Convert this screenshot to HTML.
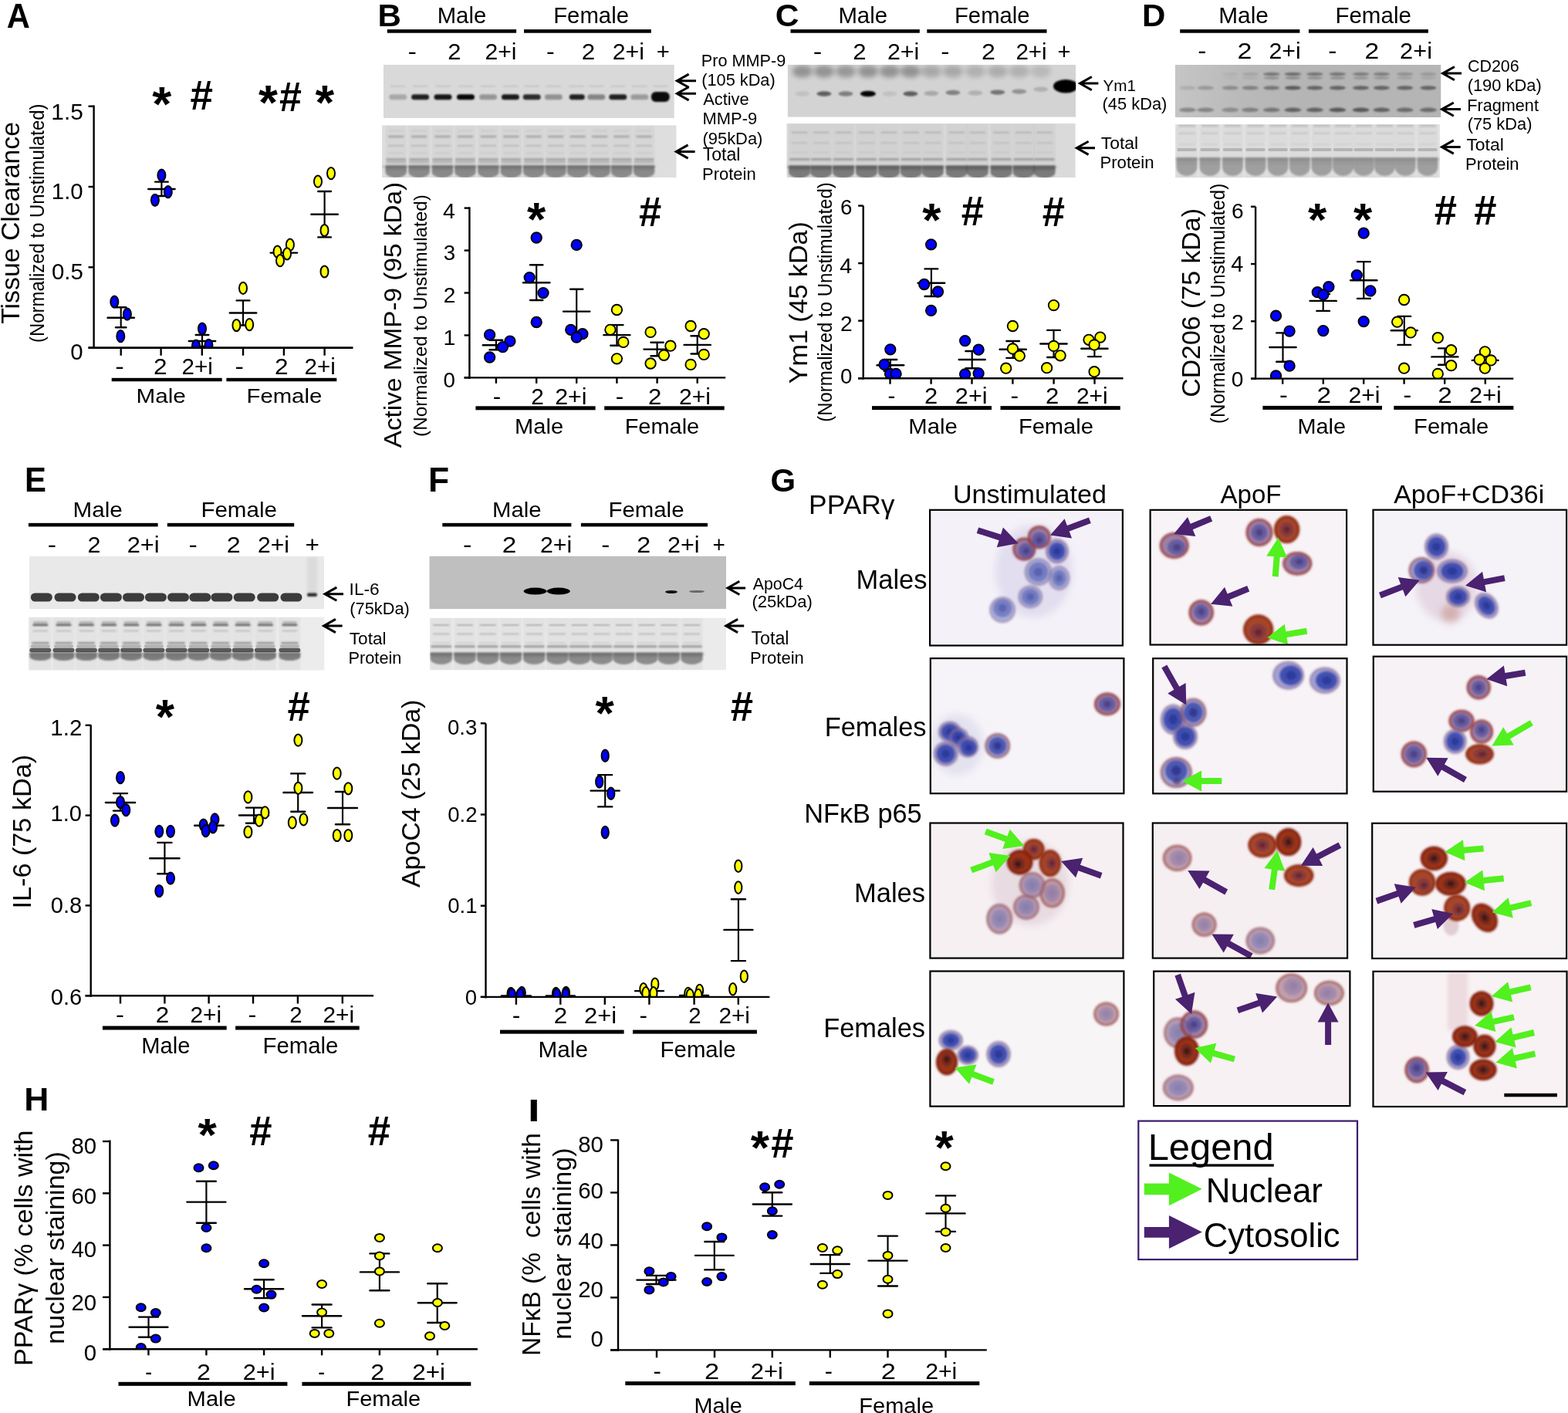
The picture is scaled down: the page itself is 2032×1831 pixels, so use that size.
<!DOCTYPE html>
<html><head><meta charset="utf-8"><title>Figure</title>
<style>html,body{margin:0;padding:0;background:#fff;} svg{display:block;}</style></head>
<body><svg xmlns="http://www.w3.org/2000/svg" width="2032" height="1831" viewBox="0 0 2032 1831" style="white-space:pre">
<defs>
<filter id="b05" x="-50%" y="-50%" width="200%" height="200%"><feGaussianBlur stdDeviation="0.6"/></filter>
<filter id="b1" x="-50%" y="-50%" width="200%" height="200%"><feGaussianBlur stdDeviation="1"/></filter>
<filter id="b15" x="-50%" y="-50%" width="200%" height="200%"><feGaussianBlur stdDeviation="1.5"/></filter>
<filter id="b2" x="-50%" y="-50%" width="200%" height="200%"><feGaussianBlur stdDeviation="2"/></filter>
<filter id="b3" x="-50%" y="-50%" width="200%" height="200%"><feGaussianBlur stdDeviation="3"/></filter>
<linearGradient id="gD" x1="0" y1="0" x2="1" y2="0"><stop offset="0" stop-color="#fff" stop-opacity="0.22"/><stop offset="0.25" stop-color="#fff" stop-opacity="0.06"/><stop offset="0.5" stop-color="#fff" stop-opacity="0"/><stop offset="1" stop-color="#fff" stop-opacity="0"/></linearGradient>
<filter id="b4" x="-50%" y="-50%" width="200%" height="200%"><feGaussianBlur stdDeviation="4"/></filter>

<filter id="cb1" x="-50%" y="-50%" width="200%" height="200%"><feGaussianBlur stdDeviation="1.8"/></filter>
<filter id="cb2" x="-50%" y="-50%" width="200%" height="200%"><feGaussianBlur stdDeviation="2.6"/></filter>
<filter id="cb3" x="-50%" y="-50%" width="200%" height="200%"><feGaussianBlur stdDeviation="5"/></filter>
</defs>
<rect width="2032" height="1831" fill="#fff"/>
<line x1="139.5" y1="411.7" x2="173.9" y2="411.7" stroke="#000" stroke-width="2.4" stroke-linecap="round"/>
<line x1="156.7" y1="398.3" x2="156.7" y2="424.2" stroke="#000" stroke-width="2.16" stroke-linecap="butt"/>
<line x1="150.1" y1="398.3" x2="163.3" y2="398.3" stroke="#000" stroke-width="2.4" stroke-linecap="round"/>
<line x1="150.1" y1="424.2" x2="163.3" y2="424.2" stroke="#000" stroke-width="2.4" stroke-linecap="round"/>
<line x1="192.2" y1="245" x2="226.6" y2="245" stroke="#000" stroke-width="2.4" stroke-linecap="round"/>
<line x1="209.4" y1="235.6" x2="209.4" y2="254" stroke="#000" stroke-width="2.16" stroke-linecap="butt"/>
<line x1="201.1" y1="235.6" x2="217.7" y2="235.6" stroke="#000" stroke-width="2.4" stroke-linecap="round"/>
<line x1="201.1" y1="254" x2="217.7" y2="254" stroke="#000" stroke-width="2.4" stroke-linecap="round"/>
<line x1="244.8" y1="442" x2="279.2" y2="442" stroke="#000" stroke-width="2.4" stroke-linecap="round"/>
<line x1="262" y1="434" x2="262" y2="449" stroke="#000" stroke-width="2.16" stroke-linecap="butt"/>
<line x1="253.7" y1="434" x2="270.3" y2="434" stroke="#000" stroke-width="2.4" stroke-linecap="round"/>
<line x1="253.7" y1="449" x2="270.3" y2="449" stroke="#000" stroke-width="2.4" stroke-linecap="round"/>
<line x1="297.8" y1="405.5" x2="332.2" y2="405.5" stroke="#000" stroke-width="2.4" stroke-linecap="round"/>
<line x1="315" y1="389.4" x2="315" y2="421.5" stroke="#000" stroke-width="2.16" stroke-linecap="butt"/>
<line x1="306.7" y1="389.4" x2="323.3" y2="389.4" stroke="#000" stroke-width="2.4" stroke-linecap="round"/>
<line x1="306.7" y1="421.5" x2="323.3" y2="421.5" stroke="#000" stroke-width="2.4" stroke-linecap="round"/>
<line x1="350.7" y1="327.6" x2="385.1" y2="327.6" stroke="#000" stroke-width="2.4" stroke-linecap="round"/>
<line x1="403.4" y1="277.7" x2="437.8" y2="277.7" stroke="#000" stroke-width="2.4" stroke-linecap="round"/>
<line x1="420.6" y1="248" x2="420.6" y2="307.4" stroke="#000" stroke-width="2.16" stroke-linecap="butt"/>
<line x1="412.3" y1="248" x2="428.9" y2="248" stroke="#000" stroke-width="2.4" stroke-linecap="round"/>
<line x1="412.3" y1="307.4" x2="428.9" y2="307.4" stroke="#000" stroke-width="2.4" stroke-linecap="round"/>
<clipPath id="pc1"><rect x="121.6" y="96.4" width="335.9" height="354.2"/></clipPath>
<g clip-path="url(#pc1)">
<ellipse cx="148.3" cy="391.2" rx="5" ry="7.6" fill="#0000ff" stroke="#000" stroke-width="2"/>
<ellipse cx="164.9" cy="407.2" rx="5" ry="7.6" fill="#0000ff" stroke="#000" stroke-width="2"/>
<ellipse cx="156.3" cy="435.7" rx="5" ry="7.6" fill="#0000ff" stroke="#000" stroke-width="2"/>
<ellipse cx="209.4" cy="227.2" rx="5" ry="7.6" fill="#0000ff" stroke="#000" stroke-width="2"/>
<ellipse cx="217.8" cy="248.6" rx="5" ry="7.6" fill="#0000ff" stroke="#000" stroke-width="2"/>
<ellipse cx="200.9" cy="259.3" rx="5" ry="7.6" fill="#0000ff" stroke="#000" stroke-width="2"/>
<ellipse cx="262" cy="426" rx="5" ry="7.6" fill="#0000ff" stroke="#000" stroke-width="2"/>
<ellipse cx="254" cy="448.2" rx="5" ry="7.6" fill="#0000ff" stroke="#000" stroke-width="2"/>
<ellipse cx="270.4" cy="447.3" rx="5" ry="7.6" fill="#0000ff" stroke="#000" stroke-width="2"/>
<ellipse cx="315" cy="373.4" rx="5" ry="7.6" fill="#ffff00" stroke="#000" stroke-width="2"/>
<ellipse cx="306.4" cy="421.5" rx="5" ry="7.6" fill="#ffff00" stroke="#000" stroke-width="2"/>
<ellipse cx="323.2" cy="420.6" rx="5" ry="7.6" fill="#ffff00" stroke="#000" stroke-width="2"/>
<ellipse cx="359.5" cy="326.1" rx="5" ry="7.6" fill="#ffff00" stroke="#000" stroke-width="2"/>
<ellipse cx="375.9" cy="317.2" rx="5" ry="7.6" fill="#ffff00" stroke="#000" stroke-width="2"/>
<ellipse cx="372" cy="328.8" rx="5" ry="7.6" fill="#ffff00" stroke="#000" stroke-width="2"/>
<ellipse cx="363" cy="337.7" rx="5" ry="7.6" fill="#ffff00" stroke="#000" stroke-width="2"/>
<ellipse cx="412" cy="235.2" rx="5" ry="7.6" fill="#ffff00" stroke="#000" stroke-width="2"/>
<ellipse cx="429" cy="224.6" rx="5" ry="7.6" fill="#ffff00" stroke="#000" stroke-width="2"/>
<ellipse cx="420.5" cy="298.5" rx="5" ry="7.6" fill="#ffff00" stroke="#000" stroke-width="2"/>
<ellipse cx="420.5" cy="352" rx="5" ry="7.6" fill="#ffff00" stroke="#000" stroke-width="2"/>
</g>
<line x1="121.6" y1="136.4" x2="121.6" y2="452.1" stroke="#000" stroke-width="2.4" stroke-linecap="butt"/>
<line x1="114.5" y1="450.6" x2="457.5" y2="450.6" stroke="#000" stroke-width="2.6" stroke-linecap="butt"/>
<line x1="114.5" y1="137.7" x2="121.6" y2="137.7" stroke="#000" stroke-width="2.4" stroke-linecap="butt"/>
<line x1="114.5" y1="242" x2="121.6" y2="242" stroke="#000" stroke-width="2.4" stroke-linecap="butt"/>
<line x1="114.5" y1="346.3" x2="121.6" y2="346.3" stroke="#000" stroke-width="2.4" stroke-linecap="butt"/>
<line x1="114.5" y1="450.6" x2="121.6" y2="450.6" stroke="#000" stroke-width="2.4" stroke-linecap="butt"/>
<line x1="156.7" y1="450.6" x2="156.7" y2="460.7" stroke="#000" stroke-width="2.4" stroke-linecap="butt"/>
<line x1="208.6" y1="450.6" x2="208.6" y2="460.7" stroke="#000" stroke-width="2.4" stroke-linecap="butt"/>
<line x1="261.8" y1="450.6" x2="261.8" y2="460.7" stroke="#000" stroke-width="2.4" stroke-linecap="butt"/>
<line x1="315" y1="450.6" x2="315" y2="460.7" stroke="#000" stroke-width="2.4" stroke-linecap="butt"/>
<line x1="367.9" y1="450.6" x2="367.9" y2="460.7" stroke="#000" stroke-width="2.4" stroke-linecap="butt"/>
<line x1="420.6" y1="450.6" x2="420.6" y2="460.7" stroke="#000" stroke-width="2.4" stroke-linecap="butt"/>
<text transform="translate(66.33 154.5)" font-size="29.799" font-family="Liberation Sans, Arial, sans-serif" fill="#000">1.5</text>
<text transform="translate(66.81 258.01)" font-size="29.379" font-family="Liberation Sans, Arial, sans-serif" fill="#000">1.0</text>
<text transform="translate(66.9 361.61)" font-size="29.379" font-family="Liberation Sans, Arial, sans-serif" fill="#000">0.5</text>
<text transform="translate(91.31 465.51)" font-size="29.379" font-family="Liberation Sans, Arial, sans-serif" fill="#000">0</text>
<text transform="translate(197.21 155.68) scale(1.0000 0.9805)" font-size="64.156" font-family="Liberation Sans, Arial, sans-serif" font-weight="bold" fill="#000">*</text>
<text transform="translate(246.6 142) scale(1.0000 1.0258)" font-size="52.964" font-family="Liberation Sans, Arial, sans-serif" font-weight="bold" fill="#000">#</text>
<text transform="translate(334.91 154.08) scale(1.0000 0.9805)" font-size="64.156" font-family="Liberation Sans, Arial, sans-serif" font-weight="bold" fill="#000">*</text>
<text transform="translate(362.02 143.8) scale(1.0000 1.0390)" font-size="52.008" font-family="Liberation Sans, Arial, sans-serif" font-weight="bold" fill="#000">#</text>
<text transform="translate(408.41 154.42) scale(1.0000 0.9798)" font-size="63.377" font-family="Liberation Sans, Arial, sans-serif" font-weight="bold" fill="#000">*</text>
<text transform="translate(149.37 485.4) scale(1.0000 0.8507)" font-size="34.694" font-family="Liberation Sans, Arial, sans-serif" fill="#000">-</text>
<text transform="translate(199.02 485.4) scale(1.0000 0.9346)" font-size="31.579" font-family="Liberation Sans, Arial, sans-serif" fill="#000">2</text>
<text transform="translate(235.52 485.4)" font-size="29.558" font-family="Liberation Sans, Arial, sans-serif" fill="#000">2+i</text>
<text transform="translate(304.49 485.4) scale(1.0000 0.8608)" font-size="34.286" font-family="Liberation Sans, Arial, sans-serif" fill="#000">-</text>
<text transform="translate(356.02 485.4) scale(1.0000 0.9346)" font-size="31.579" font-family="Liberation Sans, Arial, sans-serif" fill="#000">2</text>
<text transform="translate(394.52 485.4)" font-size="29.558" font-family="Liberation Sans, Arial, sans-serif" fill="#000">2+i</text>
<rect x="144.7" y="489.8" width="143" height="4.4" fill="#000" />
<rect x="293.4" y="489.8" width="142.9" height="4.4" fill="#000" />
<text transform="translate(176.57 522.23) scale(1.0000 0.8996)" font-size="29.642" font-family="Liberation Sans, Arial, sans-serif" fill="#000">Male</text>
<text transform="translate(319.6 522.23) scale(1.0000 0.9110)" font-size="29.271" font-family="Liberation Sans, Arial, sans-serif" fill="#000">Female</text>
<text transform="translate(24.87 419.84) rotate(-90) scale(1 0.9771)" font-size="33.837" font-family="Liberation Sans, Arial, sans-serif" fill="#000">Tissue Clearance</text>
<text transform="translate(57.2 443.88) rotate(-90) scale(1 1.0910)" font-size="23.899" font-family="Liberation Sans, Arial, sans-serif" fill="#000">(Normalized to Unstimulated)</text>
<line x1="625.8" y1="447.3" x2="660" y2="447.3" stroke="#000" stroke-width="2.4" stroke-linecap="round"/>
<line x1="642.9" y1="440.7" x2="642.9" y2="453.2" stroke="#000" stroke-width="2.16" stroke-linecap="butt"/>
<line x1="634.6" y1="440.7" x2="651.2" y2="440.7" stroke="#000" stroke-width="2.4" stroke-linecap="round"/>
<line x1="634.6" y1="453.2" x2="651.2" y2="453.2" stroke="#000" stroke-width="2.4" stroke-linecap="round"/>
<line x1="678.1" y1="366.2" x2="712.3" y2="366.2" stroke="#000" stroke-width="2.4" stroke-linecap="round"/>
<line x1="695.2" y1="343.2" x2="695.2" y2="389" stroke="#000" stroke-width="2.16" stroke-linecap="butt"/>
<line x1="687.1" y1="343.2" x2="703.3" y2="343.2" stroke="#000" stroke-width="2.4" stroke-linecap="round"/>
<line x1="687.1" y1="389" x2="703.3" y2="389" stroke="#000" stroke-width="2.4" stroke-linecap="round"/>
<line x1="730.1" y1="403.6" x2="764.3" y2="403.6" stroke="#000" stroke-width="2.4" stroke-linecap="round"/>
<line x1="747.2" y1="374.8" x2="747.2" y2="432.7" stroke="#000" stroke-width="2.16" stroke-linecap="butt"/>
<line x1="739.1" y1="374.8" x2="755.3" y2="374.8" stroke="#000" stroke-width="2.4" stroke-linecap="round"/>
<line x1="739.1" y1="432.7" x2="755.3" y2="432.7" stroke="#000" stroke-width="2.4" stroke-linecap="round"/>
<line x1="782.3" y1="434.1" x2="816.5" y2="434.1" stroke="#000" stroke-width="2.4" stroke-linecap="round"/>
<line x1="799.4" y1="421.1" x2="799.4" y2="447.8" stroke="#000" stroke-width="2.16" stroke-linecap="butt"/>
<line x1="791.3" y1="421.1" x2="807.5" y2="421.1" stroke="#000" stroke-width="2.4" stroke-linecap="round"/>
<line x1="791.3" y1="447.8" x2="807.5" y2="447.8" stroke="#000" stroke-width="2.4" stroke-linecap="round"/>
<line x1="834.5" y1="452.6" x2="868.7" y2="452.6" stroke="#000" stroke-width="2.4" stroke-linecap="round"/>
<line x1="851.6" y1="443.7" x2="851.6" y2="461.2" stroke="#000" stroke-width="2.16" stroke-linecap="butt"/>
<line x1="843.5" y1="443.7" x2="859.7" y2="443.7" stroke="#000" stroke-width="2.4" stroke-linecap="round"/>
<line x1="843.5" y1="461.2" x2="859.7" y2="461.2" stroke="#000" stroke-width="2.4" stroke-linecap="round"/>
<line x1="886.6" y1="446.9" x2="920.8" y2="446.9" stroke="#000" stroke-width="2.4" stroke-linecap="round"/>
<line x1="903.7" y1="435.3" x2="903.7" y2="458.5" stroke="#000" stroke-width="2.16" stroke-linecap="butt"/>
<line x1="895.6" y1="435.3" x2="911.8" y2="435.3" stroke="#000" stroke-width="2.4" stroke-linecap="round"/>
<line x1="895.6" y1="458.5" x2="911.8" y2="458.5" stroke="#000" stroke-width="2.4" stroke-linecap="round"/>
<clipPath id="pc2"><rect x="608.4" y="228.4" width="331.8" height="261"/></clipPath>
<g clip-path="url(#pc2)">
<ellipse cx="634.6" cy="433.9" rx="6.7" ry="6.7" fill="#0000ff" stroke="#000" stroke-width="1.9"/>
<ellipse cx="660.9" cy="442.1" rx="6.7" ry="6.7" fill="#0000ff" stroke="#000" stroke-width="1.9"/>
<ellipse cx="651.5" cy="449.6" rx="6.7" ry="6.7" fill="#0000ff" stroke="#000" stroke-width="1.9"/>
<ellipse cx="634.6" cy="463" rx="6.7" ry="6.7" fill="#0000ff" stroke="#000" stroke-width="1.9"/>
<ellipse cx="695.2" cy="308" rx="6.7" ry="6.7" fill="#0000ff" stroke="#000" stroke-width="1.9"/>
<ellipse cx="686.2" cy="359.6" rx="6.7" ry="6.7" fill="#0000ff" stroke="#000" stroke-width="1.9"/>
<ellipse cx="704" cy="379.6" rx="6.7" ry="6.7" fill="#0000ff" stroke="#000" stroke-width="1.9"/>
<ellipse cx="695.2" cy="417.5" rx="6.7" ry="6.7" fill="#0000ff" stroke="#000" stroke-width="1.9"/>
<ellipse cx="747.2" cy="317.4" rx="6.7" ry="6.7" fill="#0000ff" stroke="#000" stroke-width="1.9"/>
<ellipse cx="739.7" cy="427.3" rx="6.7" ry="6.7" fill="#0000ff" stroke="#000" stroke-width="1.9"/>
<ellipse cx="754.9" cy="432.7" rx="6.7" ry="6.7" fill="#0000ff" stroke="#000" stroke-width="1.9"/>
<ellipse cx="747.2" cy="437.1" rx="6.7" ry="6.7" fill="#0000ff" stroke="#000" stroke-width="1.9"/>
<ellipse cx="799.4" cy="401.5" rx="6.7" ry="6.7" fill="#ffff00" stroke="#000" stroke-width="1.9"/>
<ellipse cx="790.9" cy="427.3" rx="6.7" ry="6.7" fill="#ffff00" stroke="#000" stroke-width="1.9"/>
<ellipse cx="807.8" cy="443.4" rx="6.7" ry="6.7" fill="#ffff00" stroke="#000" stroke-width="1.9"/>
<ellipse cx="799.4" cy="464.8" rx="6.7" ry="6.7" fill="#ffff00" stroke="#000" stroke-width="1.9"/>
<ellipse cx="843.1" cy="430.4" rx="6.7" ry="6.7" fill="#ffff00" stroke="#000" stroke-width="1.9"/>
<ellipse cx="868.9" cy="448.2" rx="6.7" ry="6.7" fill="#ffff00" stroke="#000" stroke-width="1.9"/>
<ellipse cx="860.4" cy="460.3" rx="6.7" ry="6.7" fill="#ffff00" stroke="#000" stroke-width="1.9"/>
<ellipse cx="843.1" cy="471" rx="6.7" ry="6.7" fill="#ffff00" stroke="#000" stroke-width="1.9"/>
<ellipse cx="895.1" cy="422.5" rx="6.7" ry="6.7" fill="#ffff00" stroke="#000" stroke-width="1.9"/>
<ellipse cx="912.2" cy="432.7" rx="6.7" ry="6.7" fill="#ffff00" stroke="#000" stroke-width="1.9"/>
<ellipse cx="912.2" cy="459.4" rx="6.7" ry="6.7" fill="#ffff00" stroke="#000" stroke-width="1.9"/>
<ellipse cx="895.1" cy="472.4" rx="6.7" ry="6.7" fill="#ffff00" stroke="#000" stroke-width="1.9"/>
</g>
<line x1="608.4" y1="268.4" x2="608.4" y2="490.9" stroke="#000" stroke-width="2.4" stroke-linecap="butt"/>
<line x1="601.6" y1="489.4" x2="940.2" y2="489.4" stroke="#000" stroke-width="2.4" stroke-linecap="butt"/>
<line x1="601.6" y1="269.6" x2="608.4" y2="269.6" stroke="#000" stroke-width="2.4" stroke-linecap="butt"/>
<line x1="601.6" y1="324.55" x2="608.4" y2="324.55" stroke="#000" stroke-width="2.4" stroke-linecap="butt"/>
<line x1="601.6" y1="379.5" x2="608.4" y2="379.5" stroke="#000" stroke-width="2.4" stroke-linecap="butt"/>
<line x1="601.6" y1="434.45" x2="608.4" y2="434.45" stroke="#000" stroke-width="2.4" stroke-linecap="butt"/>
<line x1="601.6" y1="489.4" x2="608.4" y2="489.4" stroke="#000" stroke-width="2.4" stroke-linecap="butt"/>
<line x1="642.9" y1="489.4" x2="642.9" y2="496.8" stroke="#000" stroke-width="2.4" stroke-linecap="butt"/>
<line x1="695.2" y1="489.4" x2="695.2" y2="496.8" stroke="#000" stroke-width="2.4" stroke-linecap="butt"/>
<line x1="747.2" y1="489.4" x2="747.2" y2="496.8" stroke="#000" stroke-width="2.4" stroke-linecap="butt"/>
<line x1="799.4" y1="489.4" x2="799.4" y2="496.8" stroke="#000" stroke-width="2.4" stroke-linecap="butt"/>
<line x1="851.6" y1="489.4" x2="851.6" y2="496.8" stroke="#000" stroke-width="2.4" stroke-linecap="butt"/>
<line x1="903.7" y1="489.4" x2="903.7" y2="496.8" stroke="#000" stroke-width="2.4" stroke-linecap="butt"/>
<text transform="translate(573.89 282.7)" font-size="28.488" font-family="Liberation Sans, Arial, sans-serif" fill="#000">4</text>
<text transform="translate(574.73 337.02)" font-size="27.684" font-family="Liberation Sans, Arial, sans-serif" fill="#000">3</text>
<text transform="translate(574.69 391.9)" font-size="28.080" font-family="Liberation Sans, Arial, sans-serif" fill="#000">2</text>
<text transform="translate(574.46 446.8)" font-size="28.488" font-family="Liberation Sans, Arial, sans-serif" fill="#000">1</text>
<text transform="translate(574.59 501.52)" font-size="27.684" font-family="Liberation Sans, Arial, sans-serif" fill="#000">0</text>
<text transform="translate(683.01 304.8) scale(1.0000 0.9746)" font-size="62.338" font-family="Liberation Sans, Arial, sans-serif" font-weight="bold" fill="#000">*</text>
<text transform="translate(828.06 292.8) scale(1.0000 1.0277)" font-size="52.581" font-family="Liberation Sans, Arial, sans-serif" font-weight="bold" fill="#000">#</text>
<text transform="translate(638.72 523.8) scale(1.0000 0.9390)" font-size="31.429" font-family="Liberation Sans, Arial, sans-serif" fill="#000">-</text>
<text transform="translate(688.31 523.8) scale(1.0000 0.9895)" font-size="29.825" font-family="Liberation Sans, Arial, sans-serif" fill="#000">2</text>
<text transform="translate(719.18 523.8) scale(1.0000 0.9721)" font-size="30.361" font-family="Liberation Sans, Arial, sans-serif" fill="#000">2+i</text>
<text transform="translate(797.82 523.8) scale(1.0000 0.9390)" font-size="31.429" font-family="Liberation Sans, Arial, sans-serif" fill="#000">-</text>
<text transform="translate(840.04 523.8) scale(1.0000 0.9477)" font-size="31.140" font-family="Liberation Sans, Arial, sans-serif" fill="#000">2</text>
<text transform="translate(880 523.8) scale(1.0000 0.9824)" font-size="30.040" font-family="Liberation Sans, Arial, sans-serif" fill="#000">2+i</text>
<rect x="616.4" y="526.3" width="155.2" height="5" fill="#000" />
<rect x="783.2" y="526.3" width="155.5" height="5" fill="#000" />
<text transform="translate(667.12 561.93) scale(1.0000 0.9412)" font-size="29.054" font-family="Liberation Sans, Arial, sans-serif" fill="#000">Male</text>
<text transform="translate(809.63 561.93) scale(1.0000 0.9443)" font-size="28.959" font-family="Liberation Sans, Arial, sans-serif" fill="#000">Female</text>
<text transform="translate(520.23 580.27) rotate(-90) scale(1 0.9241)" font-size="33.324" font-family="Liberation Sans, Arial, sans-serif" fill="#000">Active MMP-9 (95 kDa)</text>
<text transform="translate(553.32 565.9) rotate(-90) scale(1 0.9921)" font-size="24.226" font-family="Liberation Sans, Arial, sans-serif" fill="#000">(Normalized to Unstimulated)</text>
<line x1="1136.6" y1="473.3" x2="1171.2" y2="473.3" stroke="#000" stroke-width="2.4" stroke-linecap="round"/>
<line x1="1153.9" y1="466" x2="1153.9" y2="480.8" stroke="#000" stroke-width="2.16" stroke-linecap="butt"/>
<line x1="1145.6" y1="466" x2="1162.2" y2="466" stroke="#000" stroke-width="2.4" stroke-linecap="round"/>
<line x1="1145.6" y1="480.8" x2="1162.2" y2="480.8" stroke="#000" stroke-width="2.4" stroke-linecap="round"/>
<line x1="1189.6" y1="366.7" x2="1224.2" y2="366.7" stroke="#000" stroke-width="2.4" stroke-linecap="round"/>
<line x1="1206.9" y1="348.4" x2="1206.9" y2="384" stroke="#000" stroke-width="2.16" stroke-linecap="butt"/>
<line x1="1198.6" y1="348.4" x2="1215.2" y2="348.4" stroke="#000" stroke-width="2.4" stroke-linecap="round"/>
<line x1="1198.6" y1="384" x2="1215.2" y2="384" stroke="#000" stroke-width="2.4" stroke-linecap="round"/>
<line x1="1242.7" y1="466" x2="1276.7" y2="466" stroke="#000" stroke-width="2.4" stroke-linecap="round"/>
<line x1="1259.7" y1="455" x2="1259.7" y2="477.2" stroke="#000" stroke-width="2.16" stroke-linecap="butt"/>
<line x1="1251.4" y1="455" x2="1268" y2="455" stroke="#000" stroke-width="2.4" stroke-linecap="round"/>
<line x1="1251.4" y1="477.2" x2="1268" y2="477.2" stroke="#000" stroke-width="2.4" stroke-linecap="round"/>
<line x1="1295.6" y1="452.8" x2="1329.8" y2="452.8" stroke="#000" stroke-width="2.4" stroke-linecap="round"/>
<line x1="1312.7" y1="442" x2="1312.7" y2="463.9" stroke="#000" stroke-width="2.16" stroke-linecap="butt"/>
<line x1="1304.4" y1="442" x2="1321" y2="442" stroke="#000" stroke-width="2.4" stroke-linecap="round"/>
<line x1="1304.4" y1="463.9" x2="1321" y2="463.9" stroke="#000" stroke-width="2.4" stroke-linecap="round"/>
<line x1="1348.4" y1="445.5" x2="1382.6" y2="445.5" stroke="#000" stroke-width="2.4" stroke-linecap="round"/>
<line x1="1365.5" y1="427.9" x2="1365.5" y2="463" stroke="#000" stroke-width="2.16" stroke-linecap="butt"/>
<line x1="1357.2" y1="427.9" x2="1373.8" y2="427.9" stroke="#000" stroke-width="2.4" stroke-linecap="round"/>
<line x1="1357.2" y1="463" x2="1373.8" y2="463" stroke="#000" stroke-width="2.4" stroke-linecap="round"/>
<line x1="1401.3" y1="451.7" x2="1435.5" y2="451.7" stroke="#000" stroke-width="2.4" stroke-linecap="round"/>
<line x1="1418.4" y1="441" x2="1418.4" y2="462.1" stroke="#000" stroke-width="2.16" stroke-linecap="butt"/>
<line x1="1410.1" y1="441" x2="1426.7" y2="441" stroke="#000" stroke-width="2.4" stroke-linecap="round"/>
<line x1="1410.1" y1="462.1" x2="1426.7" y2="462.1" stroke="#000" stroke-width="2.4" stroke-linecap="round"/>
<clipPath id="pc3"><rect x="1118.7" y="226.6" width="336.8" height="263.6"/></clipPath>
<g clip-path="url(#pc3)">
<ellipse cx="1153.8" cy="452.8" rx="6.7" ry="6.7" fill="#0000ff" stroke="#000" stroke-width="1.9"/>
<ellipse cx="1146" cy="472.4" rx="6.7" ry="6.7" fill="#0000ff" stroke="#000" stroke-width="1.9"/>
<ellipse cx="1153.5" cy="484.4" rx="6.7" ry="6.7" fill="#0000ff" stroke="#000" stroke-width="1.9"/>
<ellipse cx="1161.1" cy="484.4" rx="6.7" ry="6.7" fill="#0000ff" stroke="#000" stroke-width="1.9"/>
<ellipse cx="1206.6" cy="316.8" rx="6.7" ry="6.7" fill="#0000ff" stroke="#000" stroke-width="1.9"/>
<ellipse cx="1197.7" cy="368.5" rx="6.7" ry="6.7" fill="#0000ff" stroke="#000" stroke-width="1.9"/>
<ellipse cx="1215.5" cy="378" rx="6.7" ry="6.7" fill="#0000ff" stroke="#000" stroke-width="1.9"/>
<ellipse cx="1206.6" cy="402.4" rx="6.7" ry="6.7" fill="#0000ff" stroke="#000" stroke-width="1.9"/>
<ellipse cx="1250.6" cy="441.6" rx="6.7" ry="6.7" fill="#0000ff" stroke="#000" stroke-width="1.9"/>
<ellipse cx="1268.1" cy="453.2" rx="6.7" ry="6.7" fill="#0000ff" stroke="#000" stroke-width="1.9"/>
<ellipse cx="1250.6" cy="484.9" rx="6.7" ry="6.7" fill="#0000ff" stroke="#000" stroke-width="1.9"/>
<ellipse cx="1268.1" cy="483.8" rx="6.7" ry="6.7" fill="#0000ff" stroke="#000" stroke-width="1.9"/>
<ellipse cx="1312.4" cy="422.5" rx="6.7" ry="6.7" fill="#ffff00" stroke="#000" stroke-width="1.9"/>
<ellipse cx="1312.4" cy="451.9" rx="6.7" ry="6.7" fill="#ffff00" stroke="#000" stroke-width="1.9"/>
<ellipse cx="1321.3" cy="461.2" rx="6.7" ry="6.7" fill="#ffff00" stroke="#000" stroke-width="1.9"/>
<ellipse cx="1303.7" cy="477.2" rx="6.7" ry="6.7" fill="#ffff00" stroke="#000" stroke-width="1.9"/>
<ellipse cx="1365.5" cy="395.6" rx="6.7" ry="6.7" fill="#ffff00" stroke="#000" stroke-width="1.9"/>
<ellipse cx="1365.5" cy="448.4" rx="6.7" ry="6.7" fill="#ffff00" stroke="#000" stroke-width="1.9"/>
<ellipse cx="1374.1" cy="460.8" rx="6.7" ry="6.7" fill="#ffff00" stroke="#000" stroke-width="1.9"/>
<ellipse cx="1356.6" cy="476.7" rx="6.7" ry="6.7" fill="#ffff00" stroke="#000" stroke-width="1.9"/>
<ellipse cx="1411" cy="440.3" rx="6.7" ry="6.7" fill="#ffff00" stroke="#000" stroke-width="1.9"/>
<ellipse cx="1425.8" cy="437.1" rx="6.7" ry="6.7" fill="#ffff00" stroke="#000" stroke-width="1.9"/>
<ellipse cx="1418.1" cy="446.9" rx="6.7" ry="6.7" fill="#ffff00" stroke="#000" stroke-width="1.9"/>
<ellipse cx="1418.1" cy="481.7" rx="6.7" ry="6.7" fill="#ffff00" stroke="#000" stroke-width="1.9"/>
</g>
<line x1="1118.7" y1="266.6" x2="1118.7" y2="491.7" stroke="#000" stroke-width="2.4" stroke-linecap="butt"/>
<line x1="1112.1" y1="490.2" x2="1455.5" y2="490.2" stroke="#000" stroke-width="2.4" stroke-linecap="butt"/>
<line x1="1112.1" y1="266.58" x2="1118.7" y2="266.58" stroke="#000" stroke-width="2.4" stroke-linecap="butt"/>
<line x1="1112.1" y1="341.12" x2="1118.7" y2="341.12" stroke="#000" stroke-width="2.4" stroke-linecap="butt"/>
<line x1="1112.1" y1="415.66" x2="1118.7" y2="415.66" stroke="#000" stroke-width="2.4" stroke-linecap="butt"/>
<line x1="1112.1" y1="490.2" x2="1118.7" y2="490.2" stroke="#000" stroke-width="2.4" stroke-linecap="butt"/>
<line x1="1153.5" y1="490.2" x2="1153.5" y2="497.7" stroke="#000" stroke-width="2.4" stroke-linecap="butt"/>
<line x1="1206.6" y1="490.2" x2="1206.6" y2="497.7" stroke="#000" stroke-width="2.4" stroke-linecap="butt"/>
<line x1="1259.5" y1="490.2" x2="1259.5" y2="497.7" stroke="#000" stroke-width="2.4" stroke-linecap="butt"/>
<line x1="1312.4" y1="490.2" x2="1312.4" y2="497.7" stroke="#000" stroke-width="2.4" stroke-linecap="butt"/>
<line x1="1365.6" y1="490.2" x2="1365.6" y2="497.7" stroke="#000" stroke-width="2.4" stroke-linecap="butt"/>
<line x1="1418.5" y1="490.2" x2="1418.5" y2="497.7" stroke="#000" stroke-width="2.4" stroke-linecap="butt"/>
<text transform="translate(1089.03 278.22)" font-size="27.684" font-family="Liberation Sans, Arial, sans-serif" fill="#000">6</text>
<text transform="translate(1088.19 353.8)" font-size="28.488" font-family="Liberation Sans, Arial, sans-serif" fill="#000">4</text>
<text transform="translate(1088.99 428.6)" font-size="28.080" font-family="Liberation Sans, Arial, sans-serif" fill="#000">2</text>
<text transform="translate(1088.89 497.32)" font-size="27.684" font-family="Liberation Sans, Arial, sans-serif" fill="#000">0</text>
<text transform="translate(1195.31 306.43) scale(1.0000 0.9659)" font-size="62.338" font-family="Liberation Sans, Arial, sans-serif" font-weight="bold" fill="#000">*</text>
<text transform="translate(1245.76 291.9) scale(1.0000 1.0221)" font-size="52.581" font-family="Liberation Sans, Arial, sans-serif" font-weight="bold" fill="#000">#</text>
<text transform="translate(1350.86 293) scale(1.0000 1.0054)" font-size="52.581" font-family="Liberation Sans, Arial, sans-serif" font-weight="bold" fill="#000">#</text>
<text transform="translate(1150.61 523.4) scale(1.0000 1.0043)" font-size="29.388" font-family="Liberation Sans, Arial, sans-serif" fill="#000">-</text>
<text transform="translate(1197.95 523.4) scale(1.0000 0.9545)" font-size="30.921" font-family="Liberation Sans, Arial, sans-serif" fill="#000">2</text>
<text transform="translate(1237.87 523.4) scale(1.0000 0.9644)" font-size="30.602" font-family="Liberation Sans, Arial, sans-serif" fill="#000">2+i</text>
<text transform="translate(1309.5 523.4) scale(1.0000 0.9270)" font-size="31.837" font-family="Liberation Sans, Arial, sans-serif" fill="#000">-</text>
<text transform="translate(1354.94 523.4) scale(1.0000 0.9477)" font-size="31.140" font-family="Liberation Sans, Arial, sans-serif" fill="#000">2</text>
<text transform="translate(1394.9 523.4) scale(1.0000 0.9851)" font-size="29.960" font-family="Liberation Sans, Arial, sans-serif" fill="#000">2+i</text>
<rect x="1130" y="526.1" width="155" height="5" fill="#000" />
<rect x="1296.5" y="526.1" width="155.2" height="5" fill="#000" />
<text transform="translate(1177.3 561.93) scale(1.0000 0.9349)" font-size="29.250" font-family="Liberation Sans, Arial, sans-serif" fill="#000">Male</text>
<text transform="translate(1319.91 561.93) scale(1.0000 0.9393)" font-size="29.115" font-family="Liberation Sans, Arial, sans-serif" fill="#000">Female</text>
<text transform="translate(1045.94 497.15) rotate(-90) scale(1 0.9735)" font-size="34.057" font-family="Liberation Sans, Arial, sans-serif" fill="#000">Ym1 (45 kDa)</text>
<text transform="translate(1077.75 546.79) rotate(-90) scale(1 1.0379)" font-size="23.984" font-family="Liberation Sans, Arial, sans-serif" fill="#000">(Normalized to Unstimulated)</text>
<line x1="1645.4" y1="450" x2="1679.6" y2="450" stroke="#000" stroke-width="2.4" stroke-linecap="round"/>
<line x1="1662.5" y1="431.4" x2="1662.5" y2="468.7" stroke="#000" stroke-width="2.16" stroke-linecap="butt"/>
<line x1="1654.2" y1="431.4" x2="1670.8" y2="431.4" stroke="#000" stroke-width="2.4" stroke-linecap="round"/>
<line x1="1654.2" y1="468.7" x2="1670.8" y2="468.7" stroke="#000" stroke-width="2.4" stroke-linecap="round"/>
<line x1="1697.6" y1="389.9" x2="1731.8" y2="389.9" stroke="#000" stroke-width="2.4" stroke-linecap="round"/>
<line x1="1714.7" y1="381" x2="1714.7" y2="402.9" stroke="#000" stroke-width="2.16" stroke-linecap="butt"/>
<line x1="1706.4" y1="381" x2="1723" y2="381" stroke="#000" stroke-width="2.4" stroke-linecap="round"/>
<line x1="1706.4" y1="402.9" x2="1723" y2="402.9" stroke="#000" stroke-width="2.4" stroke-linecap="round"/>
<line x1="1750.2" y1="363.2" x2="1784.4" y2="363.2" stroke="#000" stroke-width="2.4" stroke-linecap="round"/>
<line x1="1767.3" y1="339.1" x2="1767.3" y2="386.9" stroke="#000" stroke-width="2.16" stroke-linecap="butt"/>
<line x1="1759" y1="339.1" x2="1775.6" y2="339.1" stroke="#000" stroke-width="2.4" stroke-linecap="round"/>
<line x1="1759" y1="386.9" x2="1775.6" y2="386.9" stroke="#000" stroke-width="2.4" stroke-linecap="round"/>
<line x1="1802.8" y1="428.2" x2="1836.8" y2="428.2" stroke="#000" stroke-width="2.4" stroke-linecap="round"/>
<line x1="1819.8" y1="409.9" x2="1819.8" y2="446.9" stroke="#000" stroke-width="2.16" stroke-linecap="butt"/>
<line x1="1811.5" y1="409.9" x2="1828.1" y2="409.9" stroke="#000" stroke-width="2.4" stroke-linecap="round"/>
<line x1="1811.5" y1="446.9" x2="1828.1" y2="446.9" stroke="#000" stroke-width="2.4" stroke-linecap="round"/>
<line x1="1855.4" y1="462.4" x2="1889.4" y2="462.4" stroke="#000" stroke-width="2.4" stroke-linecap="round"/>
<line x1="1872.4" y1="451.4" x2="1872.4" y2="472.8" stroke="#000" stroke-width="2.16" stroke-linecap="butt"/>
<line x1="1864.1" y1="451.4" x2="1880.7" y2="451.4" stroke="#000" stroke-width="2.4" stroke-linecap="round"/>
<line x1="1864.1" y1="472.8" x2="1880.7" y2="472.8" stroke="#000" stroke-width="2.4" stroke-linecap="round"/>
<line x1="1907.8" y1="466.9" x2="1941.6" y2="466.9" stroke="#000" stroke-width="2.4" stroke-linecap="round"/>
<clipPath id="pc4"><rect x="1627.1" y="227.8" width="334.2" height="262.8"/></clipPath>
<g clip-path="url(#pc4)">
<ellipse cx="1653.5" cy="409.2" rx="6.7" ry="6.7" fill="#0000ff" stroke="#000" stroke-width="1.9"/>
<ellipse cx="1671.1" cy="429.1" rx="6.7" ry="6.7" fill="#0000ff" stroke="#000" stroke-width="1.9"/>
<ellipse cx="1671.1" cy="474.2" rx="6.7" ry="6.7" fill="#0000ff" stroke="#000" stroke-width="1.9"/>
<ellipse cx="1653.5" cy="487" rx="6.7" ry="6.7" fill="#0000ff" stroke="#000" stroke-width="1.9"/>
<ellipse cx="1707.3" cy="378.7" rx="6.7" ry="6.7" fill="#0000ff" stroke="#000" stroke-width="1.9"/>
<ellipse cx="1721.9" cy="371.7" rx="6.7" ry="6.7" fill="#0000ff" stroke="#000" stroke-width="1.9"/>
<ellipse cx="1714.8" cy="381.9" rx="6.7" ry="6.7" fill="#0000ff" stroke="#000" stroke-width="1.9"/>
<ellipse cx="1714.8" cy="428.6" rx="6.7" ry="6.7" fill="#0000ff" stroke="#000" stroke-width="1.9"/>
<ellipse cx="1767.2" cy="302.2" rx="6.7" ry="6.7" fill="#0000ff" stroke="#000" stroke-width="1.9"/>
<ellipse cx="1758.3" cy="356.6" rx="6.7" ry="6.7" fill="#0000ff" stroke="#000" stroke-width="1.9"/>
<ellipse cx="1775.9" cy="376.9" rx="6.7" ry="6.7" fill="#0000ff" stroke="#000" stroke-width="1.9"/>
<ellipse cx="1767.2" cy="416.6" rx="6.7" ry="6.7" fill="#0000ff" stroke="#000" stroke-width="1.9"/>
<ellipse cx="1819.6" cy="388.5" rx="6.7" ry="6.7" fill="#ffff00" stroke="#000" stroke-width="1.9"/>
<ellipse cx="1810.7" cy="417.2" rx="6.7" ry="6.7" fill="#ffff00" stroke="#000" stroke-width="1.9"/>
<ellipse cx="1828.2" cy="430.9" rx="6.7" ry="6.7" fill="#ffff00" stroke="#000" stroke-width="1.9"/>
<ellipse cx="1819.6" cy="477.2" rx="6.7" ry="6.7" fill="#ffff00" stroke="#000" stroke-width="1.9"/>
<ellipse cx="1863.3" cy="437.7" rx="6.7" ry="6.7" fill="#ffff00" stroke="#000" stroke-width="1.9"/>
<ellipse cx="1880.6" cy="453.7" rx="6.7" ry="6.7" fill="#ffff00" stroke="#000" stroke-width="1.9"/>
<ellipse cx="1880.6" cy="473.7" rx="6.7" ry="6.7" fill="#ffff00" stroke="#000" stroke-width="1.9"/>
<ellipse cx="1863.3" cy="484.4" rx="6.7" ry="6.7" fill="#ffff00" stroke="#000" stroke-width="1.9"/>
<ellipse cx="1924.4" cy="455.8" rx="6.7" ry="6.7" fill="#ffff00" stroke="#000" stroke-width="1.9"/>
<ellipse cx="1917.3" cy="466" rx="6.7" ry="6.7" fill="#ffff00" stroke="#000" stroke-width="1.9"/>
<ellipse cx="1932.2" cy="466.9" rx="6.7" ry="6.7" fill="#ffff00" stroke="#000" stroke-width="1.9"/>
<ellipse cx="1924.4" cy="477.2" rx="6.7" ry="6.7" fill="#ffff00" stroke="#000" stroke-width="1.9"/>
</g>
<line x1="1627.1" y1="267.8" x2="1627.1" y2="492.1" stroke="#000" stroke-width="2.4" stroke-linecap="butt"/>
<line x1="1621" y1="490.6" x2="1961.3" y2="490.6" stroke="#000" stroke-width="2.4" stroke-linecap="butt"/>
<line x1="1621" y1="267.76" x2="1627.1" y2="267.76" stroke="#000" stroke-width="2.4" stroke-linecap="butt"/>
<line x1="1621" y1="342.04" x2="1627.1" y2="342.04" stroke="#000" stroke-width="2.4" stroke-linecap="butt"/>
<line x1="1621" y1="416.32" x2="1627.1" y2="416.32" stroke="#000" stroke-width="2.4" stroke-linecap="butt"/>
<line x1="1621" y1="490.6" x2="1627.1" y2="490.6" stroke="#000" stroke-width="2.4" stroke-linecap="butt"/>
<line x1="1662.2" y1="490.6" x2="1662.2" y2="497.7" stroke="#000" stroke-width="2.4" stroke-linecap="butt"/>
<line x1="1714.8" y1="490.6" x2="1714.8" y2="497.7" stroke="#000" stroke-width="2.4" stroke-linecap="butt"/>
<line x1="1767.2" y1="490.6" x2="1767.2" y2="497.7" stroke="#000" stroke-width="2.4" stroke-linecap="butt"/>
<line x1="1819.6" y1="490.6" x2="1819.6" y2="497.7" stroke="#000" stroke-width="2.4" stroke-linecap="butt"/>
<line x1="1872.2" y1="490.6" x2="1872.2" y2="497.7" stroke="#000" stroke-width="2.4" stroke-linecap="butt"/>
<line x1="1924.8" y1="490.6" x2="1924.8" y2="497.7" stroke="#000" stroke-width="2.4" stroke-linecap="butt"/>
<text transform="translate(1596.01 282.87)" font-size="28.107" font-family="Liberation Sans, Arial, sans-serif" fill="#000">6</text>
<text transform="translate(1595.16 351.85)" font-size="28.924" font-family="Liberation Sans, Arial, sans-serif" fill="#000">4</text>
<text transform="translate(1595.97 427.05)" font-size="28.510" font-family="Liberation Sans, Arial, sans-serif" fill="#000">2</text>
<text transform="translate(1595.87 500.87)" font-size="28.107" font-family="Liberation Sans, Arial, sans-serif" fill="#000">0</text>
<text transform="translate(1695.11 305.36) scale(1.0000 0.9573)" font-size="62.338" font-family="Liberation Sans, Arial, sans-serif" font-weight="bold" fill="#000">*</text>
<text transform="translate(1753.91 305.36) scale(1.0000 0.9573)" font-size="62.338" font-family="Liberation Sans, Arial, sans-serif" font-weight="bold" fill="#000">*</text>
<text transform="translate(1858.76 290.6) scale(1.0000 1.0221)" font-size="52.581" font-family="Liberation Sans, Arial, sans-serif" font-weight="bold" fill="#000">#</text>
<text transform="translate(1910.16 290.6) scale(1.0000 1.0221)" font-size="52.581" font-family="Liberation Sans, Arial, sans-serif" font-weight="bold" fill="#000">#</text>
<text transform="translate(1657.88 522.3) scale(1.0000 0.9153)" font-size="32.245" font-family="Liberation Sans, Arial, sans-serif" fill="#000">-</text>
<text transform="translate(1706.43 522.3) scale(1.0000 0.8854)" font-size="33.333" font-family="Liberation Sans, Arial, sans-serif" fill="#000">2</text>
<text transform="translate(1747.39 522.3) scale(1.0000 0.9772)" font-size="30.201" font-family="Liberation Sans, Arial, sans-serif" fill="#000">2+i</text>
<text transform="translate(1818.58 522.3) scale(1.0000 0.9153)" font-size="32.245" font-family="Liberation Sans, Arial, sans-serif" fill="#000">-</text>
<text transform="translate(1863.13 522.3) scale(1.0000 0.8854)" font-size="33.333" font-family="Liberation Sans, Arial, sans-serif" fill="#000">2</text>
<text transform="translate(1904.07 522.3) scale(1.0000 0.9619)" font-size="30.683" font-family="Liberation Sans, Arial, sans-serif" fill="#000">2+i</text>
<rect x="1636.4" y="525.9" width="154.6" height="5" fill="#000" />
<rect x="1806.3" y="525.9" width="155.1" height="5" fill="#000" />
<text transform="translate(1681.43 562.13) scale(1.0000 0.9460)" font-size="28.907" font-family="Liberation Sans, Arial, sans-serif" fill="#000">Male</text>
<text transform="translate(1832.11 562.13) scale(1.0000 0.9383)" font-size="29.146" font-family="Liberation Sans, Arial, sans-serif" fill="#000">Female</text>
<text transform="translate(1554.88 514.83) rotate(-90)" font-size="33.886" font-family="Liberation Sans, Arial, sans-serif" fill="#000">CD206 (75 kDa)</text>
<text transform="translate(1587.05 548.89) rotate(-90) scale(1 1.0358)" font-size="24.031" font-family="Liberation Sans, Arial, sans-serif" fill="#000">(Normalized to Unstimulated)</text>
<line x1="136.9" y1="1040" x2="175.1" y2="1040" stroke="#000" stroke-width="2.4" stroke-linecap="round"/>
<line x1="156" y1="1028.1" x2="156" y2="1050.6" stroke="#000" stroke-width="2.16" stroke-linecap="butt"/>
<line x1="147" y1="1028.1" x2="165" y2="1028.1" stroke="#000" stroke-width="2.4" stroke-linecap="round"/>
<line x1="147" y1="1050.6" x2="165" y2="1050.6" stroke="#000" stroke-width="2.4" stroke-linecap="round"/>
<line x1="194.3" y1="1112.3" x2="232.5" y2="1112.3" stroke="#000" stroke-width="2.4" stroke-linecap="round"/>
<line x1="213.4" y1="1091.9" x2="213.4" y2="1132.3" stroke="#000" stroke-width="2.16" stroke-linecap="butt"/>
<line x1="204.4" y1="1091.9" x2="222.4" y2="1091.9" stroke="#000" stroke-width="2.4" stroke-linecap="round"/>
<line x1="204.4" y1="1132.3" x2="222.4" y2="1132.3" stroke="#000" stroke-width="2.4" stroke-linecap="round"/>
<line x1="252.1" y1="1069.7" x2="289.7" y2="1069.7" stroke="#000" stroke-width="2.4" stroke-linecap="round"/>
<line x1="310" y1="1056.5" x2="348" y2="1056.5" stroke="#000" stroke-width="2.4" stroke-linecap="round"/>
<line x1="329" y1="1046.6" x2="329" y2="1066.7" stroke="#000" stroke-width="2.16" stroke-linecap="butt"/>
<line x1="319" y1="1046.6" x2="339" y2="1046.6" stroke="#000" stroke-width="2.4" stroke-linecap="round"/>
<line x1="319" y1="1066.7" x2="339" y2="1066.7" stroke="#000" stroke-width="2.4" stroke-linecap="round"/>
<line x1="367.4" y1="1027" x2="405" y2="1027" stroke="#000" stroke-width="2.4" stroke-linecap="round"/>
<line x1="386.2" y1="1002.4" x2="386.2" y2="1051.8" stroke="#000" stroke-width="2.16" stroke-linecap="butt"/>
<line x1="377.2" y1="1002.4" x2="395.2" y2="1002.4" stroke="#000" stroke-width="2.4" stroke-linecap="round"/>
<line x1="377.2" y1="1051.8" x2="395.2" y2="1051.8" stroke="#000" stroke-width="2.4" stroke-linecap="round"/>
<line x1="425.1" y1="1047" x2="462.9" y2="1047" stroke="#000" stroke-width="2.4" stroke-linecap="round"/>
<line x1="444" y1="1026" x2="444" y2="1068.3" stroke="#000" stroke-width="2.16" stroke-linecap="butt"/>
<line x1="435" y1="1026" x2="453" y2="1026" stroke="#000" stroke-width="2.4" stroke-linecap="round"/>
<line x1="435" y1="1068.3" x2="453" y2="1068.3" stroke="#000" stroke-width="2.4" stroke-linecap="round"/>
<clipPath id="pc5"><rect x="117.7" y="899.2" width="366.3" height="391"/></clipPath>
<g clip-path="url(#pc5)">
<ellipse cx="156" cy="1007.6" rx="5" ry="7.6" fill="#0000ff" stroke="#000" stroke-width="2"/>
<ellipse cx="156" cy="1039.5" rx="5" ry="7.6" fill="#0000ff" stroke="#000" stroke-width="2"/>
<ellipse cx="163.3" cy="1049.6" rx="5" ry="7.6" fill="#0000ff" stroke="#000" stroke-width="2"/>
<ellipse cx="148.9" cy="1063.1" rx="5" ry="7.6" fill="#0000ff" stroke="#000" stroke-width="2"/>
<ellipse cx="206.3" cy="1077.3" rx="5" ry="7.6" fill="#0000ff" stroke="#000" stroke-width="2"/>
<ellipse cx="221" cy="1077.3" rx="5" ry="7.6" fill="#0000ff" stroke="#000" stroke-width="2"/>
<ellipse cx="221" cy="1138.2" rx="5" ry="7.6" fill="#0000ff" stroke="#000" stroke-width="2"/>
<ellipse cx="206.3" cy="1154.5" rx="5" ry="7.6" fill="#0000ff" stroke="#000" stroke-width="2"/>
<ellipse cx="263.7" cy="1069" rx="5" ry="7.6" fill="#0000ff" stroke="#000" stroke-width="2"/>
<ellipse cx="266.6" cy="1076.6" rx="5" ry="7.6" fill="#0000ff" stroke="#000" stroke-width="2"/>
<ellipse cx="278.4" cy="1061.9" rx="5" ry="7.6" fill="#0000ff" stroke="#000" stroke-width="2"/>
<ellipse cx="276" cy="1071.8" rx="5" ry="7.6" fill="#0000ff" stroke="#000" stroke-width="2"/>
<ellipse cx="321.4" cy="1032.9" rx="5" ry="7.6" fill="#ffff00" stroke="#000" stroke-width="2"/>
<ellipse cx="343.4" cy="1052.9" rx="5" ry="7.6" fill="#ffff00" stroke="#000" stroke-width="2"/>
<ellipse cx="335.8" cy="1063.1" rx="5" ry="7.6" fill="#ffff00" stroke="#000" stroke-width="2"/>
<ellipse cx="321.4" cy="1078" rx="5" ry="7.6" fill="#ffff00" stroke="#000" stroke-width="2"/>
<ellipse cx="386.4" cy="959.2" rx="5" ry="7.6" fill="#ffff00" stroke="#000" stroke-width="2"/>
<ellipse cx="386.4" cy="1021.3" rx="5" ry="7.6" fill="#ffff00" stroke="#000" stroke-width="2"/>
<ellipse cx="393.4" cy="1061.9" rx="5" ry="7.6" fill="#ffff00" stroke="#000" stroke-width="2"/>
<ellipse cx="378.8" cy="1065.9" rx="5" ry="7.6" fill="#ffff00" stroke="#000" stroke-width="2"/>
<ellipse cx="436.7" cy="1002.1" rx="5" ry="7.6" fill="#ffff00" stroke="#000" stroke-width="2"/>
<ellipse cx="451.3" cy="1021.8" rx="5" ry="7.6" fill="#ffff00" stroke="#000" stroke-width="2"/>
<ellipse cx="436.7" cy="1082.5" rx="5" ry="7.6" fill="#ffff00" stroke="#000" stroke-width="2"/>
<ellipse cx="451.3" cy="1082.5" rx="5" ry="7.6" fill="#ffff00" stroke="#000" stroke-width="2"/>
</g>
<line x1="117.7" y1="939.2" x2="117.7" y2="1291.7" stroke="#000" stroke-width="2.4" stroke-linecap="butt"/>
<line x1="110.6" y1="1290.2" x2="484" y2="1290.2" stroke="#000" stroke-width="2.4" stroke-linecap="butt"/>
<line x1="110.6" y1="939.8" x2="117.7" y2="939.8" stroke="#000" stroke-width="2.4" stroke-linecap="butt"/>
<line x1="110.6" y1="1056.6" x2="117.7" y2="1056.6" stroke="#000" stroke-width="2.4" stroke-linecap="butt"/>
<line x1="110.6" y1="1173.4" x2="117.7" y2="1173.4" stroke="#000" stroke-width="2.4" stroke-linecap="butt"/>
<line x1="110.6" y1="1290.2" x2="117.7" y2="1290.2" stroke="#000" stroke-width="2.4" stroke-linecap="butt"/>
<line x1="156" y1="1290.2" x2="156" y2="1300.5" stroke="#000" stroke-width="2.4" stroke-linecap="butt"/>
<line x1="213.4" y1="1290.2" x2="213.4" y2="1300.5" stroke="#000" stroke-width="2.4" stroke-linecap="butt"/>
<line x1="270.6" y1="1290.2" x2="270.6" y2="1300.5" stroke="#000" stroke-width="2.4" stroke-linecap="butt"/>
<line x1="328" y1="1290.2" x2="328" y2="1300.5" stroke="#000" stroke-width="2.4" stroke-linecap="butt"/>
<line x1="385.9" y1="1290.2" x2="385.9" y2="1300.5" stroke="#000" stroke-width="2.4" stroke-linecap="butt"/>
<line x1="443.8" y1="1290.2" x2="443.8" y2="1300.5" stroke="#000" stroke-width="2.4" stroke-linecap="butt"/>
<text transform="translate(65.35 952.5)" font-size="29.513" font-family="Liberation Sans, Arial, sans-serif" fill="#000">1.2</text>
<text transform="translate(65.59 1064.21)" font-size="29.096" font-family="Liberation Sans, Arial, sans-serif" fill="#000">1.0</text>
<text transform="translate(65.71 1183.31)" font-size="29.096" font-family="Liberation Sans, Arial, sans-serif" fill="#000">0.8</text>
<text transform="translate(65.74 1302.31)" font-size="29.096" font-family="Liberation Sans, Arial, sans-serif" fill="#000">0.6</text>
<text transform="translate(201.71 949.65) scale(1.0000 1.0177)" font-size="62.338" font-family="Liberation Sans, Arial, sans-serif" font-weight="bold" fill="#000">*</text>
<text transform="translate(372.46 934.3) scale(1.0000 1.0221)" font-size="52.581" font-family="Liberation Sans, Arial, sans-serif" font-weight="bold" fill="#000">#</text>
<text transform="translate(149.96 1324.9) scale(1.0000 0.9038)" font-size="32.653" font-family="Liberation Sans, Arial, sans-serif" fill="#000">-</text>
<text transform="translate(201.83 1324.9) scale(1.0000 0.9411)" font-size="31.360" font-family="Liberation Sans, Arial, sans-serif" fill="#000">2</text>
<text transform="translate(246.51 1324.9) scale(1.0000 0.9904)" font-size="29.799" font-family="Liberation Sans, Arial, sans-serif" fill="#000">2+i</text>
<text transform="translate(321.46 1324.9) scale(1.0000 0.9038)" font-size="32.653" font-family="Liberation Sans, Arial, sans-serif" fill="#000">-</text>
<text transform="translate(375.13 1324.9) scale(1.0000 1.0043)" font-size="29.386" font-family="Liberation Sans, Arial, sans-serif" fill="#000">2</text>
<text transform="translate(418.51 1324.9) scale(1.0000 0.9904)" font-size="29.799" font-family="Liberation Sans, Arial, sans-serif" fill="#000">2+i</text>
<rect x="132.9" y="1329.5" width="160.8" height="5" fill="#000" />
<rect x="305.1" y="1329.5" width="160.6" height="5" fill="#000" />
<text transform="translate(183.31 1364.61) scale(1.0000 0.9864)" font-size="29.103" font-family="Liberation Sans, Arial, sans-serif" fill="#000">Male</text>
<text transform="translate(340.49 1364.61) scale(1.0000 0.9776)" font-size="29.364" font-family="Liberation Sans, Arial, sans-serif" fill="#000">Female</text>
<text transform="translate(39.5 1177.45) rotate(-90) scale(1 0.9600)" font-size="34.202" font-family="Liberation Sans, Arial, sans-serif" fill="#000">IL-6 (75 kDa)</text>
<line x1="649.9" y1="1290.5" x2="687.9" y2="1290.5" stroke="#000" stroke-width="2.4" stroke-linecap="round"/>
<line x1="707.8" y1="1290.5" x2="744.8" y2="1290.5" stroke="#000" stroke-width="2.4" stroke-linecap="round"/>
<line x1="765.6" y1="1024.6" x2="802.8" y2="1024.6" stroke="#000" stroke-width="2.4" stroke-linecap="round"/>
<line x1="784.2" y1="1004.1" x2="784.2" y2="1045.4" stroke="#000" stroke-width="2.16" stroke-linecap="butt"/>
<line x1="775.2" y1="1004.1" x2="793.2" y2="1004.1" stroke="#000" stroke-width="2.4" stroke-linecap="round"/>
<line x1="775.2" y1="1045.4" x2="793.2" y2="1045.4" stroke="#000" stroke-width="2.4" stroke-linecap="round"/>
<line x1="823" y1="1284.1" x2="860" y2="1284.1" stroke="#000" stroke-width="2.4" stroke-linecap="round"/>
<line x1="881.1" y1="1290" x2="918.1" y2="1290" stroke="#000" stroke-width="2.4" stroke-linecap="round"/>
<line x1="938.4" y1="1204.9" x2="975.4" y2="1204.9" stroke="#000" stroke-width="2.4" stroke-linecap="round"/>
<line x1="956.9" y1="1165.2" x2="956.9" y2="1245.1" stroke="#000" stroke-width="2.16" stroke-linecap="butt"/>
<line x1="947.9" y1="1165.2" x2="965.9" y2="1165.2" stroke="#000" stroke-width="2.4" stroke-linecap="round"/>
<line x1="947.9" y1="1245.1" x2="965.9" y2="1245.1" stroke="#000" stroke-width="2.4" stroke-linecap="round"/>
<clipPath id="pc6"><rect x="629.5" y="897.4" width="367.9" height="394.5"/></clipPath>
<g clip-path="url(#pc6)">
<ellipse cx="662.1" cy="1287.5" rx="4.6" ry="7.8" fill="#0000ff" stroke="#000" stroke-width="2"/>
<ellipse cx="676.2" cy="1286.5" rx="4.6" ry="7.8" fill="#0000ff" stroke="#000" stroke-width="2"/>
<ellipse cx="663.5" cy="1289" rx="4.6" ry="7.8" fill="#0000ff" stroke="#000" stroke-width="2"/>
<ellipse cx="674" cy="1289" rx="4.6" ry="7.8" fill="#0000ff" stroke="#000" stroke-width="2"/>
<ellipse cx="720.5" cy="1287.5" rx="4.6" ry="7.8" fill="#0000ff" stroke="#000" stroke-width="2"/>
<ellipse cx="733.5" cy="1286.5" rx="4.6" ry="7.8" fill="#0000ff" stroke="#000" stroke-width="2"/>
<ellipse cx="721.7" cy="1289" rx="4.6" ry="7.8" fill="#0000ff" stroke="#000" stroke-width="2"/>
<ellipse cx="732.9" cy="1289" rx="4.6" ry="7.8" fill="#0000ff" stroke="#000" stroke-width="2"/>
<ellipse cx="784.2" cy="979.3" rx="4.6" ry="7.8" fill="#0000ff" stroke="#000" stroke-width="2"/>
<ellipse cx="776.7" cy="1013" rx="4.6" ry="7.8" fill="#0000ff" stroke="#000" stroke-width="2"/>
<ellipse cx="791.8" cy="1028.2" rx="4.6" ry="7.8" fill="#0000ff" stroke="#000" stroke-width="2"/>
<ellipse cx="784.2" cy="1078.5" rx="4.6" ry="7.8" fill="#0000ff" stroke="#000" stroke-width="2"/>
<ellipse cx="833.9" cy="1281.7" rx="4.6" ry="7.8" fill="#ffff00" stroke="#000" stroke-width="2"/>
<ellipse cx="848.8" cy="1275.3" rx="4.6" ry="7.8" fill="#ffff00" stroke="#000" stroke-width="2"/>
<ellipse cx="836.9" cy="1286.9" rx="4.6" ry="7.8" fill="#ffff00" stroke="#000" stroke-width="2"/>
<ellipse cx="846.9" cy="1286.9" rx="4.6" ry="7.8" fill="#ffff00" stroke="#000" stroke-width="2"/>
<ellipse cx="891.8" cy="1287.5" rx="4.6" ry="7.8" fill="#ffff00" stroke="#000" stroke-width="2"/>
<ellipse cx="906.6" cy="1283.5" rx="4.6" ry="7.8" fill="#ffff00" stroke="#000" stroke-width="2"/>
<ellipse cx="894.2" cy="1289.5" rx="4.6" ry="7.8" fill="#ffff00" stroke="#000" stroke-width="2"/>
<ellipse cx="904.8" cy="1289.5" rx="4.6" ry="7.8" fill="#ffff00" stroke="#000" stroke-width="2"/>
<ellipse cx="956.8" cy="1122.2" rx="4.6" ry="7.8" fill="#ffff00" stroke="#000" stroke-width="2"/>
<ellipse cx="956.8" cy="1150.1" rx="4.6" ry="7.8" fill="#ffff00" stroke="#000" stroke-width="2"/>
<ellipse cx="964.3" cy="1265.2" rx="4.6" ry="7.8" fill="#ffff00" stroke="#000" stroke-width="2"/>
<ellipse cx="949.7" cy="1281.7" rx="4.6" ry="7.8" fill="#ffff00" stroke="#000" stroke-width="2"/>
</g>
<line x1="629.5" y1="937.4" x2="629.5" y2="1293.4" stroke="#000" stroke-width="2.4" stroke-linecap="butt"/>
<line x1="622.8" y1="1291.9" x2="997.4" y2="1291.9" stroke="#000" stroke-width="2.4" stroke-linecap="butt"/>
<line x1="622.8" y1="937.3" x2="629.5" y2="937.3" stroke="#000" stroke-width="2.4" stroke-linecap="butt"/>
<line x1="622.8" y1="1055.5" x2="629.5" y2="1055.5" stroke="#000" stroke-width="2.4" stroke-linecap="butt"/>
<line x1="622.8" y1="1173.7" x2="629.5" y2="1173.7" stroke="#000" stroke-width="2.4" stroke-linecap="butt"/>
<line x1="622.8" y1="1291.9" x2="629.5" y2="1291.9" stroke="#000" stroke-width="2.4" stroke-linecap="butt"/>
<line x1="668.9" y1="1291.9" x2="668.9" y2="1301.8" stroke="#000" stroke-width="2.4" stroke-linecap="butt"/>
<line x1="726.3" y1="1291.9" x2="726.3" y2="1301.8" stroke="#000" stroke-width="2.4" stroke-linecap="butt"/>
<line x1="783.8" y1="1291.9" x2="783.8" y2="1301.8" stroke="#000" stroke-width="2.4" stroke-linecap="butt"/>
<line x1="841.4" y1="1291.9" x2="841.4" y2="1301.8" stroke="#000" stroke-width="2.4" stroke-linecap="butt"/>
<line x1="899.6" y1="1291.9" x2="899.6" y2="1301.8" stroke="#000" stroke-width="2.4" stroke-linecap="butt"/>
<line x1="956.8" y1="1291.9" x2="956.8" y2="1301.8" stroke="#000" stroke-width="2.4" stroke-linecap="butt"/>
<text transform="translate(580.03 951.97)" font-size="27.542" font-family="Liberation Sans, Arial, sans-serif" fill="#000">0.3</text>
<text transform="translate(580.19 1065.47)" font-size="27.542" font-family="Liberation Sans, Arial, sans-serif" fill="#000">0.2</text>
<text transform="translate(580.17 1183.47)" font-size="27.542" font-family="Liberation Sans, Arial, sans-serif" fill="#000">0.1</text>
<text transform="translate(602.86 1302.27)" font-size="27.542" font-family="Liberation Sans, Arial, sans-serif" fill="#000">0</text>
<text transform="translate(771.61 945.4) scale(1.0000 0.9746)" font-size="62.338" font-family="Liberation Sans, Arial, sans-serif" font-weight="bold" fill="#000">*</text>
<text transform="translate(946.86 934.3) scale(1.0000 1.0221)" font-size="52.581" font-family="Liberation Sans, Arial, sans-serif" font-weight="bold" fill="#000">#</text>
<text transform="translate(663.7 1326) scale(1.0000 0.9270)" font-size="31.837" font-family="Liberation Sans, Arial, sans-serif" fill="#000">-</text>
<text transform="translate(717.83 1326) scale(1.0000 0.9411)" font-size="31.360" font-family="Liberation Sans, Arial, sans-serif" fill="#000">2</text>
<text transform="translate(757.05 1326) scale(1.0000 0.9544)" font-size="30.924" font-family="Liberation Sans, Arial, sans-serif" fill="#000">2+i</text>
<text transform="translate(828.62 1326) scale(1.0000 0.9390)" font-size="31.429" font-family="Liberation Sans, Arial, sans-serif" fill="#000">-</text>
<text transform="translate(892.23 1326) scale(1.0000 1.0043)" font-size="29.386" font-family="Liberation Sans, Arial, sans-serif" fill="#000">2</text>
<text transform="translate(931.41 1326) scale(1.0000 0.9904)" font-size="29.799" font-family="Liberation Sans, Arial, sans-serif" fill="#000">2+i</text>
<rect x="648" y="1334.6" width="160.6" height="5" fill="#000" />
<rect x="820" y="1334.6" width="160.9" height="5" fill="#000" />
<text transform="translate(697.57 1369.71) scale(1.0000 0.9806)" font-size="29.691" font-family="Liberation Sans, Arial, sans-serif" fill="#000">Male</text>
<text transform="translate(855.59 1369.71) scale(1.0000 0.9905)" font-size="29.395" font-family="Liberation Sans, Arial, sans-serif" fill="#000">Female</text>
<text transform="translate(544.01 1150.07) rotate(-90) scale(1 0.9749)" font-size="33.971" font-family="Liberation Sans, Arial, sans-serif" fill="#000">ApoC4 (25 kDa)</text>
<line x1="167.6" y1="1719.7" x2="217.4" y2="1719.7" stroke="#000" stroke-width="2.4" stroke-linecap="round"/>
<line x1="192.5" y1="1706.6" x2="192.5" y2="1732.8" stroke="#000" stroke-width="2.16" stroke-linecap="butt"/>
<line x1="180.1" y1="1706.6" x2="204.9" y2="1706.6" stroke="#000" stroke-width="2.4" stroke-linecap="round"/>
<line x1="180.1" y1="1732.8" x2="204.9" y2="1732.8" stroke="#000" stroke-width="2.4" stroke-linecap="round"/>
<line x1="242.4" y1="1557.6" x2="292.4" y2="1557.6" stroke="#000" stroke-width="2.4" stroke-linecap="round"/>
<line x1="267.4" y1="1530.8" x2="267.4" y2="1584.8" stroke="#000" stroke-width="2.16" stroke-linecap="butt"/>
<line x1="255" y1="1530.8" x2="279.8" y2="1530.8" stroke="#000" stroke-width="2.4" stroke-linecap="round"/>
<line x1="255" y1="1584.8" x2="279.8" y2="1584.8" stroke="#000" stroke-width="2.4" stroke-linecap="round"/>
<line x1="317.1" y1="1670.2" x2="367.1" y2="1670.2" stroke="#000" stroke-width="2.4" stroke-linecap="round"/>
<line x1="342.1" y1="1658.3" x2="342.1" y2="1682.1" stroke="#000" stroke-width="2.16" stroke-linecap="butt"/>
<line x1="329.7" y1="1658.3" x2="354.5" y2="1658.3" stroke="#000" stroke-width="2.4" stroke-linecap="round"/>
<line x1="329.7" y1="1682.1" x2="354.5" y2="1682.1" stroke="#000" stroke-width="2.4" stroke-linecap="round"/>
<line x1="392.1" y1="1705.3" x2="442.1" y2="1705.3" stroke="#000" stroke-width="2.4" stroke-linecap="round"/>
<line x1="417.1" y1="1690.5" x2="417.1" y2="1720.4" stroke="#000" stroke-width="2.16" stroke-linecap="butt"/>
<line x1="404.7" y1="1690.5" x2="429.5" y2="1690.5" stroke="#000" stroke-width="2.4" stroke-linecap="round"/>
<line x1="404.7" y1="1720.4" x2="429.5" y2="1720.4" stroke="#000" stroke-width="2.4" stroke-linecap="round"/>
<line x1="466.9" y1="1648.4" x2="516.9" y2="1648.4" stroke="#000" stroke-width="2.4" stroke-linecap="round"/>
<line x1="491.9" y1="1624.4" x2="491.9" y2="1672.2" stroke="#000" stroke-width="2.16" stroke-linecap="butt"/>
<line x1="479.5" y1="1624.4" x2="504.3" y2="1624.4" stroke="#000" stroke-width="2.4" stroke-linecap="round"/>
<line x1="479.5" y1="1672.2" x2="504.3" y2="1672.2" stroke="#000" stroke-width="2.4" stroke-linecap="round"/>
<line x1="541.9" y1="1688.3" x2="591.5" y2="1688.3" stroke="#000" stroke-width="2.4" stroke-linecap="round"/>
<line x1="566.7" y1="1663.3" x2="566.7" y2="1714" stroke="#000" stroke-width="2.16" stroke-linecap="butt"/>
<line x1="554.3" y1="1663.3" x2="579.1" y2="1663.3" stroke="#000" stroke-width="2.4" stroke-linecap="round"/>
<line x1="554.3" y1="1714" x2="579.1" y2="1714" stroke="#000" stroke-width="2.4" stroke-linecap="round"/>
<clipPath id="pc7"><rect x="142.4" y="1437.5" width="476.5" height="310.7"/></clipPath>
<g clip-path="url(#pc7)">
<ellipse cx="182.7" cy="1694.2" rx="6" ry="5" fill="#0000ff" stroke="#000" stroke-width="2"/>
<ellipse cx="201.8" cy="1701.1" rx="6" ry="5" fill="#0000ff" stroke="#000" stroke-width="2"/>
<ellipse cx="201.8" cy="1734.6" rx="6" ry="5" fill="#0000ff" stroke="#000" stroke-width="2"/>
<ellipse cx="182.7" cy="1746" rx="6" ry="5" fill="#0000ff" stroke="#000" stroke-width="2"/>
<ellipse cx="257.5" cy="1513.3" rx="6" ry="5" fill="#0000ff" stroke="#000" stroke-width="2"/>
<ellipse cx="276.8" cy="1510.3" rx="6" ry="5" fill="#0000ff" stroke="#000" stroke-width="2"/>
<ellipse cx="267.4" cy="1591" rx="6" ry="5" fill="#0000ff" stroke="#000" stroke-width="2"/>
<ellipse cx="267.4" cy="1617.2" rx="6" ry="5" fill="#0000ff" stroke="#000" stroke-width="2"/>
<ellipse cx="342.1" cy="1637.3" rx="6" ry="5" fill="#0000ff" stroke="#000" stroke-width="2"/>
<ellipse cx="332.5" cy="1670.7" rx="6" ry="5" fill="#0000ff" stroke="#000" stroke-width="2"/>
<ellipse cx="351.5" cy="1677.6" rx="6" ry="5" fill="#0000ff" stroke="#000" stroke-width="2"/>
<ellipse cx="342.1" cy="1694.5" rx="6" ry="5" fill="#0000ff" stroke="#000" stroke-width="2"/>
<ellipse cx="417.1" cy="1664" rx="6" ry="5" fill="#ffff00" stroke="#000" stroke-width="2"/>
<ellipse cx="417.1" cy="1700.6" rx="6" ry="5" fill="#ffff00" stroke="#000" stroke-width="2"/>
<ellipse cx="407.7" cy="1727.9" rx="6" ry="5" fill="#ffff00" stroke="#000" stroke-width="2"/>
<ellipse cx="426.3" cy="1727.9" rx="6" ry="5" fill="#ffff00" stroke="#000" stroke-width="2"/>
<ellipse cx="491.9" cy="1603.9" rx="6" ry="5" fill="#ffff00" stroke="#000" stroke-width="2"/>
<ellipse cx="491.9" cy="1627.4" rx="6" ry="5" fill="#ffff00" stroke="#000" stroke-width="2"/>
<ellipse cx="491.9" cy="1647.4" rx="6" ry="5" fill="#ffff00" stroke="#000" stroke-width="2"/>
<ellipse cx="491.9" cy="1714.8" rx="6" ry="5" fill="#ffff00" stroke="#000" stroke-width="2"/>
<ellipse cx="566.9" cy="1617.2" rx="6" ry="5" fill="#ffff00" stroke="#000" stroke-width="2"/>
<ellipse cx="566.9" cy="1688" rx="6" ry="5" fill="#ffff00" stroke="#000" stroke-width="2"/>
<ellipse cx="576.3" cy="1718" rx="6" ry="5" fill="#ffff00" stroke="#000" stroke-width="2"/>
<ellipse cx="557" cy="1731.3" rx="6" ry="5" fill="#ffff00" stroke="#000" stroke-width="2"/>
</g>
<line x1="142.4" y1="1477.5" x2="142.4" y2="1749.7" stroke="#000" stroke-width="2.4" stroke-linecap="butt"/>
<line x1="133" y1="1748.2" x2="618.9" y2="1748.2" stroke="#000" stroke-width="2.4" stroke-linecap="butt"/>
<line x1="133" y1="1479" x2="142.4" y2="1479" stroke="#000" stroke-width="2.4" stroke-linecap="butt"/>
<line x1="133" y1="1546.3" x2="142.4" y2="1546.3" stroke="#000" stroke-width="2.4" stroke-linecap="butt"/>
<line x1="133" y1="1613.6" x2="142.4" y2="1613.6" stroke="#000" stroke-width="2.4" stroke-linecap="butt"/>
<line x1="133" y1="1680.9" x2="142.4" y2="1680.9" stroke="#000" stroke-width="2.4" stroke-linecap="butt"/>
<line x1="133" y1="1748.2" x2="142.4" y2="1748.2" stroke="#000" stroke-width="2.4" stroke-linecap="butt"/>
<line x1="192.4" y1="1748.2" x2="192.4" y2="1756.3" stroke="#000" stroke-width="2.4" stroke-linecap="butt"/>
<line x1="267.4" y1="1748.2" x2="267.4" y2="1756.3" stroke="#000" stroke-width="2.4" stroke-linecap="butt"/>
<line x1="342.1" y1="1748.2" x2="342.1" y2="1756.3" stroke="#000" stroke-width="2.4" stroke-linecap="butt"/>
<line x1="417.1" y1="1748.2" x2="417.1" y2="1756.3" stroke="#000" stroke-width="2.4" stroke-linecap="butt"/>
<line x1="491.9" y1="1748.2" x2="491.9" y2="1756.3" stroke="#000" stroke-width="2.4" stroke-linecap="butt"/>
<line x1="566.9" y1="1748.2" x2="566.9" y2="1756.3" stroke="#000" stroke-width="2.4" stroke-linecap="butt"/>
<text transform="translate(92.38 1494.81)" font-size="29.379" font-family="Liberation Sans, Arial, sans-serif" fill="#000">80</text>
<text transform="translate(92.38 1560.11)" font-size="29.379" font-family="Liberation Sans, Arial, sans-serif" fill="#000">60</text>
<text transform="translate(92.38 1629.01)" font-size="29.379" font-family="Liberation Sans, Arial, sans-serif" fill="#000">40</text>
<text transform="translate(92.38 1697.91)" font-size="29.379" font-family="Liberation Sans, Arial, sans-serif" fill="#000">20</text>
<text transform="translate(108.71 1762.81)" font-size="29.379" font-family="Liberation Sans, Arial, sans-serif" fill="#000">0</text>
<text transform="translate(256.41 1491.14) scale(1.0000 0.9616)" font-size="62.338" font-family="Liberation Sans, Arial, sans-serif" font-weight="bold" fill="#000">*</text>
<text transform="translate(323.26 1484) scale(1.0000 1.0221)" font-size="52.581" font-family="Liberation Sans, Arial, sans-serif" font-weight="bold" fill="#000">#</text>
<text transform="translate(476.76 1484) scale(1.0000 1.0221)" font-size="52.581" font-family="Liberation Sans, Arial, sans-serif" font-weight="bold" fill="#000">#</text>
<text transform="translate(188.33 1787.7) scale(1.0000 1.1124)" font-size="26.531" font-family="Liberation Sans, Arial, sans-serif" fill="#000">-</text>
<text transform="translate(254.89 1787.7) scale(1.0000 0.9155)" font-size="32.237" font-family="Liberation Sans, Arial, sans-serif" fill="#000">2</text>
<text transform="translate(314.66 1787.7) scale(1.0000 0.9594)" font-size="30.763" font-family="Liberation Sans, Arial, sans-serif" fill="#000">2+i</text>
<text transform="translate(412.13 1787.7) scale(1.0000 1.1124)" font-size="26.531" font-family="Liberation Sans, Arial, sans-serif" fill="#000">-</text>
<text transform="translate(480.29 1787.7) scale(1.0000 0.9155)" font-size="32.237" font-family="Liberation Sans, Arial, sans-serif" fill="#000">2</text>
<text transform="translate(534.23 1787.7) scale(1.0000 0.9373)" font-size="31.486" font-family="Liberation Sans, Arial, sans-serif" fill="#000">2+i</text>
<rect x="153.5" y="1790.8" width="218.9" height="5" fill="#000" />
<rect x="391.4" y="1790.8" width="218.9" height="5" fill="#000" />
<text transform="translate(242.61 1822.43) scale(1.0000 0.9194)" font-size="29.152" font-family="Liberation Sans, Arial, sans-serif" fill="#000">Male</text>
<text transform="translate(448.42 1822.43) scale(1.0000 0.9236)" font-size="29.021" font-family="Liberation Sans, Arial, sans-serif" fill="#000">Female</text>
<text transform="translate(42.11 1769.89) rotate(-90) scale(1 0.9780)" font-size="34.009" font-family="Liberation Sans, Arial, sans-serif" fill="#000">PPARγ (% cells with</text>
<text transform="translate(82.89 1741.64) rotate(-90) scale(1 0.9773)" font-size="33.999" font-family="Liberation Sans, Arial, sans-serif" fill="#000">nuclear staining)</text>
<line x1="825.5" y1="1658.6" x2="875.5" y2="1658.6" stroke="#000" stroke-width="2.4" stroke-linecap="round"/>
<line x1="850.5" y1="1652.9" x2="850.5" y2="1664" stroke="#000" stroke-width="2.16" stroke-linecap="butt"/>
<line x1="838.1" y1="1652.9" x2="862.9" y2="1652.9" stroke="#000" stroke-width="2.4" stroke-linecap="round"/>
<line x1="838.1" y1="1664" x2="862.9" y2="1664" stroke="#000" stroke-width="2.4" stroke-linecap="round"/>
<line x1="901" y1="1626.9" x2="950.6" y2="1626.9" stroke="#000" stroke-width="2.4" stroke-linecap="round"/>
<line x1="925.8" y1="1609" x2="925.8" y2="1645.4" stroke="#000" stroke-width="2.16" stroke-linecap="butt"/>
<line x1="913.4" y1="1609" x2="938.2" y2="1609" stroke="#000" stroke-width="2.4" stroke-linecap="round"/>
<line x1="913.4" y1="1645.4" x2="938.2" y2="1645.4" stroke="#000" stroke-width="2.4" stroke-linecap="round"/>
<line x1="975.8" y1="1560.5" x2="1025.8" y2="1560.5" stroke="#000" stroke-width="2.4" stroke-linecap="round"/>
<line x1="1000.8" y1="1545.2" x2="1000.8" y2="1575.6" stroke="#000" stroke-width="2.16" stroke-linecap="butt"/>
<line x1="988.4" y1="1545.2" x2="1013.2" y2="1545.2" stroke="#000" stroke-width="2.4" stroke-linecap="round"/>
<line x1="988.4" y1="1575.6" x2="1013.2" y2="1575.6" stroke="#000" stroke-width="2.4" stroke-linecap="round"/>
<line x1="1050.8" y1="1638" x2="1100.8" y2="1638" stroke="#000" stroke-width="2.4" stroke-linecap="round"/>
<line x1="1075.8" y1="1626.1" x2="1075.8" y2="1649.9" stroke="#000" stroke-width="2.16" stroke-linecap="butt"/>
<line x1="1063.4" y1="1626.1" x2="1088.2" y2="1626.1" stroke="#000" stroke-width="2.4" stroke-linecap="round"/>
<line x1="1063.4" y1="1649.9" x2="1088.2" y2="1649.9" stroke="#000" stroke-width="2.4" stroke-linecap="round"/>
<line x1="1125.5" y1="1633.6" x2="1175.5" y2="1633.6" stroke="#000" stroke-width="2.4" stroke-linecap="round"/>
<line x1="1150.5" y1="1601.6" x2="1150.5" y2="1666.5" stroke="#000" stroke-width="2.16" stroke-linecap="butt"/>
<line x1="1138.1" y1="1601.6" x2="1162.9" y2="1601.6" stroke="#000" stroke-width="2.4" stroke-linecap="round"/>
<line x1="1138.1" y1="1666.5" x2="1162.9" y2="1666.5" stroke="#000" stroke-width="2.4" stroke-linecap="round"/>
<line x1="1200.5" y1="1572.4" x2="1250.5" y2="1572.4" stroke="#000" stroke-width="2.4" stroke-linecap="round"/>
<line x1="1225.5" y1="1549.4" x2="1225.5" y2="1595.9" stroke="#000" stroke-width="2.16" stroke-linecap="butt"/>
<line x1="1213.1" y1="1549.4" x2="1237.9" y2="1549.4" stroke="#000" stroke-width="2.4" stroke-linecap="round"/>
<line x1="1213.1" y1="1595.9" x2="1237.9" y2="1595.9" stroke="#000" stroke-width="2.4" stroke-linecap="round"/>
<clipPath id="pc8"><rect x="801" y="1436.5" width="477.8" height="312.9"/></clipPath>
<g clip-path="url(#pc8)">
<ellipse cx="841.4" cy="1647.2" rx="6" ry="5" fill="#0000ff" stroke="#000" stroke-width="2"/>
<ellipse cx="869.6" cy="1654.1" rx="6" ry="5" fill="#0000ff" stroke="#000" stroke-width="2"/>
<ellipse cx="859.7" cy="1661.5" rx="6" ry="5" fill="#0000ff" stroke="#000" stroke-width="2"/>
<ellipse cx="841.4" cy="1671.4" rx="6" ry="5" fill="#0000ff" stroke="#000" stroke-width="2"/>
<ellipse cx="916.1" cy="1589.3" rx="6" ry="5" fill="#0000ff" stroke="#000" stroke-width="2"/>
<ellipse cx="935.4" cy="1603.4" rx="6" ry="5" fill="#0000ff" stroke="#000" stroke-width="2"/>
<ellipse cx="935.4" cy="1654.1" rx="6" ry="5" fill="#0000ff" stroke="#000" stroke-width="2"/>
<ellipse cx="916.1" cy="1661" rx="6" ry="5" fill="#0000ff" stroke="#000" stroke-width="2"/>
<ellipse cx="991.1" cy="1538.3" rx="6" ry="5" fill="#0000ff" stroke="#000" stroke-width="2"/>
<ellipse cx="1010.2" cy="1534.8" rx="6" ry="5" fill="#0000ff" stroke="#000" stroke-width="2"/>
<ellipse cx="1000.8" cy="1569.2" rx="6" ry="5" fill="#0000ff" stroke="#000" stroke-width="2"/>
<ellipse cx="1000.8" cy="1600.1" rx="6" ry="5" fill="#0000ff" stroke="#000" stroke-width="2"/>
<ellipse cx="1065.9" cy="1617" rx="6" ry="5" fill="#ffff00" stroke="#000" stroke-width="2"/>
<ellipse cx="1085.2" cy="1620.2" rx="6" ry="5" fill="#ffff00" stroke="#000" stroke-width="2"/>
<ellipse cx="1085.2" cy="1651.1" rx="6" ry="5" fill="#ffff00" stroke="#000" stroke-width="2"/>
<ellipse cx="1065.9" cy="1664.8" rx="6" ry="5" fill="#ffff00" stroke="#000" stroke-width="2"/>
<ellipse cx="1150.5" cy="1548.9" rx="6" ry="5" fill="#ffff00" stroke="#000" stroke-width="2"/>
<ellipse cx="1150.5" cy="1626.9" rx="6" ry="5" fill="#ffff00" stroke="#000" stroke-width="2"/>
<ellipse cx="1150.5" cy="1657.8" rx="6" ry="5" fill="#ffff00" stroke="#000" stroke-width="2"/>
<ellipse cx="1150.5" cy="1702.4" rx="6" ry="5" fill="#ffff00" stroke="#000" stroke-width="2"/>
<ellipse cx="1225.5" cy="1511.3" rx="6" ry="5" fill="#ffff00" stroke="#000" stroke-width="2"/>
<ellipse cx="1225.5" cy="1565.7" rx="6" ry="5" fill="#ffff00" stroke="#000" stroke-width="2"/>
<ellipse cx="1225.5" cy="1596.4" rx="6" ry="5" fill="#ffff00" stroke="#000" stroke-width="2"/>
<ellipse cx="1225.5" cy="1617" rx="6" ry="5" fill="#ffff00" stroke="#000" stroke-width="2"/>
</g>
<line x1="801" y1="1476.5" x2="801" y2="1750.9" stroke="#000" stroke-width="2.4" stroke-linecap="butt"/>
<line x1="791.1" y1="1749.4" x2="1278.8" y2="1749.4" stroke="#000" stroke-width="2.4" stroke-linecap="butt"/>
<line x1="791.1" y1="1477.4" x2="801" y2="1477.4" stroke="#000" stroke-width="2.4" stroke-linecap="butt"/>
<line x1="791.1" y1="1545.4" x2="801" y2="1545.4" stroke="#000" stroke-width="2.4" stroke-linecap="butt"/>
<line x1="791.1" y1="1613.4" x2="801" y2="1613.4" stroke="#000" stroke-width="2.4" stroke-linecap="butt"/>
<line x1="791.1" y1="1681.4" x2="801" y2="1681.4" stroke="#000" stroke-width="2.4" stroke-linecap="butt"/>
<line x1="791.1" y1="1749.4" x2="801" y2="1749.4" stroke="#000" stroke-width="2.4" stroke-linecap="butt"/>
<line x1="851" y1="1749.4" x2="851" y2="1759.3" stroke="#000" stroke-width="2.4" stroke-linecap="butt"/>
<line x1="926" y1="1749.4" x2="926" y2="1759.3" stroke="#000" stroke-width="2.4" stroke-linecap="butt"/>
<line x1="1000.8" y1="1749.4" x2="1000.8" y2="1759.3" stroke="#000" stroke-width="2.4" stroke-linecap="butt"/>
<line x1="1075.8" y1="1749.4" x2="1075.8" y2="1759.3" stroke="#000" stroke-width="2.4" stroke-linecap="butt"/>
<line x1="1150.5" y1="1749.4" x2="1150.5" y2="1759.3" stroke="#000" stroke-width="2.4" stroke-linecap="butt"/>
<line x1="1225.5" y1="1749.4" x2="1225.5" y2="1759.3" stroke="#000" stroke-width="2.4" stroke-linecap="butt"/>
<text transform="translate(749.18 1493.01)" font-size="29.379" font-family="Liberation Sans, Arial, sans-serif" fill="#000">80</text>
<text transform="translate(749.18 1553.41)" font-size="29.379" font-family="Liberation Sans, Arial, sans-serif" fill="#000">60</text>
<text transform="translate(749.18 1618.41)" font-size="29.379" font-family="Liberation Sans, Arial, sans-serif" fill="#000">40</text>
<text transform="translate(749.18 1681.31)" font-size="29.379" font-family="Liberation Sans, Arial, sans-serif" fill="#000">20</text>
<text transform="translate(765.51 1744.91)" font-size="29.379" font-family="Liberation Sans, Arial, sans-serif" fill="#000">0</text>
<text transform="translate(972.81 1507.8) scale(1.0000 0.9746)" font-size="62.338" font-family="Liberation Sans, Arial, sans-serif" font-weight="bold" fill="#000">*</text>
<text transform="translate(999.26 1500.1) scale(1.0000 1.0221)" font-size="52.581" font-family="Liberation Sans, Arial, sans-serif" font-weight="bold" fill="#000">#</text>
<text transform="translate(1211.61 1507.8) scale(1.0000 0.9746)" font-size="62.338" font-family="Liberation Sans, Arial, sans-serif" font-weight="bold" fill="#000">*</text>
<text transform="translate(846.44 1787) scale(1.0000 0.9514)" font-size="31.020" font-family="Liberation Sans, Arial, sans-serif" fill="#000">-</text>
<text transform="translate(913.08 1787) scale(1.0000 0.8572)" font-size="34.430" font-family="Liberation Sans, Arial, sans-serif" fill="#000">2</text>
<text transform="translate(972.75 1787) scale(1.0000 0.9544)" font-size="30.924" font-family="Liberation Sans, Arial, sans-serif" fill="#000">2+i</text>
<text transform="translate(1068.65 1787) scale(1.0000 0.9641)" font-size="30.612" font-family="Liberation Sans, Arial, sans-serif" fill="#000">-</text>
<text transform="translate(1141.78 1787) scale(1.0000 0.8572)" font-size="34.430" font-family="Liberation Sans, Arial, sans-serif" fill="#000">2</text>
<text transform="translate(1199.19 1787) scale(1.0000 0.9772)" font-size="30.201" font-family="Liberation Sans, Arial, sans-serif" fill="#000">2+i</text>
<rect x="810.3" y="1790.1" width="220.5" height="5" fill="#000" />
<rect x="1048.8" y="1790.1" width="220.5" height="5" fill="#000" />
<text transform="translate(899.44 1830.53) scale(1.0000 0.9540)" font-size="28.809" font-family="Liberation Sans, Arial, sans-serif" fill="#000">Male</text>
<text transform="translate(1113.32 1830.53) scale(1.0000 0.9470)" font-size="29.021" font-family="Liberation Sans, Arial, sans-serif" fill="#000">Female</text>
<text transform="translate(699.57 1757.05) rotate(-90) scale(1 0.9978)" font-size="33.550" font-family="Liberation Sans, Arial, sans-serif" fill="#000" xml:space="preserve">NFκB (%  cells with</text>
<text transform="translate(739.96 1735.73) rotate(-90)" font-size="33.833" font-family="Liberation Sans, Arial, sans-serif" fill="#000">nuclear staining)</text>
<clipPath id="bc1"><rect x="496.8" y="83.8" width="377" height="69.2"/></clipPath>
<g clip-path="url(#bc1)">
<rect x="496.8" y="83.8" width="377" height="69.2" fill="#d9d9d9" />
<rect x="505.7" y="110.5" width="20" height="2.5" rx="1" fill="#000" opacity="0.070" filter="url(#b1)"/>
<rect x="504.2" y="122.3" width="23" height="7" rx="3.5" fill="#000" opacity="0.220" filter="url(#b1)"/>
<rect x="534.6" y="110.5" width="20" height="2.5" rx="1" fill="#000" opacity="0.070" filter="url(#b1)"/>
<rect x="533.1" y="122.3" width="23" height="7" rx="3.5" fill="#000" opacity="0.850" filter="url(#b1)"/>
<rect x="564" y="110.5" width="20" height="2.5" rx="1" fill="#000" opacity="0.070" filter="url(#b1)"/>
<rect x="562.5" y="122.3" width="23" height="7" rx="3.5" fill="#000" opacity="0.900" filter="url(#b1)"/>
<rect x="593.5" y="110.5" width="20" height="2.5" rx="1" fill="#000" opacity="0.070" filter="url(#b1)"/>
<rect x="592" y="122.3" width="23" height="7" rx="3.5" fill="#000" opacity="0.970" filter="url(#b1)"/>
<rect x="622.5" y="110.5" width="20" height="2.5" rx="1" fill="#000" opacity="0.070" filter="url(#b1)"/>
<rect x="621" y="122.3" width="23" height="7" rx="3.5" fill="#000" opacity="0.300" filter="url(#b1)"/>
<rect x="651.4" y="110.5" width="20" height="2.5" rx="1" fill="#000" opacity="0.070" filter="url(#b1)"/>
<rect x="649.9" y="122.3" width="23" height="7" rx="3.5" fill="#000" opacity="0.880" filter="url(#b1)"/>
<rect x="679.2" y="110.5" width="20" height="2.5" rx="1" fill="#000" opacity="0.070" filter="url(#b1)"/>
<rect x="677.7" y="122.3" width="23" height="7" rx="3.5" fill="#000" opacity="0.800" filter="url(#b1)"/>
<rect x="707.4" y="110.5" width="20" height="2.5" rx="1" fill="#000" opacity="0.070" filter="url(#b1)"/>
<rect x="705.9" y="122.3" width="23" height="7" rx="3.5" fill="#000" opacity="0.320" filter="url(#b1)"/>
<rect x="736.8" y="110.5" width="20" height="2.5" rx="1" fill="#000" opacity="0.070" filter="url(#b1)"/>
<rect x="737.8" y="122.3" width="20" height="7" rx="3.5" fill="#000" opacity="0.850" filter="url(#b1)"/>
<rect x="762.8" y="110.5" width="20" height="2.5" rx="1" fill="#000" opacity="0.070" filter="url(#b1)"/>
<rect x="761.3" y="122.3" width="23" height="7" rx="3.5" fill="#000" opacity="0.380" filter="url(#b1)"/>
<rect x="790.8" y="110.5" width="20" height="2.5" rx="1" fill="#000" opacity="0.070" filter="url(#b1)"/>
<rect x="789.3" y="122.3" width="23" height="7" rx="3.5" fill="#000" opacity="0.850" filter="url(#b1)"/>
<rect x="818.8" y="110.5" width="20" height="2.5" rx="1" fill="#000" opacity="0.070" filter="url(#b1)"/>
<rect x="817.3" y="122.3" width="23" height="7" rx="3.5" fill="#000" opacity="0.280" filter="url(#b1)"/>
<rect x="845.8" y="110.5" width="20" height="2.5" rx="1" fill="#000" opacity="0.070" filter="url(#b1)"/>
<rect x="843.8" y="119" width="24" height="13" rx="6" fill="#000" opacity="0.950" filter="url(#b1)"/>
</g>
<clipPath id="bc2"><rect x="495" y="162.2" width="381.7" height="67.9"/></clipPath>
<g clip-path="url(#bc2)">
<rect x="495" y="162.2" width="381.7" height="67.9" fill="#dedede" />
<rect x="493" y="214.2" width="357" height="3.5" rx="0" fill="#000" opacity="0.100" filter="url(#b1)"/>
<rect x="499.45" y="162.2" width="27.5" height="67.9" rx="0" fill="#000" opacity="0.035" filter="url(#b1)"/>
<rect x="503.58" y="168.6" width="19.25" height="2" rx="1" fill="#000" opacity="0.050" filter="url(#b1)"/>
<rect x="502.89" y="175.6" width="20.62" height="2.8" rx="1.4" fill="#000" opacity="0.200" filter="url(#b1)"/>
<rect x="502.89" y="187.7" width="20.62" height="2.4" rx="1.2" fill="#000" opacity="0.120" filter="url(#b1)"/>
<rect x="502.89" y="197.5" width="20.62" height="2" rx="1" fill="#000" opacity="0.050" filter="url(#b1)"/>
<rect x="500.14" y="205.1" width="26.12" height="3" rx="1.5" fill="#000" opacity="0.220" filter="url(#b1)"/>
<rect x="500.14" y="208.4" width="26.12" height="3" rx="1.5" fill="#000" opacity="0.160" filter="url(#b1)"/>
<path d="M499.45 214.2 L526.95 214.2 L526.95 222.35 A13.75 8.15 0 0 1 499.45 222.35 Z" fill="#000" opacity="0.360" filter="url(#b1)"/>
<rect x="500.45" y="214.2" width="25.5" height="6.52" rx="1" fill="#000" opacity="0.060" filter="url(#b1)"/>
<rect x="529.35" y="162.2" width="27.5" height="67.9" rx="0" fill="#000" opacity="0.035" filter="url(#b1)"/>
<rect x="533.48" y="168.6" width="19.25" height="2" rx="1" fill="#000" opacity="0.050" filter="url(#b1)"/>
<rect x="532.79" y="175.6" width="20.62" height="2.8" rx="1.4" fill="#000" opacity="0.200" filter="url(#b1)"/>
<rect x="532.79" y="187.7" width="20.62" height="2.4" rx="1.2" fill="#000" opacity="0.120" filter="url(#b1)"/>
<rect x="532.79" y="197.5" width="20.62" height="2" rx="1" fill="#000" opacity="0.050" filter="url(#b1)"/>
<rect x="530.04" y="205.1" width="26.12" height="3" rx="1.5" fill="#000" opacity="0.220" filter="url(#b1)"/>
<rect x="530.04" y="208.4" width="26.12" height="3" rx="1.5" fill="#000" opacity="0.160" filter="url(#b1)"/>
<path d="M529.35 214.2 L556.85 214.2 L556.85 222.35 A13.75 8.15 0 0 1 529.35 222.35 Z" fill="#000" opacity="0.360" filter="url(#b1)"/>
<rect x="530.35" y="214.2" width="25.5" height="6.52" rx="1" fill="#000" opacity="0.060" filter="url(#b1)"/>
<rect x="559.65" y="162.2" width="27.5" height="67.9" rx="0" fill="#000" opacity="0.035" filter="url(#b1)"/>
<rect x="563.77" y="168.6" width="19.25" height="2" rx="1" fill="#000" opacity="0.050" filter="url(#b1)"/>
<rect x="563.09" y="175.6" width="20.62" height="2.8" rx="1.4" fill="#000" opacity="0.200" filter="url(#b1)"/>
<rect x="563.09" y="187.7" width="20.62" height="2.4" rx="1.2" fill="#000" opacity="0.120" filter="url(#b1)"/>
<rect x="563.09" y="197.5" width="20.62" height="2" rx="1" fill="#000" opacity="0.050" filter="url(#b1)"/>
<rect x="560.34" y="205.1" width="26.12" height="3" rx="1.5" fill="#000" opacity="0.220" filter="url(#b1)"/>
<rect x="560.34" y="208.4" width="26.12" height="3" rx="1.5" fill="#000" opacity="0.160" filter="url(#b1)"/>
<path d="M559.65 214.2 L587.15 214.2 L587.15 222.35 A13.75 8.15 0 0 1 559.65 222.35 Z" fill="#000" opacity="0.360" filter="url(#b1)"/>
<rect x="560.65" y="214.2" width="25.5" height="6.52" rx="1" fill="#000" opacity="0.060" filter="url(#b1)"/>
<rect x="589.15" y="162.2" width="27.5" height="67.9" rx="0" fill="#000" opacity="0.035" filter="url(#b1)"/>
<rect x="593.27" y="168.6" width="19.25" height="2" rx="1" fill="#000" opacity="0.050" filter="url(#b1)"/>
<rect x="592.59" y="175.6" width="20.62" height="2.8" rx="1.4" fill="#000" opacity="0.200" filter="url(#b1)"/>
<rect x="592.59" y="187.7" width="20.62" height="2.4" rx="1.2" fill="#000" opacity="0.120" filter="url(#b1)"/>
<rect x="592.59" y="197.5" width="20.62" height="2" rx="1" fill="#000" opacity="0.050" filter="url(#b1)"/>
<rect x="589.84" y="205.1" width="26.12" height="3" rx="1.5" fill="#000" opacity="0.220" filter="url(#b1)"/>
<rect x="589.84" y="208.4" width="26.12" height="3" rx="1.5" fill="#000" opacity="0.160" filter="url(#b1)"/>
<path d="M589.15 214.2 L616.65 214.2 L616.65 222.35 A13.75 8.15 0 0 1 589.15 222.35 Z" fill="#000" opacity="0.360" filter="url(#b1)"/>
<rect x="590.15" y="214.2" width="25.5" height="6.52" rx="1" fill="#000" opacity="0.060" filter="url(#b1)"/>
<rect x="619.15" y="162.2" width="27.5" height="67.9" rx="0" fill="#000" opacity="0.035" filter="url(#b1)"/>
<rect x="623.27" y="168.6" width="19.25" height="2" rx="1" fill="#000" opacity="0.050" filter="url(#b1)"/>
<rect x="622.59" y="175.6" width="20.62" height="2.8" rx="1.4" fill="#000" opacity="0.200" filter="url(#b1)"/>
<rect x="622.59" y="187.7" width="20.62" height="2.4" rx="1.2" fill="#000" opacity="0.120" filter="url(#b1)"/>
<rect x="622.59" y="197.5" width="20.62" height="2" rx="1" fill="#000" opacity="0.050" filter="url(#b1)"/>
<rect x="619.84" y="205.1" width="26.12" height="3" rx="1.5" fill="#000" opacity="0.220" filter="url(#b1)"/>
<rect x="619.84" y="208.4" width="26.12" height="3" rx="1.5" fill="#000" opacity="0.160" filter="url(#b1)"/>
<path d="M619.15 214.2 L646.65 214.2 L646.65 222.35 A13.75 8.15 0 0 1 619.15 222.35 Z" fill="#000" opacity="0.360" filter="url(#b1)"/>
<rect x="620.15" y="214.2" width="25.5" height="6.52" rx="1" fill="#000" opacity="0.060" filter="url(#b1)"/>
<rect x="648.65" y="162.2" width="27.5" height="67.9" rx="0" fill="#000" opacity="0.035" filter="url(#b1)"/>
<rect x="652.77" y="168.6" width="19.25" height="2" rx="1" fill="#000" opacity="0.050" filter="url(#b1)"/>
<rect x="652.09" y="175.6" width="20.62" height="2.8" rx="1.4" fill="#000" opacity="0.200" filter="url(#b1)"/>
<rect x="652.09" y="187.7" width="20.62" height="2.4" rx="1.2" fill="#000" opacity="0.120" filter="url(#b1)"/>
<rect x="652.09" y="197.5" width="20.62" height="2" rx="1" fill="#000" opacity="0.050" filter="url(#b1)"/>
<rect x="649.34" y="205.1" width="26.12" height="3" rx="1.5" fill="#000" opacity="0.220" filter="url(#b1)"/>
<rect x="649.34" y="208.4" width="26.12" height="3" rx="1.5" fill="#000" opacity="0.160" filter="url(#b1)"/>
<path d="M648.65 214.2 L676.15 214.2 L676.15 222.35 A13.75 8.15 0 0 1 648.65 222.35 Z" fill="#000" opacity="0.360" filter="url(#b1)"/>
<rect x="649.65" y="214.2" width="25.5" height="6.52" rx="1" fill="#000" opacity="0.060" filter="url(#b1)"/>
<rect x="677.95" y="162.2" width="27.5" height="67.9" rx="0" fill="#000" opacity="0.035" filter="url(#b1)"/>
<rect x="682.08" y="168.6" width="19.25" height="2" rx="1" fill="#000" opacity="0.050" filter="url(#b1)"/>
<rect x="681.39" y="175.6" width="20.62" height="2.8" rx="1.4" fill="#000" opacity="0.200" filter="url(#b1)"/>
<rect x="681.39" y="187.7" width="20.62" height="2.4" rx="1.2" fill="#000" opacity="0.120" filter="url(#b1)"/>
<rect x="681.39" y="197.5" width="20.62" height="2" rx="1" fill="#000" opacity="0.050" filter="url(#b1)"/>
<rect x="678.64" y="205.1" width="26.12" height="3" rx="1.5" fill="#000" opacity="0.220" filter="url(#b1)"/>
<rect x="678.64" y="208.4" width="26.12" height="3" rx="1.5" fill="#000" opacity="0.160" filter="url(#b1)"/>
<path d="M677.95 214.2 L705.45 214.2 L705.45 222.35 A13.75 8.15 0 0 1 677.95 222.35 Z" fill="#000" opacity="0.360" filter="url(#b1)"/>
<rect x="678.95" y="214.2" width="25.5" height="6.52" rx="1" fill="#000" opacity="0.060" filter="url(#b1)"/>
<rect x="706.35" y="162.2" width="27.5" height="67.9" rx="0" fill="#000" opacity="0.035" filter="url(#b1)"/>
<rect x="710.48" y="168.6" width="19.25" height="2" rx="1" fill="#000" opacity="0.050" filter="url(#b1)"/>
<rect x="709.79" y="175.6" width="20.62" height="2.8" rx="1.4" fill="#000" opacity="0.200" filter="url(#b1)"/>
<rect x="709.79" y="187.7" width="20.62" height="2.4" rx="1.2" fill="#000" opacity="0.120" filter="url(#b1)"/>
<rect x="709.79" y="197.5" width="20.62" height="2" rx="1" fill="#000" opacity="0.050" filter="url(#b1)"/>
<rect x="707.04" y="205.1" width="26.12" height="3" rx="1.5" fill="#000" opacity="0.220" filter="url(#b1)"/>
<rect x="707.04" y="208.4" width="26.12" height="3" rx="1.5" fill="#000" opacity="0.160" filter="url(#b1)"/>
<path d="M706.35 214.2 L733.85 214.2 L733.85 222.35 A13.75 8.15 0 0 1 706.35 222.35 Z" fill="#000" opacity="0.360" filter="url(#b1)"/>
<rect x="707.35" y="214.2" width="25.5" height="6.52" rx="1" fill="#000" opacity="0.060" filter="url(#b1)"/>
<rect x="734.95" y="162.2" width="27.5" height="67.9" rx="0" fill="#000" opacity="0.035" filter="url(#b1)"/>
<rect x="739.08" y="168.6" width="19.25" height="2" rx="1" fill="#000" opacity="0.050" filter="url(#b1)"/>
<rect x="738.39" y="175.6" width="20.62" height="2.8" rx="1.4" fill="#000" opacity="0.200" filter="url(#b1)"/>
<rect x="738.39" y="187.7" width="20.62" height="2.4" rx="1.2" fill="#000" opacity="0.120" filter="url(#b1)"/>
<rect x="738.39" y="197.5" width="20.62" height="2" rx="1" fill="#000" opacity="0.050" filter="url(#b1)"/>
<rect x="735.64" y="205.1" width="26.12" height="3" rx="1.5" fill="#000" opacity="0.220" filter="url(#b1)"/>
<rect x="735.64" y="208.4" width="26.12" height="3" rx="1.5" fill="#000" opacity="0.160" filter="url(#b1)"/>
<path d="M734.95 214.2 L762.45 214.2 L762.45 222.35 A13.75 8.15 0 0 1 734.95 222.35 Z" fill="#000" opacity="0.360" filter="url(#b1)"/>
<rect x="735.95" y="214.2" width="25.5" height="6.52" rx="1" fill="#000" opacity="0.060" filter="url(#b1)"/>
<rect x="763.35" y="162.2" width="27.5" height="67.9" rx="0" fill="#000" opacity="0.035" filter="url(#b1)"/>
<rect x="767.48" y="168.6" width="19.25" height="2" rx="1" fill="#000" opacity="0.050" filter="url(#b1)"/>
<rect x="766.79" y="175.6" width="20.62" height="2.8" rx="1.4" fill="#000" opacity="0.200" filter="url(#b1)"/>
<rect x="766.79" y="187.7" width="20.62" height="2.4" rx="1.2" fill="#000" opacity="0.120" filter="url(#b1)"/>
<rect x="766.79" y="197.5" width="20.62" height="2" rx="1" fill="#000" opacity="0.050" filter="url(#b1)"/>
<rect x="764.04" y="205.1" width="26.12" height="3" rx="1.5" fill="#000" opacity="0.220" filter="url(#b1)"/>
<rect x="764.04" y="208.4" width="26.12" height="3" rx="1.5" fill="#000" opacity="0.160" filter="url(#b1)"/>
<path d="M763.35 214.2 L790.85 214.2 L790.85 222.35 A13.75 8.15 0 0 1 763.35 222.35 Z" fill="#000" opacity="0.360" filter="url(#b1)"/>
<rect x="764.35" y="214.2" width="25.5" height="6.52" rx="1" fill="#000" opacity="0.060" filter="url(#b1)"/>
<rect x="791.85" y="162.2" width="27.5" height="67.9" rx="0" fill="#000" opacity="0.035" filter="url(#b1)"/>
<rect x="795.98" y="168.6" width="19.25" height="2" rx="1" fill="#000" opacity="0.050" filter="url(#b1)"/>
<rect x="795.29" y="175.6" width="20.62" height="2.8" rx="1.4" fill="#000" opacity="0.200" filter="url(#b1)"/>
<rect x="795.29" y="187.7" width="20.62" height="2.4" rx="1.2" fill="#000" opacity="0.120" filter="url(#b1)"/>
<rect x="795.29" y="197.5" width="20.62" height="2" rx="1" fill="#000" opacity="0.050" filter="url(#b1)"/>
<rect x="792.54" y="205.1" width="26.12" height="3" rx="1.5" fill="#000" opacity="0.220" filter="url(#b1)"/>
<rect x="792.54" y="208.4" width="26.12" height="3" rx="1.5" fill="#000" opacity="0.160" filter="url(#b1)"/>
<path d="M791.85 214.2 L819.35 214.2 L819.35 222.35 A13.75 8.15 0 0 1 791.85 222.35 Z" fill="#000" opacity="0.360" filter="url(#b1)"/>
<rect x="792.85" y="214.2" width="25.5" height="6.52" rx="1" fill="#000" opacity="0.060" filter="url(#b1)"/>
<rect x="820.85" y="162.2" width="27.5" height="67.9" rx="0" fill="#000" opacity="0.035" filter="url(#b1)"/>
<rect x="824.98" y="168.6" width="19.25" height="2" rx="1" fill="#000" opacity="0.050" filter="url(#b1)"/>
<rect x="824.29" y="175.6" width="20.62" height="2.8" rx="1.4" fill="#000" opacity="0.200" filter="url(#b1)"/>
<rect x="824.29" y="187.7" width="20.62" height="2.4" rx="1.2" fill="#000" opacity="0.120" filter="url(#b1)"/>
<rect x="824.29" y="197.5" width="20.62" height="2" rx="1" fill="#000" opacity="0.050" filter="url(#b1)"/>
<rect x="821.54" y="205.1" width="26.12" height="3" rx="1.5" fill="#000" opacity="0.220" filter="url(#b1)"/>
<rect x="821.54" y="208.4" width="26.12" height="3" rx="1.5" fill="#000" opacity="0.160" filter="url(#b1)"/>
<path d="M820.85 214.2 L848.35 214.2 L848.35 222.35 A13.75 8.15 0 0 1 820.85 222.35 Z" fill="#000" opacity="0.360" filter="url(#b1)"/>
<rect x="821.85" y="214.2" width="25.5" height="6.52" rx="1" fill="#000" opacity="0.060" filter="url(#b1)"/>
</g>
<clipPath id="bc3"><rect x="1020.6" y="83.8" width="373.6" height="68"/></clipPath>
<g clip-path="url(#bc3)">
<rect x="1020.6" y="83.8" width="373.6" height="68" fill="#d3d3d3" />
<ellipse cx="1039.9" cy="92.5" rx="13" ry="8" fill="#000" opacity="0.300" filter="url(#b3)"/>
<ellipse cx="1039.9" cy="121.5" rx="9.5" ry="3.2" fill="#000" opacity="0.080" filter="url(#b1)"/>
<ellipse cx="1067.9" cy="92.5" rx="13" ry="8" fill="#000" opacity="0.300" filter="url(#b3)"/>
<ellipse cx="1067.9" cy="121.5" rx="9.5" ry="3.2" fill="#000" opacity="0.550" filter="url(#b1)"/>
<ellipse cx="1095.9" cy="92.5" rx="13" ry="8" fill="#000" opacity="0.280" filter="url(#b3)"/>
<ellipse cx="1095.9" cy="121.5" rx="9.5" ry="3.2" fill="#000" opacity="0.400" filter="url(#b1)"/>
<ellipse cx="1124.9" cy="92.5" rx="13" ry="8" fill="#000" opacity="0.300" filter="url(#b3)"/>
<ellipse cx="1124.9" cy="121.5" rx="10" ry="3.8" fill="#000" opacity="0.980" filter="url(#b1)"/>
<ellipse cx="1152.9" cy="92.5" rx="13" ry="8" fill="#000" opacity="0.300" filter="url(#b3)"/>
<ellipse cx="1152.9" cy="121.5" rx="9.5" ry="3.2" fill="#000" opacity="0.080" filter="url(#b1)"/>
<ellipse cx="1179.9" cy="92.5" rx="13" ry="8" fill="#000" opacity="0.300" filter="url(#b3)"/>
<ellipse cx="1179.9" cy="121.5" rx="9.5" ry="3.2" fill="#000" opacity="0.550" filter="url(#b1)"/>
<ellipse cx="1206.9" cy="92.5" rx="13" ry="8" fill="#000" opacity="0.200" filter="url(#b3)"/>
<ellipse cx="1206.9" cy="121" rx="9.5" ry="3.2" fill="#000" opacity="0.200" filter="url(#b1)"/>
<ellipse cx="1234.9" cy="92.5" rx="13" ry="8" fill="#000" opacity="0.200" filter="url(#b3)"/>
<ellipse cx="1234.9" cy="120" rx="9.5" ry="3.2" fill="#000" opacity="0.380" filter="url(#b1)"/>
<ellipse cx="1263.9" cy="92.5" rx="13" ry="8" fill="#000" opacity="0.160" filter="url(#b3)"/>
<ellipse cx="1263.9" cy="120.5" rx="9.5" ry="3.2" fill="#000" opacity="0.160" filter="url(#b1)"/>
<ellipse cx="1292.8" cy="92.5" rx="13" ry="8" fill="#000" opacity="0.180" filter="url(#b3)"/>
<ellipse cx="1292.8" cy="119.6" rx="9.5" ry="3.2" fill="#000" opacity="0.450" filter="url(#b1)"/>
<ellipse cx="1320.8" cy="92.5" rx="13" ry="8" fill="#000" opacity="0.160" filter="url(#b3)"/>
<ellipse cx="1320.8" cy="118.6" rx="9.5" ry="3.2" fill="#000" opacity="0.300" filter="url(#b1)"/>
<ellipse cx="1348.8" cy="92.5" rx="13" ry="8" fill="#000" opacity="0.120" filter="url(#b3)"/>
<ellipse cx="1348.8" cy="115.7" rx="9.5" ry="3.2" fill="#000" opacity="0.160" filter="url(#b1)"/>
<ellipse cx="1381" cy="111.8" rx="16" ry="8.8" fill="#000" opacity="1.000" filter="url(#b1)"/>
</g>
<clipPath id="bc4"><rect x="1019.3" y="160.1" width="374.5" height="70.1"/></clipPath>
<g clip-path="url(#bc4)">
<rect x="1019.3" y="160.1" width="374.5" height="70.1" fill="#dadada" />
<rect x="1017.3" y="214.5" width="352.7" height="4" rx="0" fill="#000" opacity="0.120" filter="url(#b1)"/>
<rect x="1022.1" y="160.1" width="28" height="70.1" rx="0" fill="#000" opacity="0.035" filter="url(#b1)"/>
<rect x="1025.6" y="170.45" width="21" height="2.5" rx="1.25" fill="#000" opacity="0.120" filter="url(#b1)"/>
<rect x="1025.6" y="183.95" width="21" height="2.5" rx="1.25" fill="#000" opacity="0.080" filter="url(#b1)"/>
<rect x="1025.6" y="196.4" width="21" height="2" rx="1" fill="#000" opacity="0.050" filter="url(#b1)"/>
<rect x="1022.8" y="204.9" width="26.6" height="3" rx="1.5" fill="#000" opacity="0.240" filter="url(#b1)"/>
<path d="M1022.1 214.5 L1050.1 214.5 L1050.1 222.75 A14 8.25 0 0 1 1022.1 222.75 Z" fill="#000" opacity="0.420" filter="url(#b1)"/>
<rect x="1023.1" y="214.5" width="26" height="6.6" rx="1" fill="#000" opacity="0.080" filter="url(#b1)"/>
<rect x="1050.1" y="160.1" width="28" height="70.1" rx="0" fill="#000" opacity="0.035" filter="url(#b1)"/>
<rect x="1053.6" y="170.45" width="21" height="2.5" rx="1.25" fill="#000" opacity="0.120" filter="url(#b1)"/>
<rect x="1053.6" y="183.95" width="21" height="2.5" rx="1.25" fill="#000" opacity="0.080" filter="url(#b1)"/>
<rect x="1053.6" y="196.4" width="21" height="2" rx="1" fill="#000" opacity="0.050" filter="url(#b1)"/>
<rect x="1050.8" y="204.9" width="26.6" height="3" rx="1.5" fill="#000" opacity="0.240" filter="url(#b1)"/>
<path d="M1050.1 214.5 L1078.1 214.5 L1078.1 222.75 A14 8.25 0 0 1 1050.1 222.75 Z" fill="#000" opacity="0.420" filter="url(#b1)"/>
<rect x="1051.1" y="214.5" width="26" height="6.6" rx="1" fill="#000" opacity="0.080" filter="url(#b1)"/>
<rect x="1079" y="160.1" width="28" height="70.1" rx="0" fill="#000" opacity="0.035" filter="url(#b1)"/>
<rect x="1082.5" y="170.45" width="21" height="2.5" rx="1.25" fill="#000" opacity="0.120" filter="url(#b1)"/>
<rect x="1082.5" y="183.95" width="21" height="2.5" rx="1.25" fill="#000" opacity="0.080" filter="url(#b1)"/>
<rect x="1082.5" y="196.4" width="21" height="2" rx="1" fill="#000" opacity="0.050" filter="url(#b1)"/>
<rect x="1079.7" y="204.9" width="26.6" height="3" rx="1.5" fill="#000" opacity="0.240" filter="url(#b1)"/>
<path d="M1079 214.5 L1107 214.5 L1107 222.75 A14 8.25 0 0 1 1079 222.75 Z" fill="#000" opacity="0.420" filter="url(#b1)"/>
<rect x="1080" y="214.5" width="26" height="6.6" rx="1" fill="#000" opacity="0.080" filter="url(#b1)"/>
<rect x="1108.9" y="160.1" width="28" height="70.1" rx="0" fill="#000" opacity="0.035" filter="url(#b1)"/>
<rect x="1112.4" y="170.45" width="21" height="2.5" rx="1.25" fill="#000" opacity="0.120" filter="url(#b1)"/>
<rect x="1112.4" y="183.95" width="21" height="2.5" rx="1.25" fill="#000" opacity="0.080" filter="url(#b1)"/>
<rect x="1112.4" y="196.4" width="21" height="2" rx="1" fill="#000" opacity="0.050" filter="url(#b1)"/>
<rect x="1109.6" y="204.9" width="26.6" height="3" rx="1.5" fill="#000" opacity="0.240" filter="url(#b1)"/>
<path d="M1108.9 214.5 L1136.9 214.5 L1136.9 222.75 A14 8.25 0 0 1 1108.9 222.75 Z" fill="#000" opacity="0.420" filter="url(#b1)"/>
<rect x="1109.9" y="214.5" width="26" height="6.6" rx="1" fill="#000" opacity="0.080" filter="url(#b1)"/>
<rect x="1137.9" y="160.1" width="28" height="70.1" rx="0" fill="#000" opacity="0.035" filter="url(#b1)"/>
<rect x="1141.4" y="170.45" width="21" height="2.5" rx="1.25" fill="#000" opacity="0.120" filter="url(#b1)"/>
<rect x="1141.4" y="183.95" width="21" height="2.5" rx="1.25" fill="#000" opacity="0.080" filter="url(#b1)"/>
<rect x="1141.4" y="196.4" width="21" height="2" rx="1" fill="#000" opacity="0.050" filter="url(#b1)"/>
<rect x="1138.6" y="204.9" width="26.6" height="3" rx="1.5" fill="#000" opacity="0.240" filter="url(#b1)"/>
<path d="M1137.9 214.5 L1165.9 214.5 L1165.9 222.75 A14 8.25 0 0 1 1137.9 222.75 Z" fill="#000" opacity="0.420" filter="url(#b1)"/>
<rect x="1138.9" y="214.5" width="26" height="6.6" rx="1" fill="#000" opacity="0.080" filter="url(#b1)"/>
<rect x="1166.8" y="160.1" width="28" height="70.1" rx="0" fill="#000" opacity="0.035" filter="url(#b1)"/>
<rect x="1170.3" y="170.45" width="21" height="2.5" rx="1.25" fill="#000" opacity="0.120" filter="url(#b1)"/>
<rect x="1170.3" y="183.95" width="21" height="2.5" rx="1.25" fill="#000" opacity="0.080" filter="url(#b1)"/>
<rect x="1170.3" y="196.4" width="21" height="2" rx="1" fill="#000" opacity="0.050" filter="url(#b1)"/>
<rect x="1167.5" y="204.9" width="26.6" height="3" rx="1.5" fill="#000" opacity="0.240" filter="url(#b1)"/>
<path d="M1166.8 214.5 L1194.8 214.5 L1194.8 222.75 A14 8.25 0 0 1 1166.8 222.75 Z" fill="#000" opacity="0.420" filter="url(#b1)"/>
<rect x="1167.8" y="214.5" width="26" height="6.6" rx="1" fill="#000" opacity="0.080" filter="url(#b1)"/>
<rect x="1194.8" y="160.1" width="28" height="70.1" rx="0" fill="#000" opacity="0.035" filter="url(#b1)"/>
<rect x="1198.3" y="170.45" width="21" height="2.5" rx="1.25" fill="#000" opacity="0.120" filter="url(#b1)"/>
<rect x="1198.3" y="183.95" width="21" height="2.5" rx="1.25" fill="#000" opacity="0.080" filter="url(#b1)"/>
<rect x="1198.3" y="196.4" width="21" height="2" rx="1" fill="#000" opacity="0.050" filter="url(#b1)"/>
<rect x="1195.5" y="204.9" width="26.6" height="3" rx="1.5" fill="#000" opacity="0.240" filter="url(#b1)"/>
<path d="M1194.8 214.5 L1222.8 214.5 L1222.8 222.75 A14 8.25 0 0 1 1194.8 222.75 Z" fill="#000" opacity="0.420" filter="url(#b1)"/>
<rect x="1195.8" y="214.5" width="26" height="6.6" rx="1" fill="#000" opacity="0.080" filter="url(#b1)"/>
<rect x="1225.7" y="160.1" width="28" height="70.1" rx="0" fill="#000" opacity="0.035" filter="url(#b1)"/>
<rect x="1229.2" y="170.45" width="21" height="2.5" rx="1.25" fill="#000" opacity="0.120" filter="url(#b1)"/>
<rect x="1229.2" y="183.95" width="21" height="2.5" rx="1.25" fill="#000" opacity="0.080" filter="url(#b1)"/>
<rect x="1229.2" y="196.4" width="21" height="2" rx="1" fill="#000" opacity="0.050" filter="url(#b1)"/>
<rect x="1226.4" y="204.9" width="26.6" height="3" rx="1.5" fill="#000" opacity="0.240" filter="url(#b1)"/>
<path d="M1225.7 214.5 L1253.7 214.5 L1253.7 222.75 A14 8.25 0 0 1 1225.7 222.75 Z" fill="#000" opacity="0.420" filter="url(#b1)"/>
<rect x="1226.7" y="214.5" width="26" height="6.6" rx="1" fill="#000" opacity="0.080" filter="url(#b1)"/>
<rect x="1252.8" y="160.1" width="28" height="70.1" rx="0" fill="#000" opacity="0.035" filter="url(#b1)"/>
<rect x="1256.3" y="170.45" width="21" height="2.5" rx="1.25" fill="#000" opacity="0.120" filter="url(#b1)"/>
<rect x="1256.3" y="183.95" width="21" height="2.5" rx="1.25" fill="#000" opacity="0.080" filter="url(#b1)"/>
<rect x="1256.3" y="196.4" width="21" height="2" rx="1" fill="#000" opacity="0.050" filter="url(#b1)"/>
<rect x="1253.5" y="204.9" width="26.6" height="3" rx="1.5" fill="#000" opacity="0.240" filter="url(#b1)"/>
<path d="M1252.8 214.5 L1280.8 214.5 L1280.8 222.75 A14 8.25 0 0 1 1252.8 222.75 Z" fill="#000" opacity="0.420" filter="url(#b1)"/>
<rect x="1253.8" y="214.5" width="26" height="6.6" rx="1" fill="#000" opacity="0.080" filter="url(#b1)"/>
<rect x="1283.6" y="160.1" width="28" height="70.1" rx="0" fill="#000" opacity="0.035" filter="url(#b1)"/>
<rect x="1287.1" y="170.45" width="21" height="2.5" rx="1.25" fill="#000" opacity="0.120" filter="url(#b1)"/>
<rect x="1287.1" y="183.95" width="21" height="2.5" rx="1.25" fill="#000" opacity="0.080" filter="url(#b1)"/>
<rect x="1287.1" y="196.4" width="21" height="2" rx="1" fill="#000" opacity="0.050" filter="url(#b1)"/>
<rect x="1284.3" y="204.9" width="26.6" height="3" rx="1.5" fill="#000" opacity="0.240" filter="url(#b1)"/>
<path d="M1283.6 214.5 L1311.6 214.5 L1311.6 222.75 A14 8.25 0 0 1 1283.6 222.75 Z" fill="#000" opacity="0.420" filter="url(#b1)"/>
<rect x="1284.6" y="214.5" width="26" height="6.6" rx="1" fill="#000" opacity="0.080" filter="url(#b1)"/>
<rect x="1312.6" y="160.1" width="28" height="70.1" rx="0" fill="#000" opacity="0.035" filter="url(#b1)"/>
<rect x="1316.1" y="170.45" width="21" height="2.5" rx="1.25" fill="#000" opacity="0.120" filter="url(#b1)"/>
<rect x="1316.1" y="183.95" width="21" height="2.5" rx="1.25" fill="#000" opacity="0.080" filter="url(#b1)"/>
<rect x="1316.1" y="196.4" width="21" height="2" rx="1" fill="#000" opacity="0.050" filter="url(#b1)"/>
<rect x="1313.3" y="204.9" width="26.6" height="3" rx="1.5" fill="#000" opacity="0.240" filter="url(#b1)"/>
<path d="M1312.6 214.5 L1340.6 214.5 L1340.6 222.75 A14 8.25 0 0 1 1312.6 222.75 Z" fill="#000" opacity="0.420" filter="url(#b1)"/>
<rect x="1313.6" y="214.5" width="26" height="6.6" rx="1" fill="#000" opacity="0.080" filter="url(#b1)"/>
<rect x="1339.6" y="160.1" width="28" height="70.1" rx="0" fill="#000" opacity="0.035" filter="url(#b1)"/>
<rect x="1343.1" y="170.45" width="21" height="2.5" rx="1.25" fill="#000" opacity="0.120" filter="url(#b1)"/>
<rect x="1343.1" y="183.95" width="21" height="2.5" rx="1.25" fill="#000" opacity="0.080" filter="url(#b1)"/>
<rect x="1343.1" y="196.4" width="21" height="2" rx="1" fill="#000" opacity="0.050" filter="url(#b1)"/>
<rect x="1340.3" y="204.9" width="26.6" height="3" rx="1.5" fill="#000" opacity="0.240" filter="url(#b1)"/>
<path d="M1339.6 214.5 L1367.6 214.5 L1367.6 222.75 A14 8.25 0 0 1 1339.6 222.75 Z" fill="#000" opacity="0.420" filter="url(#b1)"/>
<rect x="1340.6" y="214.5" width="26" height="6.6" rx="1" fill="#000" opacity="0.080" filter="url(#b1)"/>
</g>
<clipPath id="bc5"><rect x="1523" y="83.9" width="344.5" height="68.1"/></clipPath>
<g clip-path="url(#bc5)">
<rect x="1523" y="83.9" width="344.5" height="68.1" fill="#b5b5b5" />
<rect x="1523" y="83.9" width="344.5" height="68.1" fill="url(#gD)" />
<ellipse cx="1539" cy="113.9" rx="10.5" ry="2.6" fill="#000" opacity="0.100" filter="url(#b1)"/>
<ellipse cx="1539" cy="142.4" rx="11" ry="2.8" fill="#000" opacity="0.300" filter="url(#b1)"/>
<ellipse cx="1562.2" cy="113.9" rx="10.5" ry="2.6" fill="#000" opacity="0.200" filter="url(#b1)"/>
<ellipse cx="1562.2" cy="142.4" rx="11" ry="2.8" fill="#000" opacity="0.300" filter="url(#b1)"/>
<ellipse cx="1594.3" cy="96" rx="11" ry="2.2" fill="#000" opacity="0.050" filter="url(#b1)"/>
<ellipse cx="1594.3" cy="101" rx="10" ry="1.8" fill="#000" opacity="0.030" filter="url(#b1)"/>
<ellipse cx="1594.3" cy="113.9" rx="10.5" ry="2.6" fill="#000" opacity="0.250" filter="url(#b1)"/>
<ellipse cx="1594.3" cy="142.4" rx="11" ry="2.8" fill="#000" opacity="0.250" filter="url(#b1)"/>
<ellipse cx="1620.2" cy="96" rx="11" ry="2.2" fill="#000" opacity="0.100" filter="url(#b1)"/>
<ellipse cx="1620.2" cy="101" rx="10" ry="1.8" fill="#000" opacity="0.060" filter="url(#b1)"/>
<ellipse cx="1620.2" cy="113.9" rx="10.5" ry="2.6" fill="#000" opacity="0.300" filter="url(#b1)"/>
<ellipse cx="1620.2" cy="142.4" rx="11" ry="2.8" fill="#000" opacity="0.300" filter="url(#b1)"/>
<ellipse cx="1647.8" cy="96" rx="11" ry="2.2" fill="#000" opacity="0.350" filter="url(#b1)"/>
<ellipse cx="1647.8" cy="101" rx="10" ry="1.8" fill="#000" opacity="0.210" filter="url(#b1)"/>
<ellipse cx="1647.8" cy="113.9" rx="10.5" ry="2.6" fill="#000" opacity="0.350" filter="url(#b1)"/>
<ellipse cx="1647.8" cy="142.4" rx="11" ry="2.8" fill="#000" opacity="0.350" filter="url(#b1)"/>
<ellipse cx="1675.4" cy="96" rx="11" ry="2.2" fill="#000" opacity="0.400" filter="url(#b1)"/>
<ellipse cx="1675.4" cy="101" rx="10" ry="1.8" fill="#000" opacity="0.240" filter="url(#b1)"/>
<ellipse cx="1675.4" cy="113.9" rx="10.5" ry="2.6" fill="#000" opacity="0.500" filter="url(#b1)"/>
<ellipse cx="1675.4" cy="142.4" rx="11" ry="2.8" fill="#000" opacity="0.450" filter="url(#b1)"/>
<ellipse cx="1703.9" cy="96" rx="11" ry="2.2" fill="#000" opacity="0.350" filter="url(#b1)"/>
<ellipse cx="1703.9" cy="101" rx="10" ry="1.8" fill="#000" opacity="0.210" filter="url(#b1)"/>
<ellipse cx="1703.9" cy="113.9" rx="10.5" ry="2.6" fill="#000" opacity="0.450" filter="url(#b1)"/>
<ellipse cx="1703.9" cy="142.4" rx="11" ry="2.8" fill="#000" opacity="0.450" filter="url(#b1)"/>
<ellipse cx="1733.3" cy="96" rx="11" ry="2.2" fill="#000" opacity="0.350" filter="url(#b1)"/>
<ellipse cx="1733.3" cy="101" rx="10" ry="1.8" fill="#000" opacity="0.210" filter="url(#b1)"/>
<ellipse cx="1733.3" cy="113.9" rx="10.5" ry="2.6" fill="#000" opacity="0.450" filter="url(#b1)"/>
<ellipse cx="1733.3" cy="142.4" rx="11" ry="2.8" fill="#000" opacity="0.500" filter="url(#b1)"/>
<ellipse cx="1763.6" cy="96" rx="11" ry="2.2" fill="#000" opacity="0.300" filter="url(#b1)"/>
<ellipse cx="1763.6" cy="101" rx="10" ry="1.8" fill="#000" opacity="0.180" filter="url(#b1)"/>
<ellipse cx="1763.6" cy="113.9" rx="10.5" ry="2.6" fill="#000" opacity="0.450" filter="url(#b1)"/>
<ellipse cx="1763.6" cy="142.4" rx="11" ry="2.8" fill="#000" opacity="0.500" filter="url(#b1)"/>
<ellipse cx="1790.4" cy="96" rx="11" ry="2.2" fill="#000" opacity="0.300" filter="url(#b1)"/>
<ellipse cx="1790.4" cy="101" rx="10" ry="1.8" fill="#000" opacity="0.180" filter="url(#b1)"/>
<ellipse cx="1790.4" cy="113.9" rx="10.5" ry="2.6" fill="#000" opacity="0.450" filter="url(#b1)"/>
<ellipse cx="1790.4" cy="142.4" rx="11" ry="2.8" fill="#000" opacity="0.450" filter="url(#b1)"/>
<ellipse cx="1820.7" cy="96" rx="11" ry="2.2" fill="#000" opacity="0.200" filter="url(#b1)"/>
<ellipse cx="1820.7" cy="101" rx="10" ry="1.8" fill="#000" opacity="0.120" filter="url(#b1)"/>
<ellipse cx="1820.7" cy="113.9" rx="10.5" ry="2.6" fill="#000" opacity="0.450" filter="url(#b1)"/>
<ellipse cx="1820.7" cy="142.4" rx="11" ry="2.8" fill="#000" opacity="0.400" filter="url(#b1)"/>
<ellipse cx="1850.9" cy="96" rx="11" ry="2.2" fill="#000" opacity="0.150" filter="url(#b1)"/>
<ellipse cx="1850.9" cy="101" rx="10" ry="1.8" fill="#000" opacity="0.090" filter="url(#b1)"/>
<ellipse cx="1850.9" cy="113.9" rx="10.5" ry="2.6" fill="#000" opacity="0.450" filter="url(#b1)"/>
<ellipse cx="1850.9" cy="142.4" rx="11" ry="2.8" fill="#000" opacity="0.400" filter="url(#b1)"/>
</g>
<clipPath id="bc6"><rect x="1523" y="161.1" width="343.1" height="69.5"/></clipPath>
<g clip-path="url(#bc6)">
<rect x="1523" y="161.1" width="343.1" height="69.5" fill="#e4e4e4" />
<rect x="1521" y="204" width="347.1" height="5" rx="0" fill="#000" opacity="0.060" filter="url(#b1)"/>
<rect x="1524.5" y="161.1" width="27" height="69.5" rx="0" fill="#000" opacity="0.035" filter="url(#b1)"/>
<rect x="1527.2" y="161.75" width="21.6" height="2.5" rx="1.25" fill="#000" opacity="0.140" filter="url(#b1)"/>
<rect x="1527.2" y="171.7" width="21.6" height="2" rx="1" fill="#000" opacity="0.100" filter="url(#b1)"/>
<rect x="1527.2" y="185.9" width="21.6" height="2" rx="1" fill="#000" opacity="0.050" filter="url(#b1)"/>
<rect x="1525.17" y="192" width="25.65" height="4" rx="2" fill="#000" opacity="0.170" filter="url(#b05)"/>
<path d="M1524.5 204 L1551.5 204 L1551.5 216 A13.5 12 0 0 1 1524.5 216 Z" fill="#000" opacity="0.270" filter="url(#b1)"/>
<rect x="1525.5" y="204" width="25" height="9.6" rx="1" fill="#000" opacity="0.030" filter="url(#b1)"/>
<rect x="1554.5" y="161.1" width="27" height="69.5" rx="0" fill="#000" opacity="0.035" filter="url(#b1)"/>
<rect x="1557.2" y="161.75" width="21.6" height="2.5" rx="1.25" fill="#000" opacity="0.140" filter="url(#b1)"/>
<rect x="1557.2" y="171.7" width="21.6" height="2" rx="1" fill="#000" opacity="0.100" filter="url(#b1)"/>
<rect x="1557.2" y="185.9" width="21.6" height="2" rx="1" fill="#000" opacity="0.050" filter="url(#b1)"/>
<rect x="1555.17" y="192" width="25.65" height="4" rx="2" fill="#000" opacity="0.170" filter="url(#b05)"/>
<path d="M1554.5 204 L1581.5 204 L1581.5 216 A13.5 12 0 0 1 1554.5 216 Z" fill="#000" opacity="0.270" filter="url(#b1)"/>
<rect x="1555.5" y="204" width="25" height="9.6" rx="1" fill="#000" opacity="0.030" filter="url(#b1)"/>
<rect x="1583.9" y="161.1" width="27" height="69.5" rx="0" fill="#000" opacity="0.035" filter="url(#b1)"/>
<rect x="1586.6" y="161.75" width="21.6" height="2.5" rx="1.25" fill="#000" opacity="0.140" filter="url(#b1)"/>
<rect x="1586.6" y="171.7" width="21.6" height="2" rx="1" fill="#000" opacity="0.100" filter="url(#b1)"/>
<rect x="1586.6" y="185.9" width="21.6" height="2" rx="1" fill="#000" opacity="0.050" filter="url(#b1)"/>
<rect x="1584.58" y="192" width="25.65" height="4" rx="2" fill="#000" opacity="0.170" filter="url(#b05)"/>
<path d="M1583.9 204 L1610.9 204 L1610.9 216 A13.5 12 0 0 1 1583.9 216 Z" fill="#000" opacity="0.270" filter="url(#b1)"/>
<rect x="1584.9" y="204" width="25" height="9.6" rx="1" fill="#000" opacity="0.030" filter="url(#b1)"/>
<rect x="1613.5" y="161.1" width="27" height="69.5" rx="0" fill="#000" opacity="0.035" filter="url(#b1)"/>
<rect x="1616.2" y="161.75" width="21.6" height="2.5" rx="1.25" fill="#000" opacity="0.140" filter="url(#b1)"/>
<rect x="1616.2" y="171.7" width="21.6" height="2" rx="1" fill="#000" opacity="0.100" filter="url(#b1)"/>
<rect x="1616.2" y="185.9" width="21.6" height="2" rx="1" fill="#000" opacity="0.050" filter="url(#b1)"/>
<rect x="1614.17" y="192" width="25.65" height="4" rx="2" fill="#000" opacity="0.170" filter="url(#b05)"/>
<path d="M1613.5 204 L1640.5 204 L1640.5 216 A13.5 12 0 0 1 1613.5 216 Z" fill="#000" opacity="0.270" filter="url(#b1)"/>
<rect x="1614.5" y="204" width="25" height="9.6" rx="1" fill="#000" opacity="0.030" filter="url(#b1)"/>
<rect x="1642.5" y="161.1" width="27" height="69.5" rx="0" fill="#000" opacity="0.035" filter="url(#b1)"/>
<rect x="1645.2" y="161.75" width="21.6" height="2.5" rx="1.25" fill="#000" opacity="0.140" filter="url(#b1)"/>
<rect x="1645.2" y="171.7" width="21.6" height="2" rx="1" fill="#000" opacity="0.100" filter="url(#b1)"/>
<rect x="1645.2" y="185.9" width="21.6" height="2" rx="1" fill="#000" opacity="0.050" filter="url(#b1)"/>
<rect x="1643.17" y="192" width="25.65" height="4" rx="2" fill="#000" opacity="0.170" filter="url(#b05)"/>
<path d="M1642.5 204 L1669.5 204 L1669.5 216 A13.5 12 0 0 1 1642.5 216 Z" fill="#000" opacity="0.270" filter="url(#b1)"/>
<rect x="1643.5" y="204" width="25" height="9.6" rx="1" fill="#000" opacity="0.030" filter="url(#b1)"/>
<rect x="1670.8" y="161.1" width="27" height="69.5" rx="0" fill="#000" opacity="0.035" filter="url(#b1)"/>
<rect x="1673.5" y="161.75" width="21.6" height="2.5" rx="1.25" fill="#000" opacity="0.140" filter="url(#b1)"/>
<rect x="1673.5" y="171.7" width="21.6" height="2" rx="1" fill="#000" opacity="0.100" filter="url(#b1)"/>
<rect x="1673.5" y="185.9" width="21.6" height="2" rx="1" fill="#000" opacity="0.050" filter="url(#b1)"/>
<rect x="1671.47" y="192" width="25.65" height="4" rx="2" fill="#000" opacity="0.170" filter="url(#b05)"/>
<path d="M1670.8 204 L1697.8 204 L1697.8 216 A13.5 12 0 0 1 1670.8 216 Z" fill="#000" opacity="0.270" filter="url(#b1)"/>
<rect x="1671.8" y="204" width="25" height="9.6" rx="1" fill="#000" opacity="0.030" filter="url(#b1)"/>
<rect x="1699.4" y="161.1" width="27" height="69.5" rx="0" fill="#000" opacity="0.035" filter="url(#b1)"/>
<rect x="1702.1" y="161.75" width="21.6" height="2.5" rx="1.25" fill="#000" opacity="0.140" filter="url(#b1)"/>
<rect x="1702.1" y="171.7" width="21.6" height="2" rx="1" fill="#000" opacity="0.100" filter="url(#b1)"/>
<rect x="1702.1" y="185.9" width="21.6" height="2" rx="1" fill="#000" opacity="0.050" filter="url(#b1)"/>
<rect x="1700.08" y="192" width="25.65" height="4" rx="2" fill="#000" opacity="0.170" filter="url(#b05)"/>
<path d="M1699.4 204 L1726.4 204 L1726.4 216 A13.5 12 0 0 1 1699.4 216 Z" fill="#000" opacity="0.270" filter="url(#b1)"/>
<rect x="1700.4" y="204" width="25" height="9.6" rx="1" fill="#000" opacity="0.030" filter="url(#b1)"/>
<rect x="1727" y="161.1" width="27" height="69.5" rx="0" fill="#000" opacity="0.035" filter="url(#b1)"/>
<rect x="1729.7" y="161.75" width="21.6" height="2.5" rx="1.25" fill="#000" opacity="0.140" filter="url(#b1)"/>
<rect x="1729.7" y="171.7" width="21.6" height="2" rx="1" fill="#000" opacity="0.100" filter="url(#b1)"/>
<rect x="1729.7" y="185.9" width="21.6" height="2" rx="1" fill="#000" opacity="0.050" filter="url(#b1)"/>
<rect x="1727.67" y="192" width="25.65" height="4" rx="2" fill="#000" opacity="0.170" filter="url(#b05)"/>
<path d="M1727 204 L1754 204 L1754 216 A13.5 12 0 0 1 1727 216 Z" fill="#000" opacity="0.270" filter="url(#b1)"/>
<rect x="1728" y="204" width="25" height="9.6" rx="1" fill="#000" opacity="0.030" filter="url(#b1)"/>
<rect x="1753.7" y="161.1" width="27" height="69.5" rx="0" fill="#000" opacity="0.035" filter="url(#b1)"/>
<rect x="1756.4" y="161.75" width="21.6" height="2.5" rx="1.25" fill="#000" opacity="0.140" filter="url(#b1)"/>
<rect x="1756.4" y="171.7" width="21.6" height="2" rx="1" fill="#000" opacity="0.100" filter="url(#b1)"/>
<rect x="1756.4" y="185.9" width="21.6" height="2" rx="1" fill="#000" opacity="0.050" filter="url(#b1)"/>
<rect x="1754.38" y="192" width="25.65" height="4" rx="2" fill="#000" opacity="0.170" filter="url(#b05)"/>
<path d="M1753.7 204 L1780.7 204 L1780.7 216 A13.5 12 0 0 1 1753.7 216 Z" fill="#000" opacity="0.270" filter="url(#b1)"/>
<rect x="1754.7" y="204" width="25" height="9.6" rx="1" fill="#000" opacity="0.030" filter="url(#b1)"/>
<rect x="1780.9" y="161.1" width="27" height="69.5" rx="0" fill="#000" opacity="0.035" filter="url(#b1)"/>
<rect x="1783.6" y="161.75" width="21.6" height="2.5" rx="1.25" fill="#000" opacity="0.140" filter="url(#b1)"/>
<rect x="1783.6" y="171.7" width="21.6" height="2" rx="1" fill="#000" opacity="0.100" filter="url(#b1)"/>
<rect x="1783.6" y="185.9" width="21.6" height="2" rx="1" fill="#000" opacity="0.050" filter="url(#b1)"/>
<rect x="1781.58" y="192" width="25.65" height="4" rx="2" fill="#000" opacity="0.170" filter="url(#b05)"/>
<path d="M1780.9 204 L1807.9 204 L1807.9 216 A13.5 12 0 0 1 1780.9 216 Z" fill="#000" opacity="0.270" filter="url(#b1)"/>
<rect x="1781.9" y="204" width="25" height="9.6" rx="1" fill="#000" opacity="0.030" filter="url(#b1)"/>
<rect x="1807.6" y="161.1" width="27" height="69.5" rx="0" fill="#000" opacity="0.035" filter="url(#b1)"/>
<rect x="1810.3" y="161.75" width="21.6" height="2.5" rx="1.25" fill="#000" opacity="0.140" filter="url(#b1)"/>
<rect x="1810.3" y="171.7" width="21.6" height="2" rx="1" fill="#000" opacity="0.100" filter="url(#b1)"/>
<rect x="1810.3" y="185.9" width="21.6" height="2" rx="1" fill="#000" opacity="0.050" filter="url(#b1)"/>
<rect x="1808.27" y="192" width="25.65" height="4" rx="2" fill="#000" opacity="0.170" filter="url(#b05)"/>
<path d="M1807.6 204 L1834.6 204 L1834.6 216 A13.5 12 0 0 1 1807.6 216 Z" fill="#000" opacity="0.270" filter="url(#b1)"/>
<rect x="1808.6" y="204" width="25" height="9.6" rx="1" fill="#000" opacity="0.030" filter="url(#b1)"/>
<rect x="1836.5" y="161.1" width="27" height="69.5" rx="0" fill="#000" opacity="0.035" filter="url(#b1)"/>
<rect x="1839.2" y="161.75" width="21.6" height="2.5" rx="1.25" fill="#000" opacity="0.140" filter="url(#b1)"/>
<rect x="1839.2" y="171.7" width="21.6" height="2" rx="1" fill="#000" opacity="0.100" filter="url(#b1)"/>
<rect x="1839.2" y="185.9" width="21.6" height="2" rx="1" fill="#000" opacity="0.050" filter="url(#b1)"/>
<rect x="1837.17" y="192" width="25.65" height="4" rx="2" fill="#000" opacity="0.170" filter="url(#b05)"/>
<path d="M1836.5 204 L1863.5 204 L1863.5 216 A13.5 12 0 0 1 1836.5 216 Z" fill="#000" opacity="0.270" filter="url(#b1)"/>
<rect x="1837.5" y="204" width="25" height="9.6" rx="1" fill="#000" opacity="0.030" filter="url(#b1)"/>
</g>
<clipPath id="bc7"><rect x="37.9" y="720.5" width="382.2" height="68.8"/></clipPath>
<g clip-path="url(#bc7)">
<rect x="37.9" y="720.5" width="382.2" height="68.8" fill="#e9e9e9" />
<rect x="39.8" y="768.5" width="28" height="11" rx="5.5" fill="#000" opacity="0.740" filter="url(#b05)"/>
<rect x="70.5" y="768.5" width="28" height="11" rx="5.5" fill="#000" opacity="0.740" filter="url(#b05)"/>
<rect x="100.8" y="768.5" width="28" height="11" rx="5.5" fill="#000" opacity="0.740" filter="url(#b05)"/>
<rect x="129.9" y="768.5" width="28" height="11" rx="5.5" fill="#000" opacity="0.740" filter="url(#b05)"/>
<rect x="159" y="768.5" width="28" height="11" rx="5.5" fill="#000" opacity="0.740" filter="url(#b05)"/>
<rect x="187.9" y="768.5" width="28" height="11" rx="5.5" fill="#000" opacity="0.740" filter="url(#b05)"/>
<rect x="217" y="768.5" width="28" height="11" rx="5.5" fill="#000" opacity="0.740" filter="url(#b05)"/>
<rect x="245.3" y="768.5" width="28" height="11" rx="5.5" fill="#000" opacity="0.740" filter="url(#b05)"/>
<rect x="273.4" y="768.5" width="28" height="11" rx="5.5" fill="#000" opacity="0.740" filter="url(#b05)"/>
<rect x="302.7" y="768.5" width="28" height="11" rx="5.5" fill="#000" opacity="0.740" filter="url(#b05)"/>
<rect x="333.2" y="768.5" width="28" height="11" rx="5.5" fill="#000" opacity="0.740" filter="url(#b05)"/>
<rect x="363.5" y="768.5" width="28" height="11" rx="5.5" fill="#000" opacity="0.740" filter="url(#b05)"/>
<rect x="398" y="768.5" width="13" height="4.5" rx="2" fill="#000" opacity="0.800" filter="url(#b1)"/>
<rect x="398" y="722" width="13" height="50" fill="#000" opacity="0.06" filter="url(#b2)"/>
</g>
<clipPath id="bc8"><rect x="36.9" y="799.5" width="383.6" height="69.2"/></clipPath>
<g clip-path="url(#bc8)">
<rect x="36.9" y="799.5" width="383.6" height="69.2" fill="#ececec" />
<rect x="38.3" y="799.5" width="28" height="69.2" rx="0" fill="#000" opacity="0.035" filter="url(#b1)"/>
<rect x="43.2" y="805.4" width="18.2" height="1.8" rx="0.9" fill="#000" opacity="0.300" filter="url(#b1)"/>
<rect x="42.22" y="808.3" width="20.16" height="3" rx="1.5" fill="#000" opacity="0.520" filter="url(#b1)"/>
<rect x="42.5" y="816.4" width="19.6" height="2.2" rx="1.1" fill="#000" opacity="0.160" filter="url(#b1)"/>
<rect x="41.1" y="832.05" width="22.4" height="2.5" rx="1.25" fill="#000" opacity="0.360" filter="url(#b1)"/>
<rect x="39.7" y="835.5" width="25.2" height="4" rx="2" fill="#000" opacity="0.200" filter="url(#b05)"/>
<rect x="38.3" y="839.85" width="28" height="5.5" rx="2.75" fill="#000" opacity="0.600" filter="url(#b05)"/>
<path d="M38.3 845.5 L66.3 845.5 L66.3 850.75 A14 5.25 0 0 1 38.3 850.75 Z" fill="#000" opacity="0.450" filter="url(#b1)"/>
<rect x="39.3" y="845.5" width="26" height="4.2" rx="1" fill="#000" opacity="0.050" filter="url(#b1)"/>
<rect x="68.5" y="799.5" width="28" height="69.2" rx="0" fill="#000" opacity="0.035" filter="url(#b1)"/>
<rect x="73.4" y="805.4" width="18.2" height="1.8" rx="0.9" fill="#000" opacity="0.300" filter="url(#b1)"/>
<rect x="72.42" y="808.3" width="20.16" height="3" rx="1.5" fill="#000" opacity="0.520" filter="url(#b1)"/>
<rect x="72.7" y="816.4" width="19.6" height="2.2" rx="1.1" fill="#000" opacity="0.160" filter="url(#b1)"/>
<rect x="71.3" y="832.05" width="22.4" height="2.5" rx="1.25" fill="#000" opacity="0.360" filter="url(#b1)"/>
<rect x="69.9" y="835.5" width="25.2" height="4" rx="2" fill="#000" opacity="0.200" filter="url(#b05)"/>
<rect x="68.5" y="839.85" width="28" height="5.5" rx="2.75" fill="#000" opacity="0.600" filter="url(#b05)"/>
<path d="M68.5 845.5 L96.5 845.5 L96.5 850.75 A14 5.25 0 0 1 68.5 850.75 Z" fill="#000" opacity="0.450" filter="url(#b1)"/>
<rect x="69.5" y="845.5" width="26" height="4.2" rx="1" fill="#000" opacity="0.050" filter="url(#b1)"/>
<rect x="97.9" y="799.5" width="28" height="69.2" rx="0" fill="#000" opacity="0.035" filter="url(#b1)"/>
<rect x="102.8" y="805.4" width="18.2" height="1.8" rx="0.9" fill="#000" opacity="0.300" filter="url(#b1)"/>
<rect x="101.82" y="808.3" width="20.16" height="3" rx="1.5" fill="#000" opacity="0.520" filter="url(#b1)"/>
<rect x="102.1" y="816.4" width="19.6" height="2.2" rx="1.1" fill="#000" opacity="0.160" filter="url(#b1)"/>
<rect x="100.7" y="832.05" width="22.4" height="2.5" rx="1.25" fill="#000" opacity="0.360" filter="url(#b1)"/>
<rect x="99.3" y="835.5" width="25.2" height="4" rx="2" fill="#000" opacity="0.200" filter="url(#b05)"/>
<rect x="97.9" y="839.85" width="28" height="5.5" rx="2.75" fill="#000" opacity="0.600" filter="url(#b05)"/>
<path d="M97.9 845.5 L125.9 845.5 L125.9 850.75 A14 5.25 0 0 1 97.9 850.75 Z" fill="#000" opacity="0.450" filter="url(#b1)"/>
<rect x="98.9" y="845.5" width="26" height="4.2" rx="1" fill="#000" opacity="0.050" filter="url(#b1)"/>
<rect x="127.1" y="799.5" width="28" height="69.2" rx="0" fill="#000" opacity="0.035" filter="url(#b1)"/>
<rect x="132" y="805.4" width="18.2" height="1.8" rx="0.9" fill="#000" opacity="0.300" filter="url(#b1)"/>
<rect x="131.02" y="808.3" width="20.16" height="3" rx="1.5" fill="#000" opacity="0.520" filter="url(#b1)"/>
<rect x="131.3" y="816.4" width="19.6" height="2.2" rx="1.1" fill="#000" opacity="0.160" filter="url(#b1)"/>
<rect x="129.9" y="832.05" width="22.4" height="2.5" rx="1.25" fill="#000" opacity="0.360" filter="url(#b1)"/>
<rect x="128.5" y="835.5" width="25.2" height="4" rx="2" fill="#000" opacity="0.200" filter="url(#b05)"/>
<rect x="127.1" y="839.85" width="28" height="5.5" rx="2.75" fill="#000" opacity="0.600" filter="url(#b05)"/>
<path d="M127.1 845.5 L155.1 845.5 L155.1 850.75 A14 5.25 0 0 1 127.1 850.75 Z" fill="#000" opacity="0.450" filter="url(#b1)"/>
<rect x="128.1" y="845.5" width="26" height="4.2" rx="1" fill="#000" opacity="0.050" filter="url(#b1)"/>
<rect x="156.1" y="799.5" width="28" height="69.2" rx="0" fill="#000" opacity="0.035" filter="url(#b1)"/>
<rect x="161" y="805.4" width="18.2" height="1.8" rx="0.9" fill="#000" opacity="0.300" filter="url(#b1)"/>
<rect x="160.02" y="808.3" width="20.16" height="3" rx="1.5" fill="#000" opacity="0.520" filter="url(#b1)"/>
<rect x="160.3" y="816.4" width="19.6" height="2.2" rx="1.1" fill="#000" opacity="0.160" filter="url(#b1)"/>
<rect x="158.9" y="832.05" width="22.4" height="2.5" rx="1.25" fill="#000" opacity="0.360" filter="url(#b1)"/>
<rect x="157.5" y="835.5" width="25.2" height="4" rx="2" fill="#000" opacity="0.200" filter="url(#b05)"/>
<rect x="156.1" y="839.85" width="28" height="5.5" rx="2.75" fill="#000" opacity="0.600" filter="url(#b05)"/>
<path d="M156.1 845.5 L184.1 845.5 L184.1 850.75 A14 5.25 0 0 1 156.1 850.75 Z" fill="#000" opacity="0.450" filter="url(#b1)"/>
<rect x="157.1" y="845.5" width="26" height="4.2" rx="1" fill="#000" opacity="0.050" filter="url(#b1)"/>
<rect x="185.4" y="799.5" width="28" height="69.2" rx="0" fill="#000" opacity="0.035" filter="url(#b1)"/>
<rect x="190.3" y="805.4" width="18.2" height="1.8" rx="0.9" fill="#000" opacity="0.300" filter="url(#b1)"/>
<rect x="189.32" y="808.3" width="20.16" height="3" rx="1.5" fill="#000" opacity="0.520" filter="url(#b1)"/>
<rect x="189.6" y="816.4" width="19.6" height="2.2" rx="1.1" fill="#000" opacity="0.160" filter="url(#b1)"/>
<rect x="188.2" y="832.05" width="22.4" height="2.5" rx="1.25" fill="#000" opacity="0.360" filter="url(#b1)"/>
<rect x="186.8" y="835.5" width="25.2" height="4" rx="2" fill="#000" opacity="0.200" filter="url(#b05)"/>
<rect x="185.4" y="839.85" width="28" height="5.5" rx="2.75" fill="#000" opacity="0.600" filter="url(#b05)"/>
<path d="M185.4 845.5 L213.4 845.5 L213.4 850.75 A14 5.25 0 0 1 185.4 850.75 Z" fill="#000" opacity="0.450" filter="url(#b1)"/>
<rect x="186.4" y="845.5" width="26" height="4.2" rx="1" fill="#000" opacity="0.050" filter="url(#b1)"/>
<rect x="214.6" y="799.5" width="28" height="69.2" rx="0" fill="#000" opacity="0.035" filter="url(#b1)"/>
<rect x="219.5" y="805.4" width="18.2" height="1.8" rx="0.9" fill="#000" opacity="0.300" filter="url(#b1)"/>
<rect x="218.52" y="808.3" width="20.16" height="3" rx="1.5" fill="#000" opacity="0.520" filter="url(#b1)"/>
<rect x="218.8" y="816.4" width="19.6" height="2.2" rx="1.1" fill="#000" opacity="0.160" filter="url(#b1)"/>
<rect x="217.4" y="832.05" width="22.4" height="2.5" rx="1.25" fill="#000" opacity="0.360" filter="url(#b1)"/>
<rect x="216" y="835.5" width="25.2" height="4" rx="2" fill="#000" opacity="0.200" filter="url(#b05)"/>
<rect x="214.6" y="839.85" width="28" height="5.5" rx="2.75" fill="#000" opacity="0.600" filter="url(#b05)"/>
<path d="M214.6 845.5 L242.6 845.5 L242.6 850.75 A14 5.25 0 0 1 214.6 850.75 Z" fill="#000" opacity="0.450" filter="url(#b1)"/>
<rect x="215.6" y="845.5" width="26" height="4.2" rx="1" fill="#000" opacity="0.050" filter="url(#b1)"/>
<rect x="243.3" y="799.5" width="28" height="69.2" rx="0" fill="#000" opacity="0.035" filter="url(#b1)"/>
<rect x="248.2" y="805.4" width="18.2" height="1.8" rx="0.9" fill="#000" opacity="0.300" filter="url(#b1)"/>
<rect x="247.22" y="808.3" width="20.16" height="3" rx="1.5" fill="#000" opacity="0.520" filter="url(#b1)"/>
<rect x="247.5" y="816.4" width="19.6" height="2.2" rx="1.1" fill="#000" opacity="0.160" filter="url(#b1)"/>
<rect x="246.1" y="832.05" width="22.4" height="2.5" rx="1.25" fill="#000" opacity="0.360" filter="url(#b1)"/>
<rect x="244.7" y="835.5" width="25.2" height="4" rx="2" fill="#000" opacity="0.200" filter="url(#b05)"/>
<rect x="243.3" y="839.85" width="28" height="5.5" rx="2.75" fill="#000" opacity="0.600" filter="url(#b05)"/>
<path d="M243.3 845.5 L271.3 845.5 L271.3 850.75 A14 5.25 0 0 1 243.3 850.75 Z" fill="#000" opacity="0.450" filter="url(#b1)"/>
<rect x="244.3" y="845.5" width="26" height="4.2" rx="1" fill="#000" opacity="0.050" filter="url(#b1)"/>
<rect x="272" y="799.5" width="28" height="69.2" rx="0" fill="#000" opacity="0.035" filter="url(#b1)"/>
<rect x="276.9" y="805.4" width="18.2" height="1.8" rx="0.9" fill="#000" opacity="0.300" filter="url(#b1)"/>
<rect x="275.92" y="808.3" width="20.16" height="3" rx="1.5" fill="#000" opacity="0.520" filter="url(#b1)"/>
<rect x="276.2" y="816.4" width="19.6" height="2.2" rx="1.1" fill="#000" opacity="0.160" filter="url(#b1)"/>
<rect x="274.8" y="832.05" width="22.4" height="2.5" rx="1.25" fill="#000" opacity="0.360" filter="url(#b1)"/>
<rect x="273.4" y="835.5" width="25.2" height="4" rx="2" fill="#000" opacity="0.200" filter="url(#b05)"/>
<rect x="272" y="839.85" width="28" height="5.5" rx="2.75" fill="#000" opacity="0.600" filter="url(#b05)"/>
<path d="M272 845.5 L300 845.5 L300 850.75 A14 5.25 0 0 1 272 850.75 Z" fill="#000" opacity="0.450" filter="url(#b1)"/>
<rect x="273" y="845.5" width="26" height="4.2" rx="1" fill="#000" opacity="0.050" filter="url(#b1)"/>
<rect x="300.7" y="799.5" width="28" height="69.2" rx="0" fill="#000" opacity="0.035" filter="url(#b1)"/>
<rect x="305.6" y="805.4" width="18.2" height="1.8" rx="0.9" fill="#000" opacity="0.300" filter="url(#b1)"/>
<rect x="304.62" y="808.3" width="20.16" height="3" rx="1.5" fill="#000" opacity="0.520" filter="url(#b1)"/>
<rect x="304.9" y="816.4" width="19.6" height="2.2" rx="1.1" fill="#000" opacity="0.160" filter="url(#b1)"/>
<rect x="303.5" y="832.05" width="22.4" height="2.5" rx="1.25" fill="#000" opacity="0.360" filter="url(#b1)"/>
<rect x="302.1" y="835.5" width="25.2" height="4" rx="2" fill="#000" opacity="0.200" filter="url(#b05)"/>
<rect x="300.7" y="839.85" width="28" height="5.5" rx="2.75" fill="#000" opacity="0.600" filter="url(#b05)"/>
<path d="M300.7 845.5 L328.7 845.5 L328.7 850.75 A14 5.25 0 0 1 300.7 850.75 Z" fill="#000" opacity="0.450" filter="url(#b1)"/>
<rect x="301.7" y="845.5" width="26" height="4.2" rx="1" fill="#000" opacity="0.050" filter="url(#b1)"/>
<rect x="329.9" y="799.5" width="28" height="69.2" rx="0" fill="#000" opacity="0.035" filter="url(#b1)"/>
<rect x="334.8" y="805.4" width="18.2" height="1.8" rx="0.9" fill="#000" opacity="0.300" filter="url(#b1)"/>
<rect x="333.82" y="808.3" width="20.16" height="3" rx="1.5" fill="#000" opacity="0.520" filter="url(#b1)"/>
<rect x="334.1" y="816.4" width="19.6" height="2.2" rx="1.1" fill="#000" opacity="0.160" filter="url(#b1)"/>
<rect x="332.7" y="832.05" width="22.4" height="2.5" rx="1.25" fill="#000" opacity="0.360" filter="url(#b1)"/>
<rect x="331.3" y="835.5" width="25.2" height="4" rx="2" fill="#000" opacity="0.200" filter="url(#b05)"/>
<rect x="329.9" y="839.85" width="28" height="5.5" rx="2.75" fill="#000" opacity="0.600" filter="url(#b05)"/>
<path d="M329.9 845.5 L357.9 845.5 L357.9 850.75 A14 5.25 0 0 1 329.9 850.75 Z" fill="#000" opacity="0.450" filter="url(#b1)"/>
<rect x="330.9" y="845.5" width="26" height="4.2" rx="1" fill="#000" opacity="0.050" filter="url(#b1)"/>
<rect x="361.4" y="799.5" width="28" height="69.2" rx="0" fill="#000" opacity="0.035" filter="url(#b1)"/>
<rect x="366.3" y="805.4" width="18.2" height="1.8" rx="0.9" fill="#000" opacity="0.300" filter="url(#b1)"/>
<rect x="365.32" y="808.3" width="20.16" height="3" rx="1.5" fill="#000" opacity="0.520" filter="url(#b1)"/>
<rect x="365.6" y="816.4" width="19.6" height="2.2" rx="1.1" fill="#000" opacity="0.160" filter="url(#b1)"/>
<rect x="364.2" y="832.05" width="22.4" height="2.5" rx="1.25" fill="#000" opacity="0.360" filter="url(#b1)"/>
<rect x="362.8" y="835.5" width="25.2" height="4" rx="2" fill="#000" opacity="0.200" filter="url(#b05)"/>
<rect x="361.4" y="839.85" width="28" height="5.5" rx="2.75" fill="#000" opacity="0.600" filter="url(#b05)"/>
<path d="M361.4 845.5 L389.4 845.5 L389.4 850.75 A14 5.25 0 0 1 361.4 850.75 Z" fill="#000" opacity="0.450" filter="url(#b1)"/>
<rect x="362.4" y="845.5" width="26" height="4.2" rx="1" fill="#000" opacity="0.050" filter="url(#b1)"/>
</g>
<clipPath id="bc9"><rect x="556.3" y="720.5" width="384.8" height="68.8"/></clipPath>
<g clip-path="url(#bc9)">
<rect x="556.3" y="720.5" width="384.8" height="68.8" fill="#bfbfbf" />
<ellipse cx="693.6" cy="766.1" rx="15" ry="4.5" fill="#000" opacity="1.000" filter="url(#b05)"/>
<ellipse cx="723.8" cy="766.1" rx="15" ry="4.5" fill="#000" opacity="1.000" filter="url(#b05)"/>
<ellipse cx="870" cy="767" rx="8" ry="2" fill="#000" opacity="0.900" filter="url(#b05)"/>
<ellipse cx="903" cy="766.5" rx="10" ry="1.6" fill="#000" opacity="0.450" filter="url(#b05)"/>
</g>
<clipPath id="bc10"><rect x="556.9" y="800.5" width="384.2" height="68"/></clipPath>
<g clip-path="url(#bc10)">
<rect x="556.9" y="800.5" width="384.2" height="68" fill="#ebebeb" />
<rect x="554.9" y="845.5" width="358.1" height="4" rx="0" fill="#000" opacity="0.100" filter="url(#b1)"/>
<rect x="557.55" y="800.5" width="28.5" height="68" rx="0" fill="#000" opacity="0.035" filter="url(#b1)"/>
<rect x="561.11" y="809" width="21.38" height="2" rx="1" fill="#000" opacity="0.220" filter="url(#b1)"/>
<rect x="561.11" y="820.5" width="21.38" height="2" rx="1" fill="#000" opacity="0.170" filter="url(#b1)"/>
<rect x="560.4" y="832" width="22.8" height="2" rx="1" fill="#000" opacity="0.080" filter="url(#b1)"/>
<rect x="558.26" y="836.3" width="27.07" height="3" rx="1.5" fill="#000" opacity="0.300" filter="url(#b1)"/>
<path d="M557.55 845.5 L586.05 845.5 L586.05 853.25 A14.25 7.75 0 0 1 557.55 853.25 Z" fill="#000" opacity="0.380" filter="url(#b1)"/>
<rect x="558.55" y="845.5" width="26.5" height="6.2" rx="1" fill="#000" opacity="0.070" filter="url(#b1)"/>
<rect x="588.25" y="800.5" width="28.5" height="68" rx="0" fill="#000" opacity="0.035" filter="url(#b1)"/>
<rect x="591.81" y="809" width="21.38" height="2" rx="1" fill="#000" opacity="0.220" filter="url(#b1)"/>
<rect x="591.81" y="820.5" width="21.38" height="2" rx="1" fill="#000" opacity="0.170" filter="url(#b1)"/>
<rect x="591.1" y="832" width="22.8" height="2" rx="1" fill="#000" opacity="0.080" filter="url(#b1)"/>
<rect x="588.96" y="836.3" width="27.07" height="3" rx="1.5" fill="#000" opacity="0.300" filter="url(#b1)"/>
<path d="M588.25 845.5 L616.75 845.5 L616.75 853.25 A14.25 7.75 0 0 1 588.25 853.25 Z" fill="#000" opacity="0.380" filter="url(#b1)"/>
<rect x="589.25" y="845.5" width="26.5" height="6.2" rx="1" fill="#000" opacity="0.070" filter="url(#b1)"/>
<rect x="617.95" y="800.5" width="28.5" height="68" rx="0" fill="#000" opacity="0.035" filter="url(#b1)"/>
<rect x="621.51" y="809" width="21.38" height="2" rx="1" fill="#000" opacity="0.220" filter="url(#b1)"/>
<rect x="621.51" y="820.5" width="21.38" height="2" rx="1" fill="#000" opacity="0.170" filter="url(#b1)"/>
<rect x="620.8" y="832" width="22.8" height="2" rx="1" fill="#000" opacity="0.080" filter="url(#b1)"/>
<rect x="618.66" y="836.3" width="27.07" height="3" rx="1.5" fill="#000" opacity="0.300" filter="url(#b1)"/>
<path d="M617.95 845.5 L646.45 845.5 L646.45 853.25 A14.25 7.75 0 0 1 617.95 853.25 Z" fill="#000" opacity="0.380" filter="url(#b1)"/>
<rect x="618.95" y="845.5" width="26.5" height="6.2" rx="1" fill="#000" opacity="0.070" filter="url(#b1)"/>
<rect x="647.65" y="800.5" width="28.5" height="68" rx="0" fill="#000" opacity="0.035" filter="url(#b1)"/>
<rect x="651.21" y="809" width="21.38" height="2" rx="1" fill="#000" opacity="0.220" filter="url(#b1)"/>
<rect x="651.21" y="820.5" width="21.38" height="2" rx="1" fill="#000" opacity="0.170" filter="url(#b1)"/>
<rect x="650.5" y="832" width="22.8" height="2" rx="1" fill="#000" opacity="0.080" filter="url(#b1)"/>
<rect x="648.36" y="836.3" width="27.07" height="3" rx="1.5" fill="#000" opacity="0.300" filter="url(#b1)"/>
<path d="M647.65 845.5 L676.15 845.5 L676.15 853.25 A14.25 7.75 0 0 1 647.65 853.25 Z" fill="#000" opacity="0.380" filter="url(#b1)"/>
<rect x="648.65" y="845.5" width="26.5" height="6.2" rx="1" fill="#000" opacity="0.070" filter="url(#b1)"/>
<rect x="677.95" y="800.5" width="28.5" height="68" rx="0" fill="#000" opacity="0.035" filter="url(#b1)"/>
<rect x="681.51" y="809" width="21.38" height="2" rx="1" fill="#000" opacity="0.220" filter="url(#b1)"/>
<rect x="681.51" y="820.5" width="21.38" height="2" rx="1" fill="#000" opacity="0.170" filter="url(#b1)"/>
<rect x="680.8" y="832" width="22.8" height="2" rx="1" fill="#000" opacity="0.080" filter="url(#b1)"/>
<rect x="678.66" y="836.3" width="27.07" height="3" rx="1.5" fill="#000" opacity="0.300" filter="url(#b1)"/>
<path d="M677.95 845.5 L706.45 845.5 L706.45 853.25 A14.25 7.75 0 0 1 677.95 853.25 Z" fill="#000" opacity="0.380" filter="url(#b1)"/>
<rect x="678.95" y="845.5" width="26.5" height="6.2" rx="1" fill="#000" opacity="0.070" filter="url(#b1)"/>
<rect x="708.05" y="800.5" width="28.5" height="68" rx="0" fill="#000" opacity="0.035" filter="url(#b1)"/>
<rect x="711.61" y="809" width="21.38" height="2" rx="1" fill="#000" opacity="0.220" filter="url(#b1)"/>
<rect x="711.61" y="820.5" width="21.38" height="2" rx="1" fill="#000" opacity="0.170" filter="url(#b1)"/>
<rect x="710.9" y="832" width="22.8" height="2" rx="1" fill="#000" opacity="0.080" filter="url(#b1)"/>
<rect x="708.76" y="836.3" width="27.07" height="3" rx="1.5" fill="#000" opacity="0.300" filter="url(#b1)"/>
<path d="M708.05 845.5 L736.55 845.5 L736.55 853.25 A14.25 7.75 0 0 1 708.05 853.25 Z" fill="#000" opacity="0.380" filter="url(#b1)"/>
<rect x="709.05" y="845.5" width="26.5" height="6.2" rx="1" fill="#000" opacity="0.070" filter="url(#b1)"/>
<rect x="736.75" y="800.5" width="28.5" height="68" rx="0" fill="#000" opacity="0.035" filter="url(#b1)"/>
<rect x="740.31" y="809" width="21.38" height="2" rx="1" fill="#000" opacity="0.220" filter="url(#b1)"/>
<rect x="740.31" y="820.5" width="21.38" height="2" rx="1" fill="#000" opacity="0.170" filter="url(#b1)"/>
<rect x="739.6" y="832" width="22.8" height="2" rx="1" fill="#000" opacity="0.080" filter="url(#b1)"/>
<rect x="737.46" y="836.3" width="27.07" height="3" rx="1.5" fill="#000" opacity="0.300" filter="url(#b1)"/>
<path d="M736.75 845.5 L765.25 845.5 L765.25 853.25 A14.25 7.75 0 0 1 736.75 853.25 Z" fill="#000" opacity="0.380" filter="url(#b1)"/>
<rect x="737.75" y="845.5" width="26.5" height="6.2" rx="1" fill="#000" opacity="0.070" filter="url(#b1)"/>
<rect x="765.45" y="800.5" width="28.5" height="68" rx="0" fill="#000" opacity="0.035" filter="url(#b1)"/>
<rect x="769.01" y="809" width="21.38" height="2" rx="1" fill="#000" opacity="0.220" filter="url(#b1)"/>
<rect x="769.01" y="820.5" width="21.38" height="2" rx="1" fill="#000" opacity="0.170" filter="url(#b1)"/>
<rect x="768.3" y="832" width="22.8" height="2" rx="1" fill="#000" opacity="0.080" filter="url(#b1)"/>
<rect x="766.16" y="836.3" width="27.07" height="3" rx="1.5" fill="#000" opacity="0.300" filter="url(#b1)"/>
<path d="M765.45 845.5 L793.95 845.5 L793.95 853.25 A14.25 7.75 0 0 1 765.45 853.25 Z" fill="#000" opacity="0.380" filter="url(#b1)"/>
<rect x="766.45" y="845.5" width="26.5" height="6.2" rx="1" fill="#000" opacity="0.070" filter="url(#b1)"/>
<rect x="794.15" y="800.5" width="28.5" height="68" rx="0" fill="#000" opacity="0.035" filter="url(#b1)"/>
<rect x="797.71" y="809" width="21.38" height="2" rx="1" fill="#000" opacity="0.220" filter="url(#b1)"/>
<rect x="797.71" y="820.5" width="21.38" height="2" rx="1" fill="#000" opacity="0.170" filter="url(#b1)"/>
<rect x="797" y="832" width="22.8" height="2" rx="1" fill="#000" opacity="0.080" filter="url(#b1)"/>
<rect x="794.86" y="836.3" width="27.07" height="3" rx="1.5" fill="#000" opacity="0.300" filter="url(#b1)"/>
<path d="M794.15 845.5 L822.65 845.5 L822.65 853.25 A14.25 7.75 0 0 1 794.15 853.25 Z" fill="#000" opacity="0.380" filter="url(#b1)"/>
<rect x="795.15" y="845.5" width="26.5" height="6.2" rx="1" fill="#000" opacity="0.070" filter="url(#b1)"/>
<rect x="823.85" y="800.5" width="28.5" height="68" rx="0" fill="#000" opacity="0.035" filter="url(#b1)"/>
<rect x="827.41" y="809" width="21.38" height="2" rx="1" fill="#000" opacity="0.220" filter="url(#b1)"/>
<rect x="827.41" y="820.5" width="21.38" height="2" rx="1" fill="#000" opacity="0.170" filter="url(#b1)"/>
<rect x="826.7" y="832" width="22.8" height="2" rx="1" fill="#000" opacity="0.080" filter="url(#b1)"/>
<rect x="824.56" y="836.3" width="27.07" height="3" rx="1.5" fill="#000" opacity="0.300" filter="url(#b1)"/>
<path d="M823.85 845.5 L852.35 845.5 L852.35 853.25 A14.25 7.75 0 0 1 823.85 853.25 Z" fill="#000" opacity="0.380" filter="url(#b1)"/>
<rect x="824.85" y="845.5" width="26.5" height="6.2" rx="1" fill="#000" opacity="0.070" filter="url(#b1)"/>
<rect x="852.55" y="800.5" width="28.5" height="68" rx="0" fill="#000" opacity="0.035" filter="url(#b1)"/>
<rect x="856.11" y="809" width="21.38" height="2" rx="1" fill="#000" opacity="0.220" filter="url(#b1)"/>
<rect x="856.11" y="820.5" width="21.38" height="2" rx="1" fill="#000" opacity="0.170" filter="url(#b1)"/>
<rect x="855.4" y="832" width="22.8" height="2" rx="1" fill="#000" opacity="0.080" filter="url(#b1)"/>
<rect x="853.26" y="836.3" width="27.07" height="3" rx="1.5" fill="#000" opacity="0.300" filter="url(#b1)"/>
<path d="M852.55 845.5 L881.05 845.5 L881.05 853.25 A14.25 7.75 0 0 1 852.55 853.25 Z" fill="#000" opacity="0.380" filter="url(#b1)"/>
<rect x="853.55" y="845.5" width="26.5" height="6.2" rx="1" fill="#000" opacity="0.070" filter="url(#b1)"/>
<rect x="882.25" y="800.5" width="28.5" height="68" rx="0" fill="#000" opacity="0.035" filter="url(#b1)"/>
<rect x="885.81" y="809" width="21.38" height="2" rx="1" fill="#000" opacity="0.220" filter="url(#b1)"/>
<rect x="885.81" y="820.5" width="21.38" height="2" rx="1" fill="#000" opacity="0.170" filter="url(#b1)"/>
<rect x="885.1" y="832" width="22.8" height="2" rx="1" fill="#000" opacity="0.080" filter="url(#b1)"/>
<rect x="882.96" y="836.3" width="27.07" height="3" rx="1.5" fill="#000" opacity="0.300" filter="url(#b1)"/>
<path d="M882.25 845.5 L910.75 845.5 L910.75 853.25 A14.25 7.75 0 0 1 882.25 853.25 Z" fill="#000" opacity="0.380" filter="url(#b1)"/>
<rect x="883.25" y="845.5" width="26.5" height="6.2" rx="1" fill="#000" opacity="0.070" filter="url(#b1)"/>
</g>
<text transform="translate(8.86 36.1) scale(1.0000 1.0450)" font-size="41.729" font-family="Liberation Sans, Arial, sans-serif" font-weight="bold" fill="#000">A</text>
<text transform="translate(489.48 34.1) scale(1.0000 0.9729)" font-size="42.131" font-family="Liberation Sans, Arial, sans-serif" font-weight="bold" fill="#000">B</text>
<text transform="translate(1004.66 34.19) scale(1.0000 0.9669)" font-size="42.508" font-family="Liberation Sans, Arial, sans-serif" font-weight="bold" fill="#000">C</text>
<text transform="translate(1479.88 34.1) scale(1.0000 0.9739)" font-size="42.088" font-family="Liberation Sans, Arial, sans-serif" font-weight="bold" fill="#000">D</text>
<text transform="translate(31.89 636.6) scale(1.0000 1.0409)" font-size="41.889" font-family="Liberation Sans, Arial, sans-serif" font-weight="bold" fill="#000">E</text>
<text transform="translate(555.03 636.6) scale(1.0000 0.9826)" font-size="44.379" font-family="Liberation Sans, Arial, sans-serif" font-weight="bold" fill="#000">F</text>
<text transform="translate(998.48 637.18) scale(1.0000 1.0107)" font-size="41.926" font-family="Liberation Sans, Arial, sans-serif" font-weight="bold" fill="#000">G</text>
<text transform="translate(31.33 1438.8) scale(1.0000 0.9431)" font-size="44.388" font-family="Liberation Sans, Arial, sans-serif" font-weight="bold" fill="#000">H</text>
<text transform="translate(684.03 1452.5) scale(1.0000 0.7339)" font-size="56.250" font-family="Liberation Sans, Arial, sans-serif" font-weight="bold" fill="#000">I</text>
<text transform="translate(566.7 30.41) scale(1.0000 0.9844)" font-size="29.299" font-family="Liberation Sans, Arial, sans-serif" fill="#000">Male</text>
<text transform="translate(717.19 30.41) scale(1.0000 0.9833)" font-size="29.333" font-family="Liberation Sans, Arial, sans-serif" fill="#000">Female</text>
<rect x="501.8" y="38.1" width="167.3" height="4.6" fill="#000" />
<rect x="679" y="38.1" width="164.8" height="4.6" fill="#000" />
<text transform="translate(528.39 76.9) scale(1.0000 0.8691)" font-size="34.286" font-family="Liberation Sans, Arial, sans-serif" fill="#000">-</text>
<text transform="translate(580.35 76.9) scale(1.0000 0.9637)" font-size="30.921" font-family="Liberation Sans, Arial, sans-serif" fill="#000">2</text>
<text transform="translate(628.6 76.9) scale(1.0000 0.9920)" font-size="30.040" font-family="Liberation Sans, Arial, sans-serif" fill="#000">2+i</text>
<text transform="translate(707.88 76.9) scale(1.0000 0.9242)" font-size="32.245" font-family="Liberation Sans, Arial, sans-serif" fill="#000">-</text>
<text transform="translate(753.63 76.9) scale(1.0000 0.9502)" font-size="31.360" font-family="Liberation Sans, Arial, sans-serif" fill="#000">2</text>
<text transform="translate(793.69 76.9) scale(1.0000 0.9841)" font-size="30.281" font-family="Liberation Sans, Arial, sans-serif" fill="#000">2+i</text>
<text transform="translate(850.87 76.9) scale(1.0000 1.0199)" font-size="29.218" font-family="Liberation Sans, Arial, sans-serif" fill="#000">+</text>
<text x="908.82" y="85.9" font-size="21.656" font-family="Liberation Sans, Arial, sans-serif" fill="#000">Pro MMP-9</text>
<text x="909.25" y="111.4" font-size="21.748" font-family="Liberation Sans, Arial, sans-serif" fill="#000">(105 kDa)</text>
<text x="911.16" y="135.7" font-size="21.890" font-family="Liberation Sans, Arial, sans-serif" fill="#000">Active</text>
<text x="910.6" y="161.4" font-size="21.920" font-family="Liberation Sans, Arial, sans-serif" fill="#000">MMP-9</text>
<text x="910.54" y="187.1" font-size="21.905" font-family="Liberation Sans, Arial, sans-serif" fill="#000">(95kDa)</text>
<text x="910.69" y="207.9" font-size="23.085" font-family="Liberation Sans, Arial, sans-serif" fill="#000">Total</text>
<text x="910.1" y="233.1" font-size="21.946" font-family="Liberation Sans, Arial, sans-serif" fill="#000">Protein</text>
<path d="M892.6 96.1 L877.3 104.7 L892.6 113.3 M877.3 104.7 L902 104.7" fill="none" stroke="#000" stroke-width="3" stroke-linecap="butt" stroke-linejoin="miter"/>
<path d="M892.6 112.7 L877.3 121.3 L892.6 129.9 M877.3 121.3 L902 121.3" fill="none" stroke="#000" stroke-width="3" stroke-linecap="butt" stroke-linejoin="miter"/>
<path d="M891.6 187.9 L876.3 196.5 L891.6 205.1 M876.3 196.5 L900.6 196.5" fill="none" stroke="#000" stroke-width="3" stroke-linecap="butt" stroke-linejoin="miter"/>
<text transform="translate(1086.39 30.41) scale(1.0000 0.9812)" font-size="29.397" font-family="Liberation Sans, Arial, sans-serif" fill="#000">Male</text>
<text transform="translate(1237 30.41) scale(1.0000 0.9854)" font-size="29.271" font-family="Liberation Sans, Arial, sans-serif" fill="#000">Female</text>
<rect x="1024.5" y="38.1" width="167.3" height="4.6" fill="#000" />
<rect x="1201.3" y="38.1" width="155.2" height="4.6" fill="#000" />
<text transform="translate(1053.77 76.8) scale(1.0000 0.8465)" font-size="34.694" font-family="Liberation Sans, Arial, sans-serif" fill="#000">-</text>
<text transform="translate(1105.24 76.8) scale(1.0000 0.9431)" font-size="31.140" font-family="Liberation Sans, Arial, sans-serif" fill="#000">2</text>
<text transform="translate(1149.88 76.8) scale(1.0000 0.9673)" font-size="30.361" font-family="Liberation Sans, Arial, sans-serif" fill="#000">2+i</text>
<text transform="translate(1219.33 76.8) scale(1.0000 0.8775)" font-size="33.469" font-family="Liberation Sans, Arial, sans-serif" fill="#000">-</text>
<text transform="translate(1271.99 76.8) scale(1.0000 0.9111)" font-size="32.237" font-family="Liberation Sans, Arial, sans-serif" fill="#000">2</text>
<text transform="translate(1316.42 76.8) scale(1.0000 0.9936)" font-size="29.558" font-family="Liberation Sans, Arial, sans-serif" fill="#000">2+i</text>
<text transform="translate(1370.58 76.8) scale(1.0000 1.0123)" font-size="29.012" font-family="Liberation Sans, Arial, sans-serif" fill="#000">+</text>
<text x="1429.44" y="118.4" font-size="20.705" font-family="Liberation Sans, Arial, sans-serif" fill="#000">Ym1</text>
<text x="1428.54" y="142.3" font-size="21.860" font-family="Liberation Sans, Arial, sans-serif" fill="#000">(45 kDa)</text>
<text x="1426.8" y="192.5" font-size="22.887" font-family="Liberation Sans, Arial, sans-serif" fill="#000">Total</text>
<text x="1425.48" y="218.3" font-size="22.145" font-family="Liberation Sans, Arial, sans-serif" fill="#000">Protein</text>
<path d="M1414.8 99.5 L1399.5 108.1 L1414.8 116.7 M1399.5 108.1 L1423.4 108.1" fill="none" stroke="#000" stroke-width="3" stroke-linecap="butt" stroke-linejoin="miter"/>
<path d="M1410.6 183.2 L1395.3 191.8 L1410.6 200.4 M1395.3 191.8 L1419 191.8" fill="none" stroke="#000" stroke-width="3" stroke-linecap="butt" stroke-linejoin="miter"/>
<text transform="translate(1579.25 30.41) scale(1.0000 0.9667)" font-size="29.838" font-family="Liberation Sans, Arial, sans-serif" fill="#000">Male</text>
<text transform="translate(1730.38 30.41) scale(1.0000 0.9761)" font-size="29.551" font-family="Liberation Sans, Arial, sans-serif" fill="#000">Female</text>
<rect x="1529.2" y="38.1" width="155.2" height="4.6" fill="#000" />
<rect x="1695.9" y="38.1" width="155" height="4.6" fill="#000" />
<text transform="translate(1552.33 76.2) scale(1.0000 0.8647)" font-size="33.469" font-family="Liberation Sans, Arial, sans-serif" fill="#000">-</text>
<text transform="translate(1603.5 76.2) scale(1.0000 0.8514)" font-size="33.991" font-family="Liberation Sans, Arial, sans-serif" fill="#000">2</text>
<text transform="translate(1644.39 76.2) scale(1.0000 0.9557)" font-size="30.281" font-family="Liberation Sans, Arial, sans-serif" fill="#000">2+i</text>
<text transform="translate(1721.23 76.2) scale(1.0000 0.8647)" font-size="33.469" font-family="Liberation Sans, Arial, sans-serif" fill="#000">-</text>
<text transform="translate(1768.52 76.2) scale(1.0000 0.8625)" font-size="33.553" font-family="Liberation Sans, Arial, sans-serif" fill="#000">2</text>
<text transform="translate(1814.06 76.2) scale(1.0000 0.9407)" font-size="30.763" font-family="Liberation Sans, Arial, sans-serif" fill="#000">2+i</text>
<text x="1901.9" y="92.9" font-size="21.471" font-family="Liberation Sans, Arial, sans-serif" fill="#000">CD206</text>
<text x="1901.64" y="117.5" font-size="21.912" font-family="Liberation Sans, Arial, sans-serif" fill="#000">(190 kDa)</text>
<text x="1901.22" y="143.5" font-size="21.665" font-family="Liberation Sans, Arial, sans-serif" fill="#000">Fragment</text>
<text x="1901.64" y="168.1" font-size="21.887" font-family="Liberation Sans, Arial, sans-serif" fill="#000">(75 kDa)</text>
<text x="1900.4" y="195.4" font-size="22.936" font-family="Liberation Sans, Arial, sans-serif" fill="#000">Total</text>
<text x="1899.11" y="220" font-size="21.880" font-family="Liberation Sans, Arial, sans-serif" fill="#000">Protein</text>
<path d="M1884.9 86.5 L1869.6 95.1 L1884.9 103.7 M1869.6 95.1 L1894 95.1" fill="none" stroke="#000" stroke-width="3" stroke-linecap="butt" stroke-linejoin="miter"/>
<path d="M1883.8 133 L1868.5 141.6 L1883.8 150.2 M1868.5 141.6 L1893 141.6" fill="none" stroke="#000" stroke-width="3" stroke-linecap="butt" stroke-linejoin="miter"/>
<path d="M1883.8 181.9 L1868.5 190.5 L1883.8 199.1 M1868.5 190.5 L1892.7 190.5" fill="none" stroke="#000" stroke-width="3" stroke-linecap="butt" stroke-linejoin="miter"/>
<text transform="translate(94.57 670.12) scale(1.0000 0.9547)" font-size="29.642" font-family="Liberation Sans, Arial, sans-serif" fill="#000">Male</text>
<text transform="translate(260.38 670.12) scale(1.0000 0.9576)" font-size="29.551" font-family="Liberation Sans, Arial, sans-serif" fill="#000">Female</text>
<rect x="36.9" y="677.8" width="167.7" height="4.6" fill="#000" />
<rect x="216.8" y="677.8" width="164.4" height="4.6" fill="#000" />
<text transform="translate(61.71 716.2) scale(1.0000 0.8923)" font-size="33.878" font-family="Liberation Sans, Arial, sans-serif" fill="#000">-</text>
<text transform="translate(113.38 716.2) scale(1.0000 0.9917)" font-size="30.482" font-family="Liberation Sans, Arial, sans-serif" fill="#000">2</text>
<text transform="translate(164.76 716.2) scale(1.0000 0.9826)" font-size="30.763" font-family="Liberation Sans, Arial, sans-serif" fill="#000">2+i</text>
<text transform="translate(244.41 716.2) scale(1.0000 0.8923)" font-size="33.878" font-family="Liberation Sans, Arial, sans-serif" fill="#000">-</text>
<text transform="translate(293.69 716.2) scale(1.0000 0.9377)" font-size="32.237" font-family="Liberation Sans, Arial, sans-serif" fill="#000">2</text>
<text transform="translate(334 716.2) scale(1.0000 1.0063)" font-size="30.040" font-family="Liberation Sans, Arial, sans-serif" fill="#000">2+i</text>
<text transform="translate(395.46 716.2) scale(1.0000 0.9602)" font-size="31.481" font-family="Liberation Sans, Arial, sans-serif" fill="#000">+</text>
<text x="452.61" y="770.8" font-size="22.684" font-family="Liberation Sans, Arial, sans-serif" fill="#000">IL-6</text>
<text x="453.35" y="795.7" font-size="21.789" font-family="Liberation Sans, Arial, sans-serif" fill="#000">(75kDa)</text>
<text x="452.8" y="835.4" font-size="22.590" font-family="Liberation Sans, Arial, sans-serif" fill="#000">Total</text>
<text x="451.52" y="860.3" font-size="21.748" font-family="Liberation Sans, Arial, sans-serif" fill="#000">Protein</text>
<path d="M436.3 761.1 L421 769.7 L436.3 778.3 M421 769.7 L445 769.7" fill="none" stroke="#000" stroke-width="3" stroke-linecap="butt" stroke-linejoin="miter"/>
<path d="M434.9 802.4 L419.6 811 L434.9 819.6 M419.6 811 L443.6 811" fill="none" stroke="#000" stroke-width="3" stroke-linecap="butt" stroke-linejoin="miter"/>
<text transform="translate(638 670.12) scale(1.0000 0.9659)" font-size="29.299" font-family="Liberation Sans, Arial, sans-serif" fill="#000">Male</text>
<text transform="translate(788.49 670.12) scale(1.0000 0.9627)" font-size="29.395" font-family="Liberation Sans, Arial, sans-serif" fill="#000">Female</text>
<rect x="573.3" y="677.8" width="167.1" height="4.6" fill="#000" />
<rect x="752.9" y="677.8" width="164.1" height="4.6" fill="#000" />
<text transform="translate(599.99 716.2) scale(1.0000 0.8817)" font-size="34.286" font-family="Liberation Sans, Arial, sans-serif" fill="#000">-</text>
<text transform="translate(650.63 716.2) scale(1.0000 0.9069)" font-size="33.333" font-family="Liberation Sans, Arial, sans-serif" fill="#000">2</text>
<text transform="translate(699.89 716.2)" font-size="30.281" font-family="Liberation Sans, Arial, sans-serif" fill="#000">2+i</text>
<text transform="translate(779.15 716.2) scale(1.0000 0.9143)" font-size="33.061" font-family="Liberation Sans, Arial, sans-serif" fill="#000">-</text>
<text transform="translate(825.29 716.2) scale(1.0000 0.9377)" font-size="32.237" font-family="Liberation Sans, Arial, sans-serif" fill="#000">2</text>
<text transform="translate(865.07 716.2) scale(1.0000 0.9904)" font-size="30.522" font-family="Liberation Sans, Arial, sans-serif" fill="#000">2+i</text>
<text transform="translate(923.43 716.2) scale(1.0000 1.0803)" font-size="27.984" font-family="Liberation Sans, Arial, sans-serif" fill="#000">+</text>
<text x="975.76" y="763.8" font-size="21.348" font-family="Liberation Sans, Arial, sans-serif" fill="#000">ApoC4</text>
<text x="974.43" y="787.4" font-size="22.051" font-family="Liberation Sans, Arial, sans-serif" fill="#000">(25kDa)</text>
<text x="973.39" y="835.4" font-size="23.282" font-family="Liberation Sans, Arial, sans-serif" fill="#000">Total</text>
<text x="972.09" y="860.3" font-size="22.013" font-family="Liberation Sans, Arial, sans-serif" fill="#000">Protein</text>
<path d="M958.3 753.3 L943 761.9 L958.3 770.5 M943 761.9 L966.1 761.9" fill="none" stroke="#000" stroke-width="3" stroke-linecap="butt" stroke-linejoin="miter"/>
<path d="M956.1 802.4 L940.8 811 L956.1 819.6 M940.8 811 L964.2 811" fill="none" stroke="#000" stroke-width="3" stroke-linecap="butt" stroke-linejoin="miter"/>
<clipPath id="mc1"><rect x="1205.1" y="660.8" width="249.8" height="175.7"/></clipPath>
<g clip-path="url(#mc1)">
<rect x="1205.1" y="660.8" width="249.8" height="175.7" fill="#f4f1f8" />
<ellipse cx="1340" cy="740" rx="50" ry="60" fill="#c8c0e0" fill-opacity="0.4" filter="url(#cb3)"/>
<g filter="url(#cb1)">
<ellipse cx="1345.5" cy="741.2" rx="18" ry="18" fill="#7c82c8" fill-opacity="0.6"/>
<ellipse cx="1345.5" cy="741.2" rx="16.5" ry="16.5" fill="none" stroke="#a06868" stroke-opacity="0.25" stroke-width="3"/>
<ellipse cx="1345.5" cy="741.2" rx="12.6" ry="12.6" fill="#4c5ab0" fill-opacity="0.55"/>
<ellipse cx="1345.5" cy="741.2" rx="5.67" ry="5.67" fill="#2a3490" fill-opacity="0.35"/>
</g>
<g filter="url(#cb1)">
<ellipse cx="1372.5" cy="749" rx="14" ry="16" fill="#7c82c8" fill-opacity="0.6"/>
<ellipse cx="1372.5" cy="749" rx="12.5" ry="14.5" fill="none" stroke="#a06868" stroke-opacity="0.25" stroke-width="3"/>
<ellipse cx="1372.5" cy="749" rx="9.1" ry="10.4" fill="#4c5ab0" fill-opacity="0.55"/>
<ellipse cx="1372.5" cy="749" rx="4.09" ry="4.68" fill="#2a3490" fill-opacity="0.35"/>
</g>
<g filter="url(#cb1)">
<ellipse cx="1335.2" cy="773.4" rx="16" ry="15" fill="#7c82c8" fill-opacity="0.6"/>
<ellipse cx="1335.2" cy="773.4" rx="14.5" ry="13.5" fill="none" stroke="#a06868" stroke-opacity="0.25" stroke-width="3"/>
<ellipse cx="1335.2" cy="773.4" rx="11.2" ry="10.5" fill="#4c5ab0" fill-opacity="0.55"/>
<ellipse cx="1335.2" cy="773.4" rx="5.04" ry="4.73" fill="#2a3490" fill-opacity="0.35"/>
</g>
<g filter="url(#cb1)">
<ellipse cx="1299.1" cy="790.2" rx="17" ry="17" fill="#7c82c8" fill-opacity="0.6"/>
<ellipse cx="1299.1" cy="790.2" rx="15.5" ry="15.5" fill="none" stroke="#a06868" stroke-opacity="0.25" stroke-width="3"/>
<ellipse cx="1299.1" cy="788.2" rx="11.9" ry="11.9" fill="#4c5ab0" fill-opacity="0.55"/>
<ellipse cx="1299.1" cy="787.8" rx="5.35" ry="5.35" fill="#2a3490" fill-opacity="0.35"/>
</g>
<g filter="url(#cb1)">
<ellipse cx="1369.9" cy="714.2" rx="15" ry="16" fill="#6c70c0" fill-opacity="0.62"/>
<ellipse cx="1369.9" cy="714.2" rx="13.5" ry="14.5" fill="none" stroke="#9a5048" stroke-opacity="0.25" stroke-width="3"/>
<ellipse cx="1369.9" cy="714.2" rx="10.5" ry="11.2" fill="#2c3ca8" fill-opacity="0.8"/>
<ellipse cx="1369.9" cy="714.2" rx="4.73" ry="5.04" fill="#101c80" fill-opacity="0.45"/>
</g>
<g filter="url(#cb1)">
<ellipse cx="1327.4" cy="711.6" rx="15" ry="15" fill="#80588a" fill-opacity="0.75"/>
<ellipse cx="1327.4" cy="711.6" rx="13.5" ry="13.5" fill="none" stroke="#9a3020" stroke-opacity="0.7" stroke-width="3"/>
<ellipse cx="1329.4" cy="713.6" rx="9.75" ry="9.75" fill="#4a4aa0" fill-opacity="0.65"/>
<ellipse cx="1329.8" cy="714" rx="4.39" ry="4.39" fill="#302060" fill-opacity="0.4"/>
</g>
<g filter="url(#cb1)">
<ellipse cx="1346.7" cy="696.2" rx="15" ry="15" fill="#80588a" fill-opacity="0.75"/>
<ellipse cx="1346.7" cy="696.2" rx="13.5" ry="13.5" fill="none" stroke="#9a3020" stroke-opacity="0.7" stroke-width="3"/>
<ellipse cx="1346.7" cy="699.2" rx="9.75" ry="9.75" fill="#4a4aa0" fill-opacity="0.65"/>
<ellipse cx="1346.7" cy="699.8" rx="4.39" ry="4.39" fill="#302060" fill-opacity="0.4"/>
</g>
<polygon points="1265.69,691.01 1294.66,700.17 1291.79,709.23 1319.7,703.9 1299.93,683.49 1297.07,692.55 1268.11,683.39" fill="#4a2270"/>
<polygon points="1411,670.55 1382.91,681.08 1379.57,672.19 1360.9,693.6 1389.05,697.47 1385.71,688.57 1413.8,678.05" fill="#4a2270"/>
</g>
<rect x="1205.1" y="660.8" width="249.8" height="175.7" fill="none" stroke="#000" stroke-width="2.2"/>
<clipPath id="mc2"><rect x="1490.6" y="660.8" width="254.5" height="174.7"/></clipPath>
<g clip-path="url(#mc2)">
<rect x="1490.6" y="660.8" width="254.5" height="174.7" fill="#f8f3f6" />
<g filter="url(#cb1)">
<ellipse cx="1521.7" cy="706.9" rx="19" ry="17" fill="#80588a" fill-opacity="0.75"/>
<ellipse cx="1521.7" cy="706.9" rx="17.5" ry="15.5" fill="none" stroke="#9a3020" stroke-opacity="0.7" stroke-width="3"/>
<ellipse cx="1524.7" cy="708.9" rx="11.4" ry="10.2" fill="#4a4aa0" fill-opacity="0.65"/>
<ellipse cx="1525.3" cy="709.3" rx="5.13" ry="4.59" fill="#302060" fill-opacity="0.4"/>
</g>
<g filter="url(#cb1)">
<ellipse cx="1632" cy="690" rx="17.5" ry="17.9" fill="#80588a" fill-opacity="0.75"/>
<ellipse cx="1632" cy="690" rx="16" ry="16.4" fill="none" stroke="#9a3020" stroke-opacity="0.7" stroke-width="3"/>
<ellipse cx="1632" cy="690" rx="10.5" ry="10.74" fill="#4a4aa0" fill-opacity="0.65"/>
<ellipse cx="1632" cy="690" rx="4.73" ry="4.83" fill="#302060" fill-opacity="0.4"/>
</g>
<g filter="url(#cb1)">
<ellipse cx="1667.6" cy="686.1" rx="16.6" ry="17.9" fill="#a03818" fill-opacity="0.92"/>
<ellipse cx="1667.6" cy="686.1" rx="15.1" ry="16.4" fill="none" stroke="#8a2410" stroke-opacity="0.85" stroke-width="3"/>
<ellipse cx="1667.6" cy="686.1" rx="9.13" ry="9.85" fill="#6a3050" fill-opacity="0.5"/>
<ellipse cx="1667.6" cy="686.1" rx="4.11" ry="4.43" fill="#401020" fill-opacity="0.45"/>
</g>
<g filter="url(#cb1)">
<ellipse cx="1681.3" cy="730.2" rx="19" ry="15.3" fill="#80588a" fill-opacity="0.75"/>
<ellipse cx="1681.3" cy="730.2" rx="17.5" ry="13.8" fill="none" stroke="#9a3020" stroke-opacity="0.7" stroke-width="3"/>
<ellipse cx="1683.3" cy="728.2" rx="11.4" ry="9.18" fill="#4a4aa0" fill-opacity="0.65"/>
<ellipse cx="1683.7" cy="727.8" rx="5.13" ry="4.13" fill="#302060" fill-opacity="0.4"/>
</g>
<g filter="url(#cb1)">
<ellipse cx="1556.7" cy="793.8" rx="16.2" ry="16.6" fill="#80588a" fill-opacity="0.75"/>
<ellipse cx="1556.7" cy="793.8" rx="14.7" ry="15.1" fill="none" stroke="#9a3020" stroke-opacity="0.7" stroke-width="3"/>
<ellipse cx="1556.7" cy="792.8" rx="9.72" ry="9.96" fill="#4a4aa0" fill-opacity="0.65"/>
<ellipse cx="1556.7" cy="792.6" rx="4.37" ry="4.48" fill="#302060" fill-opacity="0.4"/>
</g>
<g filter="url(#cb1)">
<ellipse cx="1630.7" cy="815.8" rx="19.5" ry="19.2" fill="#a03818" fill-opacity="0.92"/>
<ellipse cx="1630.7" cy="815.8" rx="18" ry="17.7" fill="none" stroke="#8a2410" stroke-opacity="0.85" stroke-width="3"/>
<ellipse cx="1630.7" cy="818.8" rx="10.73" ry="10.56" fill="#6a3050" fill-opacity="0.5"/>
<ellipse cx="1630.7" cy="819.4" rx="4.83" ry="4.75" fill="#401020" fill-opacity="0.45"/>
</g>
<polygon points="1568.17,668.2 1542.67,678.75 1539.04,669.97 1521.1,692 1549.36,694.92 1545.73,686.14 1571.23,675.6" fill="#4a2270"/>
<polygon points="1656.69,747.41 1658.67,721.73 1668.14,722.46 1656.6,696.5 1641.22,720.39 1650.69,721.12 1648.71,746.79" fill="#52f01e"/>
<polygon points="1616.17,759 1590.67,769.55 1587.04,760.77 1569.1,782.8 1597.36,785.72 1593.73,776.94 1619.23,766.4" fill="#4a2270"/>
<polygon points="1692.95,813.85 1666.33,818.21 1664.79,808.84 1642.3,826.2 1669.15,835.48 1667.62,826.11 1694.25,821.75" fill="#52f01e"/>
</g>
<rect x="1490.6" y="660.8" width="254.5" height="174.7" fill="none" stroke="#000" stroke-width="2.2"/>
<clipPath id="mc3"><rect x="1779.5" y="660.7" width="250.6" height="175"/></clipPath>
<g clip-path="url(#mc3)">
<rect x="1779.5" y="660.7" width="250.6" height="175" fill="#f5f2f8" />
<ellipse cx="1875" cy="760" rx="40" ry="45" fill="#c8a8c0" fill-opacity="0.35" filter="url(#cb3)"/>
<ellipse cx="1880" cy="795" rx="12" ry="12" fill="#b06050" fill-opacity="0.35" filter="url(#cb3)"/>
<g filter="url(#cb1)">
<ellipse cx="1861.5" cy="708.4" rx="15.6" ry="16.9" fill="#6c70c0" fill-opacity="0.62"/>
<ellipse cx="1861.5" cy="708.4" rx="14.1" ry="15.4" fill="none" stroke="#9a5048" stroke-opacity="0.25" stroke-width="3"/>
<ellipse cx="1861.5" cy="708.4" rx="11.7" ry="12.67" fill="#2c3ca8" fill-opacity="0.8"/>
<ellipse cx="1861.5" cy="708.4" rx="5.26" ry="5.7" fill="#101c80" fill-opacity="0.45"/>
</g>
<g filter="url(#cb1)">
<ellipse cx="1842.4" cy="739" rx="16.9" ry="16.9" fill="#7070b8" fill-opacity="0.62"/>
<ellipse cx="1842.4" cy="739" rx="15.4" ry="15.4" fill="none" stroke="#9a3a28" stroke-opacity="0.5" stroke-width="3"/>
<ellipse cx="1844.4" cy="739" rx="12.17" ry="12.17" fill="#3040a8" fill-opacity="0.75"/>
<ellipse cx="1844.8" cy="739" rx="5.48" ry="5.48" fill="#101870" fill-opacity="0.45"/>
</g>
<g filter="url(#cb1)">
<ellipse cx="1881.9" cy="740.2" rx="20" ry="15.6" fill="#6c70c0" fill-opacity="0.62"/>
<ellipse cx="1881.9" cy="740.2" rx="18.5" ry="14.1" fill="none" stroke="#9a5048" stroke-opacity="0.25" stroke-width="3"/>
<ellipse cx="1881.9" cy="740.2" rx="14.4" ry="11.23" fill="#2c3ca8" fill-opacity="0.8"/>
<ellipse cx="1881.9" cy="740.2" rx="6.48" ry="5.05" fill="#101c80" fill-opacity="0.45"/>
</g>
<g filter="url(#cb1)">
<ellipse cx="1889.5" cy="773.3" rx="15.6" ry="13.7" fill="#6c70c0" fill-opacity="0.62"/>
<ellipse cx="1889.5" cy="773.3" rx="14.1" ry="12.2" fill="none" stroke="#9a5048" stroke-opacity="0.25" stroke-width="3"/>
<ellipse cx="1889.5" cy="773.3" rx="11.7" ry="10.27" fill="#2c3ca8" fill-opacity="0.8"/>
<ellipse cx="1889.5" cy="773.3" rx="5.26" ry="4.62" fill="#101c80" fill-opacity="0.45"/>
</g>
<g filter="url(#cb1)" transform="rotate(-35 1926.4 784.8)">
<ellipse cx="1926.4" cy="784.8" rx="14" ry="18" fill="#6c70c0" fill-opacity="0.62"/>
<ellipse cx="1926.4" cy="784.8" rx="12.5" ry="16.5" fill="none" stroke="#9a5048" stroke-opacity="0.25" stroke-width="3"/>
<ellipse cx="1926.4" cy="784.8" rx="10.08" ry="12.96" fill="#2c3ca8" fill-opacity="0.8"/>
<ellipse cx="1926.4" cy="784.8" rx="4.54" ry="5.83" fill="#101c80" fill-opacity="0.45"/>
</g>
<polygon points="1789.83,775.14 1817.98,764.37 1821.37,773.24 1839.9,751.7 1811.73,748.02 1815.12,756.9 1786.97,767.66" fill="#4a2270"/>
<polygon points="1949.16,745.17 1922.83,750.14 1921.06,740.8 1899,758.7 1926.07,767.33 1924.31,758 1950.64,753.03" fill="#4a2270"/>
</g>
<rect x="1779.5" y="660.7" width="250.6" height="175" fill="none" stroke="#000" stroke-width="2.2"/>
<clipPath id="mc4"><rect x="1205.8" y="853.1" width="250.6" height="175.1"/></clipPath>
<g clip-path="url(#mc4)">
<rect x="1205.8" y="853.1" width="250.6" height="175.1" fill="#f6f4f8" />
<ellipse cx="1240" cy="965" rx="35" ry="40" fill="#c0c0e0" fill-opacity="0.35" filter="url(#cb3)"/>
<g filter="url(#cb1)">
<ellipse cx="1230.9" cy="948.4" rx="15" ry="14" fill="#6c70c0" fill-opacity="0.62"/>
<ellipse cx="1230.9" cy="948.4" rx="13.5" ry="12.5" fill="none" stroke="#9a5048" stroke-opacity="0.25" stroke-width="3"/>
<ellipse cx="1230.9" cy="948.4" rx="11.25" ry="10.5" fill="#2c3ca8" fill-opacity="0.8"/>
<ellipse cx="1230.9" cy="948.4" rx="5.06" ry="4.73" fill="#101c80" fill-opacity="0.45"/>
</g>
<g filter="url(#cb1)">
<ellipse cx="1242.5" cy="956" rx="13" ry="13" fill="#6c70c0" fill-opacity="0.62"/>
<ellipse cx="1242.5" cy="956" rx="11.5" ry="11.5" fill="none" stroke="#9a5048" stroke-opacity="0.25" stroke-width="3"/>
<ellipse cx="1242.5" cy="956" rx="9.1" ry="9.1" fill="#2c3ca8" fill-opacity="0.8"/>
<ellipse cx="1242.5" cy="956" rx="4.09" ry="4.09" fill="#101c80" fill-opacity="0.45"/>
</g>
<g filter="url(#cb1)">
<ellipse cx="1225.7" cy="976.7" rx="16" ry="16" fill="#6c70c0" fill-opacity="0.62"/>
<ellipse cx="1225.7" cy="976.7" rx="14.5" ry="14.5" fill="none" stroke="#9a5048" stroke-opacity="0.25" stroke-width="3"/>
<ellipse cx="1225.7" cy="976.7" rx="12" ry="12" fill="#2c3ca8" fill-opacity="0.8"/>
<ellipse cx="1225.7" cy="976.7" rx="5.4" ry="5.4" fill="#101c80" fill-opacity="0.45"/>
</g>
<g filter="url(#cb1)">
<ellipse cx="1254.1" cy="967.7" rx="14" ry="14" fill="#6c70c0" fill-opacity="0.62"/>
<ellipse cx="1254.1" cy="967.7" rx="12.5" ry="12.5" fill="none" stroke="#9a5048" stroke-opacity="0.25" stroke-width="3"/>
<ellipse cx="1255.1" cy="968.7" rx="10.5" ry="10.5" fill="#2c3ca8" fill-opacity="0.8"/>
<ellipse cx="1255.3" cy="968.9" rx="4.73" ry="4.73" fill="#101c80" fill-opacity="0.45"/>
</g>
<g filter="url(#cb1)">
<ellipse cx="1292.7" cy="966.4" rx="16.4" ry="16.4" fill="#7070b8" fill-opacity="0.62"/>
<ellipse cx="1292.7" cy="966.4" rx="14.9" ry="14.9" fill="none" stroke="#9a3a28" stroke-opacity="0.5" stroke-width="3"/>
<ellipse cx="1292.7" cy="966.4" rx="11.48" ry="11.48" fill="#3040a8" fill-opacity="0.75"/>
<ellipse cx="1292.7" cy="966.4" rx="5.17" ry="5.17" fill="#101870" fill-opacity="0.45"/>
</g>
<g filter="url(#cb1)">
<ellipse cx="1434.9" cy="912.4" rx="17" ry="14.8" fill="#80588a" fill-opacity="0.75"/>
<ellipse cx="1434.9" cy="912.4" rx="15.5" ry="13.3" fill="none" stroke="#9a3020" stroke-opacity="0.7" stroke-width="3"/>
<ellipse cx="1434.9" cy="912.4" rx="11.05" ry="9.62" fill="#4a4aa0" fill-opacity="0.65"/>
<ellipse cx="1434.9" cy="912.4" rx="4.97" ry="4.33" fill="#302060" fill-opacity="0.4"/>
</g>
</g>
<rect x="1205.8" y="853.1" width="250.6" height="175.1" fill="none" stroke="#000" stroke-width="2.2"/>
<clipPath id="mc5"><rect x="1494.2" y="853.2" width="251.3" height="175.1"/></clipPath>
<g clip-path="url(#mc5)">
<rect x="1494.2" y="853.2" width="251.3" height="175.1" fill="#f7f3f7" />
<ellipse cx="1525" cy="1012" rx="5" ry="5" fill="#7a1808" fill-opacity="0.9" filter="url(#cb1)"/>
<g filter="url(#cb1)">
<ellipse cx="1669.6" cy="875.2" rx="20.5" ry="18.5" fill="#6c70c0" fill-opacity="0.62"/>
<ellipse cx="1669.6" cy="875.2" rx="19" ry="17" fill="none" stroke="#9a5048" stroke-opacity="0.25" stroke-width="3"/>
<ellipse cx="1672.6" cy="875.2" rx="14.35" ry="12.95" fill="#2c3ca8" fill-opacity="0.8"/>
<ellipse cx="1673.2" cy="875.2" rx="6.46" ry="5.83" fill="#101c80" fill-opacity="0.45"/>
</g>
<g filter="url(#cb1)">
<ellipse cx="1716.9" cy="881.7" rx="20" ry="17.2" fill="#6c70c0" fill-opacity="0.62"/>
<ellipse cx="1716.9" cy="881.7" rx="18.5" ry="15.7" fill="none" stroke="#9a5048" stroke-opacity="0.25" stroke-width="3"/>
<ellipse cx="1718.9" cy="881.7" rx="14" ry="12.04" fill="#2c3ca8" fill-opacity="0.8"/>
<ellipse cx="1719.3" cy="881.7" rx="6.3" ry="5.42" fill="#101c80" fill-opacity="0.45"/>
</g>
<g filter="url(#cb1)">
<ellipse cx="1520.4" cy="932.3" rx="16.6" ry="19.8" fill="#6c70c0" fill-opacity="0.62"/>
<ellipse cx="1520.4" cy="932.3" rx="15.1" ry="18.3" fill="none" stroke="#9a5048" stroke-opacity="0.25" stroke-width="3"/>
<ellipse cx="1520.4" cy="932.3" rx="12.45" ry="14.85" fill="#2c3ca8" fill-opacity="0.8"/>
<ellipse cx="1520.4" cy="932.3" rx="5.6" ry="6.68" fill="#101c80" fill-opacity="0.45"/>
</g>
<g filter="url(#cb1)">
<ellipse cx="1546.4" cy="923.2" rx="17" ry="18.5" fill="#7070b8" fill-opacity="0.62"/>
<ellipse cx="1546.4" cy="923.2" rx="15.5" ry="17" fill="none" stroke="#9a3a28" stroke-opacity="0.5" stroke-width="3"/>
<ellipse cx="1546.4" cy="923.2" rx="12.24" ry="13.32" fill="#3040a8" fill-opacity="0.75"/>
<ellipse cx="1546.4" cy="923.2" rx="5.51" ry="5.99" fill="#101870" fill-opacity="0.45"/>
</g>
<g filter="url(#cb1)">
<ellipse cx="1536" cy="954.4" rx="16" ry="16.6" fill="#6c70c0" fill-opacity="0.62"/>
<ellipse cx="1536" cy="954.4" rx="14.5" ry="15.1" fill="none" stroke="#9a5048" stroke-opacity="0.25" stroke-width="3"/>
<ellipse cx="1536" cy="954.4" rx="12.48" ry="12.95" fill="#2c3ca8" fill-opacity="0.8"/>
<ellipse cx="1536" cy="954.4" rx="5.62" ry="5.83" fill="#101c80" fill-opacity="0.45"/>
</g>
<g filter="url(#cb1)">
<ellipse cx="1524.3" cy="1001" rx="20.5" ry="20" fill="#7070b8" fill-opacity="0.62"/>
<ellipse cx="1524.3" cy="1001" rx="19" ry="18.5" fill="none" stroke="#9a3a28" stroke-opacity="0.5" stroke-width="3"/>
<ellipse cx="1524.3" cy="999" rx="14.35" ry="14" fill="#3040a8" fill-opacity="0.75"/>
<ellipse cx="1524.3" cy="998.6" rx="6.46" ry="6.3" fill="#101870" fill-opacity="0.45"/>
</g>
<polygon points="1505.33,865.58 1521.43,893.78 1513.18,898.49 1537.3,913.5 1536.62,885.1 1528.37,889.81 1512.27,861.62" fill="#4a2270"/>
<polygon points="1583.3,1008.1 1557.1,1008.1 1557.1,998.6 1532.1,1012.1 1557.1,1025.6 1557.1,1016.1 1583.3,1016.1" fill="#52f01e"/>
</g>
<rect x="1494.2" y="853.2" width="251.3" height="175.1" fill="none" stroke="#000" stroke-width="2.2"/>
<clipPath id="mc6"><rect x="1779.8" y="850.7" width="250.3" height="175"/></clipPath>
<g clip-path="url(#mc6)">
<rect x="1779.8" y="850.7" width="250.3" height="175" fill="#f7f2f6" />
<g filter="url(#cb1)">
<ellipse cx="1916.2" cy="890.8" rx="15.6" ry="15.6" fill="#80588a" fill-opacity="0.75"/>
<ellipse cx="1916.2" cy="890.8" rx="14.1" ry="14.1" fill="none" stroke="#9a3020" stroke-opacity="0.7" stroke-width="3"/>
<ellipse cx="1916.2" cy="890.8" rx="9.36" ry="9.36" fill="#4a4aa0" fill-opacity="0.65"/>
<ellipse cx="1916.2" cy="890.8" rx="4.21" ry="4.21" fill="#302060" fill-opacity="0.4"/>
</g>
<g filter="url(#cb1)">
<ellipse cx="1894" cy="934.1" rx="16.6" ry="14.4" fill="#80588a" fill-opacity="0.75"/>
<ellipse cx="1894" cy="934.1" rx="15.1" ry="12.9" fill="none" stroke="#9a3020" stroke-opacity="0.7" stroke-width="3"/>
<ellipse cx="1894" cy="934.1" rx="10.79" ry="9.36" fill="#4a4aa0" fill-opacity="0.65"/>
<ellipse cx="1894" cy="934.1" rx="4.86" ry="4.21" fill="#302060" fill-opacity="0.4"/>
</g>
<g filter="url(#cb1)">
<ellipse cx="1920" cy="948" rx="15" ry="15.6" fill="#80588a" fill-opacity="0.75"/>
<ellipse cx="1920" cy="948" rx="13.5" ry="14.1" fill="none" stroke="#9a3020" stroke-opacity="0.7" stroke-width="3"/>
<ellipse cx="1920" cy="946" rx="9" ry="9.36" fill="#4a4aa0" fill-opacity="0.65"/>
<ellipse cx="1920" cy="945.6" rx="4.05" ry="4.21" fill="#302060" fill-opacity="0.4"/>
</g>
<g filter="url(#cb1)">
<ellipse cx="1885.7" cy="960.8" rx="15" ry="16.3" fill="#6c70c0" fill-opacity="0.62"/>
<ellipse cx="1885.7" cy="960.8" rx="13.5" ry="14.8" fill="none" stroke="#9a5048" stroke-opacity="0.25" stroke-width="3"/>
<ellipse cx="1885.7" cy="960.8" rx="11.25" ry="12.23" fill="#2c3ca8" fill-opacity="0.8"/>
<ellipse cx="1885.7" cy="960.8" rx="5.06" ry="5.5" fill="#101c80" fill-opacity="0.45"/>
</g>
<g filter="url(#cb1)">
<ellipse cx="1917.5" cy="977.3" rx="18.2" ry="13" fill="#a03818" fill-opacity="0.92"/>
<ellipse cx="1917.5" cy="977.3" rx="16.7" ry="11.5" fill="none" stroke="#8a2410" stroke-opacity="0.85" stroke-width="3"/>
<ellipse cx="1920.5" cy="977.3" rx="10.92" ry="7.8" fill="#6a3050" fill-opacity="0.5"/>
<ellipse cx="1921.1" cy="977.3" rx="4.91" ry="3.51" fill="#401020" fill-opacity="0.45"/>
</g>
<g filter="url(#cb1)">
<ellipse cx="1832.3" cy="977.3" rx="16.6" ry="16.9" fill="#80588a" fill-opacity="0.75"/>
<ellipse cx="1832.3" cy="977.3" rx="15.1" ry="15.4" fill="none" stroke="#9a3020" stroke-opacity="0.7" stroke-width="3"/>
<ellipse cx="1832.3" cy="977.3" rx="10.79" ry="10.98" fill="#4a4aa0" fill-opacity="0.65"/>
<ellipse cx="1832.3" cy="977.3" rx="4.86" ry="4.94" fill="#302060" fill-opacity="0.4"/>
</g>
<polygon points="1976.05,867.75 1950.42,871.98 1948.87,862.61 1926.4,880 1953.26,889.25 1951.72,879.88 1977.35,875.65" fill="#4a2270"/>
<polygon points="1982.89,933.14 1953.01,950.49 1948.24,942.27 1933.4,966.5 1961.8,965.62 1957.03,957.41 1986.91,940.06" fill="#52f01e"/>
<polygon points="1900.96,1006.91 1871.95,990.58 1876.61,982.3 1848.2,981.8 1863.36,1005.83 1868.02,997.55 1897.04,1013.89" fill="#4a2270"/>
</g>
<rect x="1779.8" y="850.7" width="250.3" height="175" fill="none" stroke="#000" stroke-width="2.2"/>
<clipPath id="mc7"><rect x="1205.4" y="1066.5" width="250.1" height="175.1"/></clipPath>
<g clip-path="url(#mc7)">
<rect x="1205.4" y="1066.5" width="250.1" height="175.1" fill="#f6f0f3" />
<ellipse cx="1335" cy="1145" rx="50" ry="55" fill="#c8a8b8" fill-opacity="0.3" filter="url(#cb3)"/>
<g filter="url(#cb1)">
<ellipse cx="1295.2" cy="1190.7" rx="17" ry="19.7" fill="#9a7a9e" fill-opacity="0.72"/>
<ellipse cx="1295.2" cy="1190.7" rx="15.5" ry="18.2" fill="none" stroke="#a05040" stroke-opacity="0.45" stroke-width="3"/>
<ellipse cx="1295.2" cy="1190.7" rx="10.2" ry="11.82" fill="#7878b0" fill-opacity="0.5"/>
<ellipse cx="1295.2" cy="1190.7" rx="4.59" ry="5.32" fill="#6060a0" fill-opacity="0.2"/>
</g>
<g filter="url(#cb1)">
<ellipse cx="1330" cy="1175.3" rx="17" ry="16.4" fill="#9a7a9e" fill-opacity="0.72"/>
<ellipse cx="1330" cy="1175.3" rx="15.5" ry="14.9" fill="none" stroke="#a05040" stroke-opacity="0.45" stroke-width="3"/>
<ellipse cx="1330" cy="1175.3" rx="10.2" ry="9.84" fill="#7878b0" fill-opacity="0.5"/>
<ellipse cx="1330" cy="1175.3" rx="4.59" ry="4.43" fill="#6060a0" fill-opacity="0.2"/>
</g>
<g filter="url(#cb1)">
<ellipse cx="1363.5" cy="1157.3" rx="16.4" ry="19" fill="#aa8090" fill-opacity="0.72"/>
<ellipse cx="1363.5" cy="1157.3" rx="14.9" ry="17.5" fill="none" stroke="#9a4030" stroke-opacity="0.55" stroke-width="3"/>
<ellipse cx="1363.5" cy="1157.3" rx="9.84" ry="11.4" fill="#8070a8" fill-opacity="0.45"/>
<ellipse cx="1363.5" cy="1157.3" rx="4.43" ry="5.13" fill="#6060a0" fill-opacity="0.2"/>
</g>
<g filter="url(#cb1)">
<ellipse cx="1337.7" cy="1147" rx="17" ry="17" fill="#9a7a9e" fill-opacity="0.72"/>
<ellipse cx="1337.7" cy="1147" rx="15.5" ry="15.5" fill="none" stroke="#a05040" stroke-opacity="0.45" stroke-width="3"/>
<ellipse cx="1337.7" cy="1147" rx="10.2" ry="10.2" fill="#7878b0" fill-opacity="0.5"/>
<ellipse cx="1337.7" cy="1147" rx="4.59" ry="4.59" fill="#6060a0" fill-opacity="0.2"/>
</g>
<g filter="url(#cb1)">
<ellipse cx="1360.9" cy="1118.6" rx="14.2" ry="17.4" fill="#a03818" fill-opacity="0.92"/>
<ellipse cx="1360.9" cy="1118.6" rx="12.7" ry="15.9" fill="none" stroke="#8a2410" stroke-opacity="0.85" stroke-width="3"/>
<ellipse cx="1362.9" cy="1118.6" rx="7.1" ry="8.7" fill="#6a3050" fill-opacity="0.5"/>
<ellipse cx="1363.3" cy="1118.6" rx="3.19" ry="3.91" fill="#401020" fill-opacity="0.45"/>
</g>
<g filter="url(#cb1)">
<ellipse cx="1339.7" cy="1100.6" rx="13.9" ry="13.6" fill="#a03818" fill-opacity="0.92"/>
<ellipse cx="1339.7" cy="1100.6" rx="12.4" ry="12.1" fill="none" stroke="#8a2410" stroke-opacity="0.85" stroke-width="3"/>
<ellipse cx="1339.7" cy="1100.6" rx="6.95" ry="6.8" fill="#6a3050" fill-opacity="0.5"/>
<ellipse cx="1339.7" cy="1100.6" rx="3.13" ry="3.06" fill="#401020" fill-opacity="0.45"/>
</g>
<g filter="url(#cb1)">
<ellipse cx="1321.6" cy="1117.3" rx="16.8" ry="16.1" fill="#982c10" fill-opacity="0.96"/>
<ellipse cx="1321.6" cy="1117.3" rx="15.3" ry="14.6" fill="none" stroke="#7a1c08" stroke-opacity="0.9" stroke-width="3"/>
<ellipse cx="1319.6" cy="1119.3" rx="8.4" ry="8.05" fill="#502028" fill-opacity="0.55"/>
<ellipse cx="1319.2" cy="1119.7" rx="3.78" ry="3.62" fill="#200808" fill-opacity="0.55"/>
</g>
<polygon points="1275.8,1081.15 1302.58,1091.12 1299.26,1100.02 1327.4,1096.1 1308.69,1074.72 1305.37,1083.62 1278.6,1073.65" fill="#52f01e"/>
<polygon points="1259.98,1131.36 1287.3,1121.35 1290.57,1130.27 1309.4,1109 1281.28,1104.92 1284.55,1113.84 1257.22,1123.84" fill="#52f01e"/>
<polygon points="1428.54,1130.93 1399.99,1120.74 1403.18,1111.79 1375.1,1116.1 1394.11,1137.22 1397.3,1128.27 1425.86,1138.47" fill="#4a2270"/>
</g>
<rect x="1205.4" y="1066.5" width="250.1" height="175.1" fill="none" stroke="#000" stroke-width="2.2"/>
<clipPath id="mc8"><rect x="1493.8" y="1066.5" width="252.3" height="175.1"/></clipPath>
<g clip-path="url(#mc8)">
<rect x="1493.8" y="1066.5" width="252.3" height="175.1" fill="#f6eff2" />
<g filter="url(#cb1)">
<ellipse cx="1525.6" cy="1111.9" rx="18.8" ry="17.2" fill="#aa8090" fill-opacity="0.72"/>
<ellipse cx="1525.6" cy="1111.9" rx="17.3" ry="15.7" fill="none" stroke="#9a4030" stroke-opacity="0.55" stroke-width="3"/>
<ellipse cx="1527.6" cy="1111.9" rx="11.28" ry="10.32" fill="#8070a8" fill-opacity="0.45"/>
<ellipse cx="1528" cy="1111.9" rx="5.08" ry="4.64" fill="#6060a0" fill-opacity="0.2"/>
</g>
<g filter="url(#cb1)">
<ellipse cx="1635.9" cy="1095.1" rx="18.5" ry="16.2" fill="#a03818" fill-opacity="0.92"/>
<ellipse cx="1635.9" cy="1095.1" rx="17" ry="14.7" fill="none" stroke="#8a2410" stroke-opacity="0.85" stroke-width="3"/>
<ellipse cx="1635.9" cy="1095.1" rx="9.25" ry="8.1" fill="#6a3050" fill-opacity="0.5"/>
<ellipse cx="1635.9" cy="1095.1" rx="4.16" ry="3.65" fill="#401020" fill-opacity="0.45"/>
</g>
<g filter="url(#cb1)">
<ellipse cx="1669.6" cy="1091.2" rx="16.6" ry="17.9" fill="#982c10" fill-opacity="0.96"/>
<ellipse cx="1669.6" cy="1091.2" rx="15.1" ry="16.4" fill="none" stroke="#7a1c08" stroke-opacity="0.9" stroke-width="3"/>
<ellipse cx="1669.6" cy="1091.2" rx="7.47" ry="8.05" fill="#502028" fill-opacity="0.55"/>
<ellipse cx="1669.6" cy="1091.2" rx="3.36" ry="3.62" fill="#200808" fill-opacity="0.55"/>
</g>
<g filter="url(#cb1)">
<ellipse cx="1683.2" cy="1134.6" rx="19.2" ry="14.3" fill="#a03818" fill-opacity="0.92"/>
<ellipse cx="1683.2" cy="1134.6" rx="17.7" ry="12.8" fill="none" stroke="#8a2410" stroke-opacity="0.85" stroke-width="3"/>
<ellipse cx="1683.2" cy="1134.6" rx="9.6" ry="7.15" fill="#6a3050" fill-opacity="0.5"/>
<ellipse cx="1683.2" cy="1134.6" rx="4.32" ry="3.22" fill="#401020" fill-opacity="0.45"/>
</g>
<g filter="url(#cb1)">
<ellipse cx="1560.6" cy="1198.2" rx="16" ry="15.6" fill="#aa8090" fill-opacity="0.72"/>
<ellipse cx="1560.6" cy="1198.2" rx="14.5" ry="14.1" fill="none" stroke="#9a4030" stroke-opacity="0.55" stroke-width="3"/>
<ellipse cx="1560.6" cy="1198.2" rx="9.6" ry="9.36" fill="#8070a8" fill-opacity="0.45"/>
<ellipse cx="1560.6" cy="1198.2" rx="4.32" ry="4.21" fill="#6060a0" fill-opacity="0.2"/>
</g>
<g filter="url(#cb1)">
<ellipse cx="1633.3" cy="1218.9" rx="18.8" ry="17.5" fill="#9a7a9e" fill-opacity="0.72"/>
<ellipse cx="1633.3" cy="1218.9" rx="17.3" ry="16" fill="none" stroke="#a05040" stroke-opacity="0.45" stroke-width="3"/>
<ellipse cx="1633.3" cy="1218.9" rx="11.28" ry="10.5" fill="#7878b0" fill-opacity="0.5"/>
<ellipse cx="1633.3" cy="1218.9" rx="5.08" ry="4.73" fill="#6060a0" fill-opacity="0.2"/>
</g>
<polygon points="1591.15,1152.51 1562.98,1136.79 1567.61,1128.49 1539.2,1128.1 1554.45,1152.07 1559.08,1143.77 1587.25,1159.49" fill="#4a2270"/>
<polygon points="1652.16,1153.36 1655.79,1127.51 1665.2,1128.83 1655.3,1102.2 1638.46,1125.08 1647.86,1126.4 1644.24,1152.24" fill="#52f01e"/>
<polygon points="1734.54,1091.56 1706.07,1106.53 1701.65,1098.12 1685.8,1121.7 1714.21,1122.02 1709.79,1113.61 1738.26,1098.64" fill="#4a2270"/>
<polygon points="1623.55,1235.5 1594.19,1219.16 1598.81,1210.86 1570.4,1210.5 1585.68,1234.45 1590.3,1226.15 1619.65,1242.5" fill="#4a2270"/>
</g>
<rect x="1493.8" y="1066.5" width="252.3" height="175.1" fill="none" stroke="#000" stroke-width="2.2"/>
<clipPath id="mc9"><rect x="1778.2" y="1066.8" width="251.9" height="175.2"/></clipPath>
<g clip-path="url(#mc9)">
<rect x="1778.2" y="1066.8" width="251.9" height="175.2" fill="#f8f3f5" />
<g filter="url(#cb1)">
<ellipse cx="1880.6" cy="1199.4" rx="10" ry="13" fill="#c8a0a8" fill-opacity="0.45"/>
<ellipse cx="1880.6" cy="1199.4" rx="8.5" ry="11.5" fill="none" stroke="#c8a0a8" stroke-opacity="0.0" stroke-width="3"/>
<ellipse cx="1880.6" cy="1199.4" rx="3" ry="3.9" fill="#c8a0a8" fill-opacity="0.0"/>
<ellipse cx="1880.6" cy="1199.4" rx="1.35" ry="1.75" fill="#c8a0a8" fill-opacity="0.0"/>
</g>
<g filter="url(#cb1)">
<ellipse cx="1858.3" cy="1112.3" rx="17.5" ry="15.6" fill="#982c10" fill-opacity="0.96"/>
<ellipse cx="1858.3" cy="1112.3" rx="16" ry="14.1" fill="none" stroke="#7a1c08" stroke-opacity="0.9" stroke-width="3"/>
<ellipse cx="1858.3" cy="1112.3" rx="8.75" ry="7.8" fill="#502028" fill-opacity="0.55"/>
<ellipse cx="1858.3" cy="1112.3" rx="3.94" ry="3.51" fill="#200808" fill-opacity="0.55"/>
</g>
<g filter="url(#cb1)">
<ellipse cx="1843.1" cy="1143.4" rx="17.2" ry="17.2" fill="#a03818" fill-opacity="0.92"/>
<ellipse cx="1843.1" cy="1143.4" rx="15.7" ry="15.7" fill="none" stroke="#8a2410" stroke-opacity="0.85" stroke-width="3"/>
<ellipse cx="1845.1" cy="1146.4" rx="8.6" ry="8.6" fill="#6a3050" fill-opacity="0.5"/>
<ellipse cx="1845.5" cy="1147" rx="3.87" ry="3.87" fill="#401020" fill-opacity="0.45"/>
</g>
<g filter="url(#cb1)">
<ellipse cx="1880" cy="1145.3" rx="19.8" ry="15.3" fill="#982c10" fill-opacity="0.96"/>
<ellipse cx="1880" cy="1145.3" rx="18.3" ry="13.8" fill="none" stroke="#7a1c08" stroke-opacity="0.9" stroke-width="3"/>
<ellipse cx="1880" cy="1145.3" rx="9.9" ry="7.65" fill="#502028" fill-opacity="0.55"/>
<ellipse cx="1880" cy="1145.3" rx="4.46" ry="3.44" fill="#200808" fill-opacity="0.55"/>
</g>
<g filter="url(#cb1)">
<ellipse cx="1888.2" cy="1176.5" rx="16.9" ry="16.9" fill="#a03818" fill-opacity="0.92"/>
<ellipse cx="1888.2" cy="1176.5" rx="15.4" ry="15.4" fill="none" stroke="#8a2410" stroke-opacity="0.85" stroke-width="3"/>
<ellipse cx="1890.2" cy="1178.5" rx="8.45" ry="8.45" fill="#6a3050" fill-opacity="0.5"/>
<ellipse cx="1890.6" cy="1178.9" rx="3.8" ry="3.8" fill="#401020" fill-opacity="0.45"/>
</g>
<g filter="url(#cb1)" transform="rotate(-35 1923.9 1189.2)">
<ellipse cx="1923.9" cy="1189.2" rx="15" ry="20" fill="#982c10" fill-opacity="0.96"/>
<ellipse cx="1923.9" cy="1189.2" rx="13.5" ry="18.5" fill="none" stroke="#7a1c08" stroke-opacity="0.9" stroke-width="3"/>
<ellipse cx="1923.9" cy="1189.2" rx="7.5" ry="10" fill="#502028" fill-opacity="0.55"/>
<ellipse cx="1923.9" cy="1189.2" rx="3.38" ry="4.5" fill="#200808" fill-opacity="0.55"/>
</g>
<polygon points="1922.24,1095.52 1896.84,1097.79 1896,1088.33 1872.3,1104 1898.4,1115.22 1897.56,1105.76 1922.96,1103.48" fill="#52f01e"/>
<polygon points="1948.3,1134.32 1922.28,1136.93 1921.33,1127.47 1897.8,1143.4 1924.02,1154.34 1923.07,1144.89 1949.1,1142.28" fill="#52f01e"/>
<polygon points="1983.37,1166.21 1956.8,1172.53 1954.6,1163.28 1933.4,1182.2 1960.84,1189.55 1958.65,1180.31 1985.23,1173.99" fill="#52f01e"/>
<polygon points="1785.22,1171.38 1812.52,1161.83 1815.66,1170.8 1834.8,1149.8 1806.74,1145.31 1809.88,1154.28 1782.58,1163.82" fill="#4a2270"/>
<polygon points="1833.41,1202.64 1860.2,1194.89 1862.84,1204.02 1883.1,1184.1 1855.33,1178.08 1857.97,1187.21 1831.19,1194.96" fill="#4a2270"/>
</g>
<rect x="1778.2" y="1066.8" width="251.9" height="175.2" fill="none" stroke="#000" stroke-width="2.2"/>
<clipPath id="mc10"><rect x="1205.4" y="1258.5" width="251" height="175.1"/></clipPath>
<g clip-path="url(#mc10)">
<rect x="1205.4" y="1258.5" width="251" height="175.1" fill="#f8f5f7" />
<g filter="url(#cb1)">
<ellipse cx="1232.2" cy="1348" rx="15.8" ry="13.2" fill="#6c70c0" fill-opacity="0.62"/>
<ellipse cx="1232.2" cy="1348" rx="14.3" ry="11.7" fill="none" stroke="#9a5048" stroke-opacity="0.25" stroke-width="3"/>
<ellipse cx="1232.2" cy="1348" rx="11.06" ry="9.24" fill="#2c3ca8" fill-opacity="0.8"/>
<ellipse cx="1232.2" cy="1348" rx="4.98" ry="4.16" fill="#101c80" fill-opacity="0.45"/>
</g>
<g filter="url(#cb1)">
<ellipse cx="1254.1" cy="1367.3" rx="13.9" ry="12.6" fill="#6c70c0" fill-opacity="0.62"/>
<ellipse cx="1254.1" cy="1367.3" rx="12.4" ry="11.1" fill="none" stroke="#9a5048" stroke-opacity="0.25" stroke-width="3"/>
<ellipse cx="1254.1" cy="1367.3" rx="10.43" ry="9.45" fill="#2c3ca8" fill-opacity="0.8"/>
<ellipse cx="1254.1" cy="1367.3" rx="4.69" ry="4.25" fill="#101c80" fill-opacity="0.45"/>
</g>
<g filter="url(#cb1)">
<ellipse cx="1227" cy="1376.3" rx="13.9" ry="17" fill="#982c10" fill-opacity="0.96"/>
<ellipse cx="1227" cy="1376.3" rx="12.4" ry="15.5" fill="none" stroke="#7a1c08" stroke-opacity="0.9" stroke-width="3"/>
<ellipse cx="1227" cy="1373.3" rx="6.95" ry="8.5" fill="#502028" fill-opacity="0.55"/>
<ellipse cx="1227" cy="1372.7" rx="3.13" ry="3.83" fill="#200808" fill-opacity="0.55"/>
</g>
<g filter="url(#cb1)">
<ellipse cx="1294" cy="1366" rx="15.8" ry="17" fill="#6c70c0" fill-opacity="0.62"/>
<ellipse cx="1294" cy="1366" rx="14.3" ry="15.5" fill="none" stroke="#9a5048" stroke-opacity="0.25" stroke-width="3"/>
<ellipse cx="1294" cy="1366" rx="11.38" ry="12.24" fill="#2c3ca8" fill-opacity="0.8"/>
<ellipse cx="1294" cy="1366" rx="5.12" ry="5.51" fill="#101c80" fill-opacity="0.45"/>
</g>
<g filter="url(#cb1)">
<ellipse cx="1433.6" cy="1313.9" rx="16.4" ry="15.5" fill="#aa8090" fill-opacity="0.72"/>
<ellipse cx="1433.6" cy="1313.9" rx="14.9" ry="14" fill="none" stroke="#9a4030" stroke-opacity="0.55" stroke-width="3"/>
<ellipse cx="1433.6" cy="1313.9" rx="9.84" ry="9.3" fill="#8070a8" fill-opacity="0.45"/>
<ellipse cx="1433.6" cy="1313.9" rx="4.43" ry="4.18" fill="#6060a0" fill-opacity="0.2"/>
</g>
<polygon points="1288.89,1398.25 1262.13,1388.34 1265.43,1379.43 1237.3,1383.4 1256.05,1404.74 1259.35,1395.84 1286.11,1405.75" fill="#52f01e"/>
</g>
<rect x="1205.4" y="1258.5" width="251" height="175.1" fill="none" stroke="#000" stroke-width="2.2"/>
<clipPath id="mc11"><rect x="1495.2" y="1258.6" width="254.2" height="174.5"/></clipPath>
<g clip-path="url(#mc11)">
<rect x="1495.2" y="1258.6" width="254.2" height="174.5" fill="#f7f1f3" />
<g filter="url(#cb1)">
<ellipse cx="1526.2" cy="1338.3" rx="18.1" ry="20" fill="#9a7a9e" fill-opacity="0.72"/>
<ellipse cx="1526.2" cy="1338.3" rx="16.6" ry="18.5" fill="none" stroke="#a05040" stroke-opacity="0.45" stroke-width="3"/>
<ellipse cx="1526.2" cy="1338.3" rx="10.86" ry="12" fill="#7878b0" fill-opacity="0.5"/>
<ellipse cx="1526.2" cy="1338.3" rx="4.89" ry="5.4" fill="#6060a0" fill-opacity="0.2"/>
</g>
<g filter="url(#cb1)">
<ellipse cx="1547.3" cy="1327.7" rx="17.8" ry="18.1" fill="#80588a" fill-opacity="0.75"/>
<ellipse cx="1547.3" cy="1327.7" rx="16.3" ry="16.6" fill="none" stroke="#9a3020" stroke-opacity="0.7" stroke-width="3"/>
<ellipse cx="1547.3" cy="1327.7" rx="9.79" ry="9.96" fill="#4a4aa0" fill-opacity="0.65"/>
<ellipse cx="1547.3" cy="1327.7" rx="4.41" ry="4.48" fill="#302060" fill-opacity="0.4"/>
</g>
<g filter="url(#cb1)">
<ellipse cx="1538" cy="1362" rx="15.8" ry="18.8" fill="#982c10" fill-opacity="0.96"/>
<ellipse cx="1538" cy="1362" rx="14.3" ry="17.3" fill="none" stroke="#7a1c08" stroke-opacity="0.9" stroke-width="3"/>
<ellipse cx="1538" cy="1362" rx="7.9" ry="9.4" fill="#502028" fill-opacity="0.55"/>
<ellipse cx="1538" cy="1362" rx="3.56" ry="4.23" fill="#200808" fill-opacity="0.55"/>
</g>
<g filter="url(#cb1)">
<ellipse cx="1526.8" cy="1409.4" rx="20" ry="16.8" fill="#9a7a9e" fill-opacity="0.72"/>
<ellipse cx="1526.8" cy="1409.4" rx="18.5" ry="15.3" fill="none" stroke="#a05040" stroke-opacity="0.45" stroke-width="3"/>
<ellipse cx="1526.8" cy="1409.4" rx="12" ry="10.08" fill="#7878b0" fill-opacity="0.5"/>
<ellipse cx="1526.8" cy="1409.4" rx="5.4" ry="4.54" fill="#6060a0" fill-opacity="0.2"/>
</g>
<g filter="url(#cb1)">
<ellipse cx="1673.7" cy="1280.3" rx="20.4" ry="18.8" fill="#aa8090" fill-opacity="0.72"/>
<ellipse cx="1673.7" cy="1280.3" rx="18.9" ry="17.3" fill="none" stroke="#9a4030" stroke-opacity="0.55" stroke-width="3"/>
<ellipse cx="1675.7" cy="1278.3" rx="12.24" ry="11.28" fill="#8070a8" fill-opacity="0.45"/>
<ellipse cx="1676.1" cy="1277.9" rx="5.51" ry="5.08" fill="#6060a0" fill-opacity="0.2"/>
</g>
<g filter="url(#cb1)">
<ellipse cx="1722.4" cy="1286.9" rx="19.4" ry="16.1" fill="#aa8090" fill-opacity="0.72"/>
<ellipse cx="1722.4" cy="1286.9" rx="17.9" ry="14.6" fill="none" stroke="#9a4030" stroke-opacity="0.55" stroke-width="3"/>
<ellipse cx="1720.4" cy="1286.9" rx="11.64" ry="9.66" fill="#8070a8" fill-opacity="0.45"/>
<ellipse cx="1720" cy="1286.9" rx="5.24" ry="4.35" fill="#6060a0" fill-opacity="0.2"/>
</g>
<polygon points="1522.43,1264.53 1531.94,1291.64 1522.98,1294.78 1544,1313.9 1548.46,1285.84 1539.49,1288.99 1529.97,1261.87" fill="#4a2270"/>
<polygon points="1605.21,1313.08 1632.89,1303.47 1636.01,1312.45 1655.2,1291.5 1627.16,1286.94 1630.27,1295.92 1602.59,1305.52" fill="#4a2270"/>
<polygon points="1725.1,1354.1 1725.1,1324.4 1734.6,1324.4 1721.1,1299.4 1707.6,1324.4 1717.1,1324.4 1717.1,1354.1" fill="#4a2270"/>
<polygon points="1600.99,1368.65 1573.75,1360.95 1576.33,1351.81 1548.6,1358 1568.99,1377.79 1571.57,1368.65 1598.81,1376.35" fill="#52f01e"/>
</g>
<rect x="1495.2" y="1258.6" width="254.2" height="174.5" fill="none" stroke="#000" stroke-width="2.2"/>
<clipPath id="mc12"><rect x="1779.5" y="1258.8" width="251" height="175.2"/></clipPath>
<g clip-path="url(#mc12)">
<rect x="1779.5" y="1258.8" width="251" height="175.2" fill="#f8f2f4" />
<rect x="1876" y="1260" width="26" height="75" fill="#d8b0b8" fill-opacity="0.35" filter="url(#cb2)"/>
<g filter="url(#cb1)">
<ellipse cx="1836.1" cy="1386.3" rx="15.6" ry="16.9" fill="#80588a" fill-opacity="0.75"/>
<ellipse cx="1836.1" cy="1386.3" rx="14.1" ry="15.4" fill="none" stroke="#9a3020" stroke-opacity="0.7" stroke-width="3"/>
<ellipse cx="1836.1" cy="1384.3" rx="10.14" ry="10.98" fill="#4a4aa0" fill-opacity="0.65"/>
<ellipse cx="1836.1" cy="1383.9" rx="4.56" ry="4.94" fill="#302060" fill-opacity="0.4"/>
</g>
<g filter="url(#cb1)">
<ellipse cx="1889.5" cy="1369.8" rx="15" ry="16.3" fill="#6c70c0" fill-opacity="0.62"/>
<ellipse cx="1889.5" cy="1369.8" rx="13.5" ry="14.8" fill="none" stroke="#9a5048" stroke-opacity="0.25" stroke-width="3"/>
<ellipse cx="1889.5" cy="1369.8" rx="10.5" ry="11.41" fill="#2c3ca8" fill-opacity="0.8"/>
<ellipse cx="1889.5" cy="1369.8" rx="4.73" ry="5.13" fill="#101c80" fill-opacity="0.45"/>
</g>
<g filter="url(#cb1)">
<ellipse cx="1898.4" cy="1343.1" rx="16.3" ry="13.7" fill="#982c10" fill-opacity="0.96"/>
<ellipse cx="1898.4" cy="1343.1" rx="14.8" ry="12.2" fill="none" stroke="#7a1c08" stroke-opacity="0.9" stroke-width="3"/>
<ellipse cx="1898.4" cy="1343.1" rx="8.15" ry="6.85" fill="#502028" fill-opacity="0.55"/>
<ellipse cx="1898.4" cy="1343.1" rx="3.67" ry="3.08" fill="#200808" fill-opacity="0.55"/>
</g>
<g filter="url(#cb1)">
<ellipse cx="1923.9" cy="1355.8" rx="14.4" ry="15" fill="#982c10" fill-opacity="0.96"/>
<ellipse cx="1923.9" cy="1355.8" rx="12.9" ry="13.5" fill="none" stroke="#7a1c08" stroke-opacity="0.9" stroke-width="3"/>
<ellipse cx="1923.9" cy="1355.8" rx="7.2" ry="7.5" fill="#502028" fill-opacity="0.55"/>
<ellipse cx="1923.9" cy="1355.8" rx="3.24" ry="3.38" fill="#200808" fill-opacity="0.55"/>
</g>
<g filter="url(#cb1)">
<ellipse cx="1922" cy="1386.3" rx="17.5" ry="13.7" fill="#982c10" fill-opacity="0.96"/>
<ellipse cx="1922" cy="1386.3" rx="16" ry="12.2" fill="none" stroke="#7a1c08" stroke-opacity="0.9" stroke-width="3"/>
<ellipse cx="1922" cy="1386.3" rx="8.75" ry="6.85" fill="#502028" fill-opacity="0.55"/>
<ellipse cx="1922" cy="1386.3" rx="3.94" ry="3.08" fill="#200808" fill-opacity="0.55"/>
</g>
<g filter="url(#cb1)">
<ellipse cx="1920" cy="1300.4" rx="15.3" ry="16" fill="#982c10" fill-opacity="0.96"/>
<ellipse cx="1920" cy="1300.4" rx="13.8" ry="14.5" fill="none" stroke="#7a1c08" stroke-opacity="0.9" stroke-width="3"/>
<ellipse cx="1920" cy="1300.4" rx="7.65" ry="8" fill="#502028" fill-opacity="0.55"/>
<ellipse cx="1920" cy="1300.4" rx="3.44" ry="3.6" fill="#200808" fill-opacity="0.55"/>
</g>
<polygon points="1982.82,1275.5 1956.3,1281.49 1954.21,1272.22 1932.8,1290.9 1960.16,1298.56 1958.07,1289.29 1984.58,1283.3" fill="#52f01e"/>
<polygon points="1961.16,1314.29 1934.71,1319.95 1932.72,1310.66 1911.1,1329.1 1938.37,1337.07 1936.38,1327.78 1962.84,1322.11" fill="#52f01e"/>
<polygon points="1987.17,1334.11 1960.6,1340.43 1958.4,1331.18 1937.2,1350.1 1964.64,1357.45 1962.45,1348.21 1989.03,1341.89" fill="#52f01e"/>
<polygon points="1988.52,1361.4 1962,1367.39 1959.91,1358.12 1938.5,1376.8 1965.86,1384.46 1963.77,1375.19 1990.28,1369.2" fill="#52f01e"/>
<polygon points="1900.23,1412.04 1871.57,1397.35 1875.91,1388.89 1847.5,1389.5 1863.59,1412.92 1867.92,1404.47 1896.57,1419.16" fill="#4a2270"/>
</g>
<rect x="1779.5" y="1258.8" width="251" height="175.2" fill="none" stroke="#000" stroke-width="2.2"/>
<rect x="1949.3" y="1416.8" width="68.7" height="4.5" fill="#000" />
<text x="1048.1" y="665.6" font-size="35.390" font-family="Liberation Sans, Arial, sans-serif" fill="#000">PPARγ</text>
<text x="1234.97" y="652.3" font-size="34.100" font-family="Liberation Sans, Arial, sans-serif" fill="#000">Unstimulated</text>
<text x="1581.43" y="652.3" font-size="33.092" font-family="Liberation Sans, Arial, sans-serif" fill="#000">ApoF</text>
<text x="1806.23" y="652.3" font-size="33.902" font-family="Liberation Sans, Arial, sans-serif" fill="#000">ApoF+CD36i</text>
<text x="1109.57" y="762.7" font-size="34.471" font-family="Liberation Sans, Arial, sans-serif" fill="#000">Males</text>
<text x="1068.68" y="953.8" font-size="34.383" font-family="Liberation Sans, Arial, sans-serif" fill="#000">Females</text>
<text x="1042.19" y="1065.5" font-size="34.290" font-family="Liberation Sans, Arial, sans-serif" fill="#000">NFκB p65</text>
<text x="1107.07" y="1168.8" font-size="34.471" font-family="Liberation Sans, Arial, sans-serif" fill="#000">Males</text>
<text x="1067.18" y="1344" font-size="34.383" font-family="Liberation Sans, Arial, sans-serif" fill="#000">Females</text>
<rect x="1475.3" y="1452.6" width="283.7" height="179.5" fill="none" stroke="#3d1a6a" stroke-width="2.2"/>
<text x="1487.69" y="1503.1" font-size="48.856" font-family="Liberation Sans, Arial, sans-serif" fill="#000">Legend</text>
<rect x="1489.5" y="1508.4" width="161.3" height="3.3" fill="#000" />
<polygon points="1482.8,1533.5 1514.9,1533.5 1514.9,1519.6 1557.8,1540.8 1514.9,1562.2 1514.9,1548.3 1482.8,1548.3" fill="#52f01e"/>
<polygon points="1482.8,1589.9 1514.9,1589.9 1514.9,1575.0 1557.8,1596.4 1514.9,1618.0 1514.9,1603.8 1482.8,1603.8" fill="#4a2270"/>
<text x="1562.7" y="1558.2" font-size="43.920" font-family="Liberation Sans, Arial, sans-serif" fill="#000">Nuclear</text>
<text x="1559.78" y="1615.6" font-size="43.618" font-family="Liberation Sans, Arial, sans-serif" fill="#000">Cytosolic</text>
</svg></body></html>
